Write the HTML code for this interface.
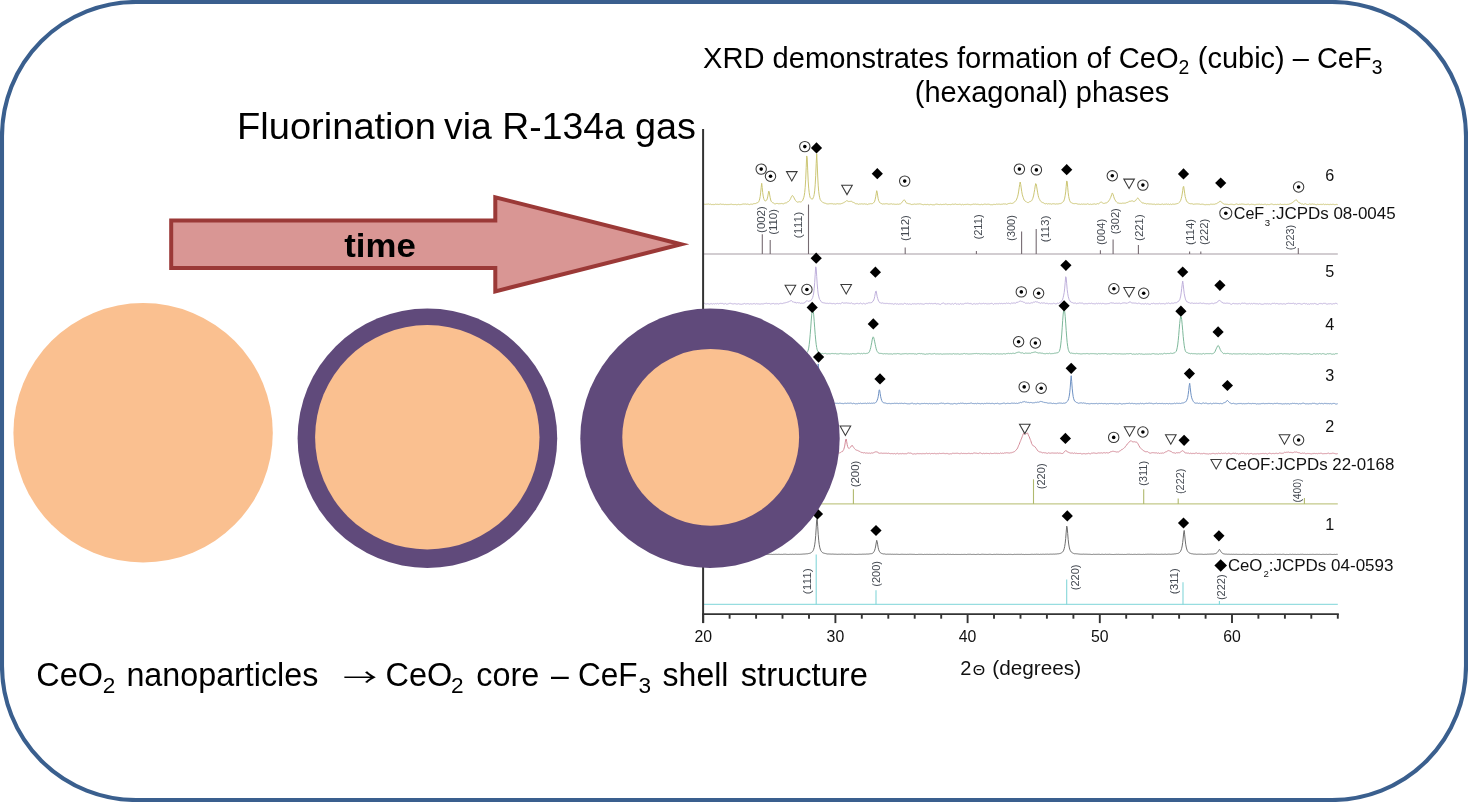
<!DOCTYPE html>
<html lang="en"><head><meta charset="utf-8"><title>CeO2 core – CeF3 shell graphical abstract</title>
<style>
html,body{margin:0;padding:0;background:#fff;}
body{width:1468px;height:802px;overflow:hidden;}
svg{display:block;}
text{font-family:"Liberation Sans",Arial,sans-serif;fill:#000;}
.big{font-size:37.33px;}
.bot{font-size:34px;}
.ttl{font-size:29.3px;}
.ax{font-size:16.2px;fill:#111;}
.lg{font-size:15.8px;fill:#111;}
.hk{font-size:11.5px;fill:#454a52;}
.num{font-size:16.2px;fill:#111;}
</style></head><body>
<svg width="1468" height="802" viewBox="0 0 1468 802">
<rect x="0" y="0" width="1468" height="802" fill="#fff"/>

<g id="chart">
<line x1="703.2" y1="254.0" x2="1337.8" y2="254.0" stroke="#a59ca3" stroke-width="1.2"/>
<line x1="703.2" y1="503.9" x2="1337.8" y2="503.9" stroke="#c3c98a" stroke-width="1.2"/>
<line x1="703.2" y1="604.4" x2="1337.8" y2="604.4" stroke="#97dde0" stroke-width="1.2"/>
<line x1="762.3" y1="234.2" x2="762.3" y2="254.0" stroke="#766b72" stroke-width="1.1"/>
<line x1="770.2" y1="240" x2="770.2" y2="254.0" stroke="#766b72" stroke-width="1.1"/>
<line x1="808.5" y1="204.5" x2="808.5" y2="254.0" stroke="#766b72" stroke-width="1.1"/>
<line x1="905.2" y1="247.5" x2="905.2" y2="254.0" stroke="#766b72" stroke-width="1.1"/>
<line x1="976.4" y1="251" x2="976.4" y2="254.0" stroke="#766b72" stroke-width="1.1"/>
<line x1="1021.6" y1="231.6" x2="1021.6" y2="254.0" stroke="#766b72" stroke-width="1.1"/>
<line x1="1036.2" y1="228.9" x2="1036.2" y2="254.0" stroke="#766b72" stroke-width="1.1"/>
<line x1="1100.4" y1="250.2" x2="1100.4" y2="254.0" stroke="#766b72" stroke-width="1.1"/>
<line x1="1113.1" y1="239.6" x2="1113.1" y2="254.0" stroke="#766b72" stroke-width="1.1"/>
<line x1="1138.4" y1="244.9" x2="1138.4" y2="254.0" stroke="#766b72" stroke-width="1.1"/>
<line x1="1189.6" y1="251.5" x2="1189.6" y2="254.0" stroke="#766b72" stroke-width="1.1"/>
<line x1="1200.8" y1="251.5" x2="1200.8" y2="254.0" stroke="#766b72" stroke-width="1.1"/>
<line x1="1298.3" y1="248" x2="1298.3" y2="254.0" stroke="#766b72" stroke-width="1.1"/>
<line x1="853.4" y1="489.2" x2="853.4" y2="503.9" stroke="#b0b96e" stroke-width="1.1"/>
<line x1="1033.5" y1="479.3" x2="1033.5" y2="503.9" stroke="#b0b96e" stroke-width="1.1"/>
<line x1="1143.7" y1="489.2" x2="1143.7" y2="503.9" stroke="#b0b96e" stroke-width="1.1"/>
<line x1="1178.2" y1="498.6" x2="1178.2" y2="503.9" stroke="#b0b96e" stroke-width="1.1"/>
<line x1="1304.4" y1="498" x2="1304.4" y2="503.9" stroke="#b0b96e" stroke-width="1.1"/>
<line x1="816.2" y1="554.4" x2="816.2" y2="604.4" stroke="#84d6d9" stroke-width="1.1"/>
<line x1="876" y1="590.3" x2="876" y2="604.4" stroke="#84d6d9" stroke-width="1.1"/>
<line x1="1066.7" y1="579.6" x2="1066.7" y2="604.4" stroke="#84d6d9" stroke-width="1.1"/>
<line x1="1183" y1="582.3" x2="1183" y2="604.4" stroke="#84d6d9" stroke-width="1.1"/>
<line x1="1219.4" y1="600.9" x2="1219.4" y2="604.4" stroke="#84d6d9" stroke-width="1.1"/>
<path d="M703.2,204.37 L703.7,204.21 L704.2,204.40 L704.7,204.18 L705.2,204.32 L705.7,204.30 L706.2,204.12 L706.7,204.26 L707.2,204.08 L707.7,204.20 L708.2,204.06 L708.7,203.99 L709.2,204.14 L709.7,204.45 L710.2,204.24 L710.7,204.17 L711.2,204.36 L711.7,204.65 L712.2,204.62 L712.7,204.49 L713.2,204.75 L713.7,204.38 L714.2,204.61 L714.7,204.43 L715.2,204.24 L715.7,204.11 L716.2,204.14 L716.7,204.44 L717.2,204.27 L717.7,204.39 L718.2,204.49 L718.7,204.40 L719.2,204.45 L719.7,204.20 L720.2,204.05 L720.7,204.05 L721.2,204.31 L721.7,204.32 L722.2,204.27 L722.7,204.38 L723.2,204.38 L723.7,204.29 L724.2,204.52 L724.7,204.60 L725.2,204.39 L725.7,204.45 L726.2,204.46 L726.7,204.66 L727.2,204.70 L727.7,204.47 L728.2,204.72 L728.7,204.39 L729.2,204.36 L729.7,204.53 L730.2,204.29 L730.7,204.34 L731.2,204.11 L731.7,204.33 L732.2,204.51 L732.7,204.51 L733.2,204.68 L733.7,204.47 L734.2,204.55 L734.7,204.55 L735.2,204.53 L735.7,204.45 L736.2,204.62 L736.7,204.78 L737.2,204.61 L737.7,204.61 L738.2,204.27 L738.7,204.43 L739.2,204.49 L739.7,204.72 L740.2,204.76 L740.7,204.48 L741.2,204.37 L741.7,204.46 L742.2,204.15 L742.7,204.20 L743.2,204.07 L743.7,203.96 L744.2,203.86 L744.7,204.19 L745.2,204.03 L745.7,204.00 L746.2,204.05 L746.7,204.35 L747.2,204.08 L747.7,204.12 L748.2,204.20 L748.7,204.42 L749.2,204.51 L749.7,204.59 L750.2,204.29 L750.7,204.18 L751.2,204.07 L751.7,204.29 L752.2,204.45 L752.7,204.07 L753.2,203.84 L753.7,203.70 L754.2,203.60 L754.7,203.63 L755.2,203.67 L755.7,203.45 L756.2,203.09 L756.7,203.01 L757.2,202.79 L757.7,202.58 L758.2,202.38 L758.7,201.70 L759.2,200.56 L759.7,198.93 L760.2,196.40 L760.7,192.17 L761.2,187.37 L761.7,183.32 L762.2,187.49 L762.7,192.50 L763.2,196.08 L763.7,198.40 L764.2,199.64 L764.7,200.66 L765.2,200.86 L765.7,200.83 L766.2,200.61 L766.7,199.99 L767.2,198.93 L767.7,196.90 L768.2,194.00 L768.7,191.11 L769.2,191.68 L769.7,194.98 L770.2,197.66 L770.7,199.98 L771.2,201.31 L771.7,201.90 L772.2,202.35 L772.7,202.72 L773.2,202.99 L773.7,203.04 L774.2,203.50 L774.7,203.87 L775.2,203.82 L775.7,203.80 L776.2,203.58 L776.7,203.46 L777.2,203.52 L777.7,203.51 L778.2,203.82 L778.7,203.63 L779.2,203.43 L779.7,203.83 L780.2,203.81 L780.7,203.58 L781.2,203.64 L781.7,203.38 L782.2,203.47 L782.7,203.75 L783.2,203.83 L783.7,203.74 L784.2,203.40 L784.7,203.20 L785.2,202.90 L785.7,202.98 L786.2,202.81 L786.7,202.73 L787.2,202.29 L787.7,201.80 L788.2,201.64 L788.7,201.39 L789.2,200.87 L789.7,200.19 L790.2,199.39 L790.7,198.46 L791.2,197.22 L791.7,196.36 L792.2,195.59 L792.7,195.68 L793.2,196.27 L793.7,197.19 L794.2,198.08 L794.7,199.13 L795.2,200.13 L795.7,200.60 L796.2,201.27 L796.7,201.79 L797.2,202.15 L797.7,202.07 L798.2,201.96 L798.7,201.90 L799.2,201.82 L799.7,201.74 L800.2,201.86 L800.7,201.99 L801.2,201.89 L801.7,201.43 L802.2,200.98 L802.7,200.39 L803.2,199.07 L803.7,197.76 L804.2,195.82 L804.7,192.58 L805.2,187.44 L805.7,179.25 L806.2,167.57 L806.7,155.95 L807.2,157.81 L807.7,170.14 L808.2,181.07 L808.7,188.14 L809.2,192.61 L809.7,195.72 L810.2,197.53 L810.7,198.33 L811.2,198.75 L811.7,198.89 L812.2,199.17 L812.7,198.92 L813.2,197.81 L813.7,196.61 L814.2,194.54 L814.7,190.82 L815.2,184.75 L815.7,175.70 L816.2,163.67 L816.7,153.84 L817.2,164.00 L817.7,176.00 L818.2,185.16 L818.7,191.40 L819.2,195.10 L819.7,197.75 L820.2,199.49 L820.7,200.33 L821.2,200.98 L821.7,201.50 L822.2,201.87 L822.7,202.36 L823.2,202.53 L823.7,202.77 L824.2,202.80 L824.7,203.29 L825.2,203.30 L825.7,203.39 L826.2,203.54 L826.7,203.84 L827.2,203.76 L827.7,204.00 L828.2,203.93 L828.7,203.92 L829.2,203.92 L829.7,203.64 L830.2,203.72 L830.7,203.63 L831.2,203.48 L831.7,203.84 L832.2,203.71 L832.7,203.80 L833.2,204.00 L833.7,204.03 L834.2,203.91 L834.7,203.95 L835.2,203.99 L835.7,204.13 L836.2,203.84 L836.7,203.91 L837.2,203.76 L837.7,203.68 L838.2,203.89 L838.7,203.85 L839.2,203.84 L839.7,203.91 L840.2,204.01 L840.7,203.76 L841.2,203.66 L841.7,203.48 L842.2,203.30 L842.7,203.20 L843.2,202.90 L843.7,202.63 L844.2,202.28 L844.7,202.16 L845.2,201.77 L845.7,201.47 L846.2,201.19 L846.7,200.57 L847.2,200.72 L847.7,201.17 L848.2,201.50 L848.7,201.39 L849.2,201.35 L849.7,201.51 L850.2,201.38 L850.7,201.36 L851.2,201.22 L851.7,201.46 L852.2,201.78 L852.7,202.23 L853.2,202.22 L853.7,202.63 L854.2,202.94 L854.7,202.91 L855.2,203.37 L855.7,203.74 L856.2,203.57 L856.7,203.92 L857.2,203.84 L857.7,203.87 L858.2,204.18 L858.7,204.30 L859.2,204.00 L859.7,203.99 L860.2,204.04 L860.7,203.97 L861.2,203.86 L861.7,203.87 L862.2,204.11 L862.7,203.86 L863.2,204.01 L863.7,204.04 L864.2,203.82 L864.7,203.86 L865.2,204.05 L865.7,204.10 L866.2,203.88 L866.7,204.25 L867.2,204.36 L867.7,204.52 L868.2,204.12 L868.7,203.96 L869.2,203.72 L869.7,203.97 L870.2,203.81 L870.7,203.60 L871.2,203.60 L871.7,203.81 L872.2,203.80 L872.7,203.36 L873.2,202.87 L873.7,202.76 L874.2,202.11 L874.7,201.19 L875.2,199.35 L875.7,196.76 L876.2,193.73 L876.7,190.69 L877.2,192.17 L877.7,195.92 L878.2,198.75 L878.7,200.73 L879.2,201.58 L879.7,202.58 L880.2,202.78 L880.7,203.39 L881.2,203.56 L881.7,203.62 L882.2,203.81 L882.7,204.15 L883.2,204.00 L883.7,203.84 L884.2,203.98 L884.7,203.92 L885.2,203.81 L885.7,203.79 L886.2,203.71 L886.7,203.76 L887.2,203.85 L887.7,203.91 L888.2,204.20 L888.7,204.11 L889.2,204.18 L889.7,204.04 L890.2,204.05 L890.7,203.88 L891.2,203.90 L891.7,203.78 L892.2,204.11 L892.7,204.20 L893.2,204.06 L893.7,204.12 L894.2,204.41 L894.7,204.12 L895.2,204.34 L895.7,204.24 L896.2,204.21 L896.7,204.36 L897.2,204.19 L897.7,204.13 L898.2,204.17 L898.7,204.32 L899.2,204.01 L899.7,204.03 L900.2,203.89 L900.7,203.66 L901.2,203.24 L901.7,202.76 L902.2,202.05 L902.7,201.34 L903.2,200.54 L903.7,200.18 L904.2,199.79 L904.7,200.26 L905.2,200.87 L905.7,201.91 L906.2,202.70 L906.7,203.16 L907.2,203.28 L907.7,203.38 L908.2,203.50 L908.7,203.70 L909.2,203.67 L909.7,203.83 L910.2,203.84 L910.7,204.25 L911.2,204.52 L911.7,204.44 L912.2,204.24 L912.7,204.53 L913.2,204.34 L913.7,204.25 L914.2,204.01 L914.7,204.08 L915.2,204.18 L915.7,204.26 L916.2,204.14 L916.7,204.24 L917.2,204.02 L917.7,204.03 L918.2,203.95 L918.7,204.07 L919.2,203.95 L919.7,203.86 L920.2,203.97 L920.7,204.00 L921.2,204.21 L921.7,204.31 L922.2,204.49 L922.7,204.55 L923.2,204.62 L923.7,204.75 L924.2,204.56 L924.7,204.41 L925.2,204.69 L925.7,204.39 L926.2,204.53 L926.7,204.57 L927.2,204.26 L927.7,204.52 L928.2,204.70 L928.7,204.67 L929.2,204.71 L929.7,204.77 L930.2,204.44 L930.7,204.45 L931.2,204.45 L931.7,204.63 L932.2,204.73 L932.7,204.79 L933.2,204.70 L933.7,204.82 L934.2,204.77 L934.7,204.75 L935.2,204.47 L935.7,204.20 L936.2,204.09 L936.7,204.15 L937.2,204.05 L937.7,204.40 L938.2,204.45 L938.7,204.52 L939.2,204.56 L939.7,204.62 L940.2,204.54 L940.7,204.23 L941.2,204.48 L941.7,204.61 L942.2,204.54 L942.7,204.52 L943.2,204.58 L943.7,204.29 L944.2,204.48 L944.7,204.33 L945.2,204.14 L945.7,204.13 L946.2,204.39 L946.7,204.24 L947.2,204.46 L947.7,204.72 L948.2,204.61 L948.7,204.48 L949.2,204.45 L949.7,204.55 L950.2,204.66 L950.7,204.64 L951.2,204.64 L951.7,204.33 L952.2,204.18 L952.7,204.15 L953.2,204.40 L953.7,204.31 L954.2,204.40 L954.7,204.15 L955.2,204.02 L955.7,204.06 L956.2,204.31 L956.7,204.47 L957.2,204.56 L957.7,204.40 L958.2,204.42 L958.7,204.41 L959.2,204.41 L959.7,204.21 L960.2,204.52 L960.7,204.32 L961.2,204.64 L961.7,204.80 L962.2,204.39 L962.7,204.39 L963.2,204.59 L963.7,204.79 L964.2,204.62 L964.7,204.42 L965.2,204.26 L965.7,204.58 L966.2,204.36 L966.7,204.44 L967.2,204.24 L967.7,204.33 L968.2,204.62 L968.7,204.34 L969.2,204.56 L969.7,204.51 L970.2,204.70 L970.7,204.70 L971.2,204.44 L971.7,204.66 L972.2,204.56 L972.7,204.24 L973.2,204.04 L973.7,204.19 L974.2,204.25 L974.7,204.21 L975.2,204.09 L975.7,204.14 L976.2,204.15 L976.7,204.45 L977.2,204.16 L977.7,204.40 L978.2,204.60 L978.7,204.31 L979.2,204.59 L979.7,204.64 L980.2,204.77 L980.7,204.51 L981.2,204.39 L981.7,204.34 L982.2,204.64 L982.7,204.60 L983.2,204.44 L983.7,204.38 L984.2,204.26 L984.7,204.06 L985.2,203.97 L985.7,204.32 L986.2,204.23 L986.7,204.53 L987.2,204.33 L987.7,204.22 L988.2,204.29 L988.7,204.15 L989.2,204.16 L989.7,204.50 L990.2,204.66 L990.7,204.71 L991.2,204.64 L991.7,204.76 L992.2,204.84 L992.7,204.67 L993.2,204.66 L993.7,204.27 L994.2,204.43 L994.7,204.36 L995.2,204.48 L995.7,204.49 L996.2,204.30 L996.7,204.04 L997.2,204.38 L997.7,204.13 L998.2,204.17 L998.7,204.12 L999.2,204.06 L999.7,204.27 L1000.2,204.52 L1000.7,204.27 L1001.2,204.33 L1001.7,204.16 L1002.2,204.20 L1002.7,204.13 L1003.2,203.95 L1003.7,203.83 L1004.2,203.78 L1004.7,204.13 L1005.2,204.10 L1005.7,203.92 L1006.2,204.18 L1006.7,204.37 L1007.2,204.17 L1007.7,203.86 L1008.2,203.68 L1008.7,203.49 L1009.2,203.50 L1009.7,203.33 L1010.2,203.28 L1010.7,203.23 L1011.2,203.32 L1011.7,203.50 L1012.2,203.47 L1012.7,203.18 L1013.2,202.91 L1013.7,202.69 L1014.2,202.33 L1014.7,201.90 L1015.2,201.25 L1015.7,200.67 L1016.2,200.30 L1016.7,199.08 L1017.2,197.84 L1017.7,196.23 L1018.2,194.17 L1018.7,191.08 L1019.2,187.67 L1019.7,184.35 L1020.2,182.00 L1020.7,184.40 L1021.2,187.91 L1021.7,191.30 L1022.2,194.20 L1022.7,195.99 L1023.2,197.43 L1023.7,198.92 L1024.2,200.10 L1024.7,200.71 L1025.2,201.24 L1025.7,201.31 L1026.2,201.62 L1026.7,202.13 L1027.2,202.39 L1027.7,202.56 L1028.2,202.70 L1028.7,202.32 L1029.2,201.95 L1029.7,201.64 L1030.2,201.52 L1030.7,201.35 L1031.2,201.14 L1031.7,200.55 L1032.2,199.71 L1032.7,198.66 L1033.2,197.06 L1033.7,195.08 L1034.2,192.26 L1034.7,189.44 L1035.2,186.03 L1035.7,183.60 L1036.2,184.10 L1036.7,186.84 L1037.2,189.92 L1037.7,192.85 L1038.2,195.47 L1038.7,197.49 L1039.2,198.67 L1039.7,199.58 L1040.2,200.55 L1040.7,201.31 L1041.2,201.76 L1041.7,202.03 L1042.2,202.48 L1042.7,202.48 L1043.2,202.70 L1043.7,202.96 L1044.2,203.43 L1044.7,203.57 L1045.2,203.82 L1045.7,203.76 L1046.2,203.61 L1046.7,203.54 L1047.2,203.92 L1047.7,204.01 L1048.2,203.86 L1048.7,203.61 L1049.2,203.74 L1049.7,203.93 L1050.2,203.90 L1050.7,203.80 L1051.2,203.97 L1051.7,204.22 L1052.2,203.98 L1052.7,203.73 L1053.2,203.74 L1053.7,203.80 L1054.2,203.98 L1054.7,203.81 L1055.2,204.04 L1055.7,204.14 L1056.2,204.05 L1056.7,203.83 L1057.2,204.10 L1057.7,203.89 L1058.2,204.02 L1058.7,203.74 L1059.2,203.54 L1059.7,203.68 L1060.2,203.45 L1060.7,203.61 L1061.2,203.37 L1061.7,202.94 L1062.2,202.54 L1062.7,202.19 L1063.2,201.81 L1063.7,201.29 L1064.2,199.85 L1064.7,198.11 L1065.2,195.38 L1065.7,191.84 L1066.2,186.33 L1066.7,180.95 L1067.2,181.73 L1067.7,187.26 L1068.2,192.64 L1068.7,196.45 L1069.2,198.89 L1069.7,200.64 L1070.2,201.76 L1070.7,202.19 L1071.2,202.44 L1071.7,203.08 L1072.2,203.40 L1072.7,203.24 L1073.2,203.53 L1073.7,203.58 L1074.2,203.63 L1074.7,203.65 L1075.2,203.59 L1075.7,203.48 L1076.2,203.58 L1076.7,203.69 L1077.2,204.11 L1077.7,203.90 L1078.2,204.25 L1078.7,204.05 L1079.2,204.01 L1079.7,204.26 L1080.2,204.41 L1080.7,204.29 L1081.2,204.00 L1081.7,204.07 L1082.2,204.06 L1082.7,204.36 L1083.2,204.14 L1083.7,204.10 L1084.2,204.38 L1084.7,204.06 L1085.2,204.08 L1085.7,204.32 L1086.2,204.44 L1086.7,204.10 L1087.2,203.90 L1087.7,203.79 L1088.2,204.20 L1088.7,204.08 L1089.2,204.27 L1089.7,204.48 L1090.2,204.28 L1090.7,204.12 L1091.2,204.41 L1091.7,204.38 L1092.2,204.17 L1092.7,204.28 L1093.2,204.12 L1093.7,203.99 L1094.2,203.76 L1094.7,204.02 L1095.2,204.25 L1095.7,204.22 L1096.2,204.34 L1096.7,203.87 L1097.2,203.67 L1097.7,203.63 L1098.2,203.80 L1098.7,203.82 L1099.2,203.39 L1099.7,202.91 L1100.2,202.55 L1100.7,202.24 L1101.2,202.24 L1101.7,202.17 L1102.2,202.63 L1102.7,202.97 L1103.2,203.26 L1103.7,203.43 L1104.2,203.43 L1104.7,203.24 L1105.2,203.09 L1105.7,202.97 L1106.2,203.05 L1106.7,202.61 L1107.2,202.29 L1107.7,202.23 L1108.2,201.70 L1108.7,201.00 L1109.2,200.20 L1109.7,199.53 L1110.2,198.41 L1110.7,197.40 L1111.2,195.99 L1111.7,194.59 L1112.2,193.07 L1112.7,193.45 L1113.2,194.73 L1113.7,196.45 L1114.2,198.12 L1114.7,199.31 L1115.2,200.14 L1115.7,200.91 L1116.2,201.62 L1116.7,202.17 L1117.2,202.61 L1117.7,203.00 L1118.2,203.17 L1118.7,203.00 L1119.2,203.33 L1119.7,203.24 L1120.2,203.35 L1120.7,203.32 L1121.2,203.50 L1121.7,203.30 L1122.2,203.20 L1122.7,203.12 L1123.2,203.00 L1123.7,203.30 L1124.2,203.28 L1124.7,203.08 L1125.2,202.94 L1125.7,203.13 L1126.2,202.89 L1126.7,202.51 L1127.2,202.51 L1127.7,202.31 L1128.2,202.27 L1128.7,201.63 L1129.2,201.35 L1129.7,201.29 L1130.2,201.20 L1130.7,201.28 L1131.2,200.97 L1131.7,200.98 L1132.2,200.94 L1132.7,200.97 L1133.2,201.43 L1133.7,201.43 L1134.2,201.54 L1134.7,201.15 L1135.2,200.99 L1135.7,200.40 L1136.2,199.63 L1136.7,199.14 L1137.2,198.69 L1137.7,197.85 L1138.2,198.29 L1138.7,199.09 L1139.2,199.71 L1139.7,200.45 L1140.2,200.98 L1140.7,201.48 L1141.2,201.92 L1141.7,202.47 L1142.2,202.89 L1142.7,202.95 L1143.2,202.93 L1143.7,203.13 L1144.2,203.48 L1144.7,203.45 L1145.2,203.52 L1145.7,203.52 L1146.2,203.87 L1146.7,203.96 L1147.2,203.75 L1147.7,203.66 L1148.2,203.78 L1148.7,203.95 L1149.2,204.11 L1149.7,203.90 L1150.2,203.83 L1150.7,204.09 L1151.2,204.09 L1151.7,204.02 L1152.2,204.00 L1152.7,204.35 L1153.2,204.21 L1153.7,204.26 L1154.2,204.19 L1154.7,204.17 L1155.2,204.42 L1155.7,204.64 L1156.2,204.42 L1156.7,204.20 L1157.2,204.37 L1157.7,204.17 L1158.2,203.95 L1158.7,204.31 L1159.2,204.27 L1159.7,204.46 L1160.2,204.35 L1160.7,204.55 L1161.2,204.43 L1161.7,204.19 L1162.2,203.97 L1162.7,204.13 L1163.2,204.28 L1163.7,204.52 L1164.2,204.20 L1164.7,204.31 L1165.2,204.23 L1165.7,204.26 L1166.2,204.07 L1166.7,204.03 L1167.2,204.14 L1167.7,204.43 L1168.2,204.14 L1168.7,204.18 L1169.2,204.37 L1169.7,204.57 L1170.2,204.26 L1170.7,204.02 L1171.2,204.33 L1171.7,204.52 L1172.2,204.35 L1172.7,204.00 L1173.2,204.26 L1173.7,204.10 L1174.2,204.28 L1174.7,204.20 L1175.2,204.24 L1175.7,203.86 L1176.2,203.94 L1176.7,203.62 L1177.2,203.47 L1177.7,203.54 L1178.2,203.46 L1178.7,202.91 L1179.2,202.39 L1179.7,201.91 L1180.2,201.30 L1180.7,200.30 L1181.2,198.74 L1181.7,196.70 L1182.2,194.12 L1182.7,190.75 L1183.2,186.83 L1183.7,186.34 L1184.2,189.92 L1184.7,193.32 L1185.2,196.59 L1185.7,198.51 L1186.2,200.13 L1186.7,201.22 L1187.2,202.03 L1187.7,202.42 L1188.2,202.78 L1188.7,203.15 L1189.2,203.33 L1189.7,203.60 L1190.2,203.68 L1190.7,203.75 L1191.2,203.58 L1191.7,203.83 L1192.2,203.93 L1192.7,203.85 L1193.2,204.12 L1193.7,204.30 L1194.2,204.23 L1194.7,204.04 L1195.2,204.10 L1195.7,203.94 L1196.2,203.86 L1196.7,203.99 L1197.2,203.88 L1197.7,204.01 L1198.2,204.13 L1198.7,203.95 L1199.2,204.17 L1199.7,204.00 L1200.2,204.26 L1200.7,204.45 L1201.2,204.41 L1201.7,204.13 L1202.2,204.22 L1202.7,204.20 L1203.2,204.51 L1203.7,204.25 L1204.2,204.49 L1204.7,204.71 L1205.2,204.70 L1205.7,204.74 L1206.2,204.41 L1206.7,204.66 L1207.2,204.53 L1207.7,204.71 L1208.2,204.80 L1208.7,204.43 L1209.2,204.55 L1209.7,204.70 L1210.2,204.30 L1210.7,204.22 L1211.2,204.39 L1211.7,204.15 L1212.2,204.41 L1212.7,204.21 L1213.2,204.38 L1213.7,204.09 L1214.2,204.09 L1214.7,204.30 L1215.2,204.00 L1215.7,203.80 L1216.2,203.75 L1216.7,203.54 L1217.2,203.15 L1217.7,202.85 L1218.2,202.46 L1218.7,202.42 L1219.2,201.99 L1219.7,201.63 L1220.2,200.93 L1220.7,201.50 L1221.2,201.77 L1221.7,202.38 L1222.2,202.94 L1222.7,203.19 L1223.2,203.69 L1223.7,203.85 L1224.2,203.99 L1224.7,204.26 L1225.2,204.01 L1225.7,204.37 L1226.2,204.40 L1226.7,204.29 L1227.2,204.46 L1227.7,204.27 L1228.2,204.57 L1228.7,204.53 L1229.2,204.38 L1229.7,204.53 L1230.2,204.43 L1230.7,204.23 L1231.2,204.43 L1231.7,204.17 L1232.2,204.44 L1232.7,204.29 L1233.2,204.42 L1233.7,204.69 L1234.2,204.63 L1234.7,204.64 L1235.2,204.45 L1235.7,204.16 L1236.2,204.01 L1236.7,203.98 L1237.2,204.23 L1237.7,204.27 L1238.2,204.35 L1238.7,204.60 L1239.2,204.33 L1239.7,204.22 L1240.2,204.40 L1240.7,204.15 L1241.2,203.99 L1241.7,204.09 L1242.2,204.01 L1242.7,204.11 L1243.2,204.09 L1243.7,204.28 L1244.2,204.40 L1244.7,204.25 L1245.2,204.40 L1245.7,204.41 L1246.2,204.22 L1246.7,204.56 L1247.2,204.37 L1247.7,204.21 L1248.2,204.08 L1248.7,204.31 L1249.2,204.57 L1249.7,204.68 L1250.2,204.54 L1250.7,204.37 L1251.2,204.13 L1251.7,204.34 L1252.2,204.42 L1252.7,204.35 L1253.2,204.48 L1253.7,204.44 L1254.2,204.69 L1254.7,204.73 L1255.2,204.48 L1255.7,204.69 L1256.2,204.34 L1256.7,204.41 L1257.2,204.37 L1257.7,204.26 L1258.2,204.09 L1258.7,204.39 L1259.2,204.14 L1259.7,204.30 L1260.2,204.61 L1260.7,204.34 L1261.2,204.22 L1261.7,204.37 L1262.2,204.41 L1262.7,204.50 L1263.2,204.66 L1263.7,204.39 L1264.2,204.31 L1264.7,204.25 L1265.2,204.08 L1265.7,204.44 L1266.2,204.60 L1266.7,204.66 L1267.2,204.30 L1267.7,204.55 L1268.2,204.64 L1268.7,204.54 L1269.2,204.64 L1269.7,204.53 L1270.2,204.34 L1270.7,204.16 L1271.2,204.12 L1271.7,203.98 L1272.2,204.07 L1272.7,204.35 L1273.2,204.49 L1273.7,204.66 L1274.2,204.68 L1274.7,204.44 L1275.2,204.46 L1275.7,204.40 L1276.2,204.57 L1276.7,204.51 L1277.2,204.33 L1277.7,204.44 L1278.2,204.68 L1278.7,204.40 L1279.2,204.60 L1279.7,204.24 L1280.2,204.15 L1280.7,204.08 L1281.2,204.32 L1281.7,204.57 L1282.2,204.61 L1282.7,204.39 L1283.2,204.56 L1283.7,204.35 L1284.2,204.16 L1284.7,204.41 L1285.2,204.40 L1285.7,204.42 L1286.2,204.39 L1286.7,204.54 L1287.2,204.32 L1287.7,204.38 L1288.2,204.30 L1288.7,204.32 L1289.2,204.05 L1289.7,204.01 L1290.2,203.84 L1290.7,203.52 L1291.2,203.19 L1291.7,203.13 L1292.2,202.66 L1292.7,202.70 L1293.2,202.11 L1293.7,201.50 L1294.2,200.96 L1294.7,200.89 L1295.2,200.36 L1295.7,199.84 L1296.2,199.74 L1296.7,200.04 L1297.2,200.81 L1297.7,201.45 L1298.2,202.03 L1298.7,202.53 L1299.2,202.55 L1299.7,202.94 L1300.2,203.10 L1300.7,203.51 L1301.2,203.80 L1301.7,204.05 L1302.2,203.77 L1302.7,204.07 L1303.2,204.30 L1303.7,204.47 L1304.2,204.12 L1304.7,203.98 L1305.2,203.86 L1305.7,203.75 L1306.2,204.15 L1306.7,204.37 L1307.2,204.42 L1307.7,204.56 L1308.2,204.54 L1308.7,204.34 L1309.2,204.12 L1309.7,203.99 L1310.2,204.28 L1310.7,204.15 L1311.2,204.14 L1311.7,204.20 L1312.2,204.01 L1312.7,204.03 L1313.2,204.06 L1313.7,204.32 L1314.2,204.28 L1314.7,204.23 L1315.2,204.57 L1315.7,204.51 L1316.2,204.67 L1316.7,204.64 L1317.2,204.30 L1317.7,204.30 L1318.2,204.32 L1318.7,204.52 L1319.2,204.40 L1319.7,204.53 L1320.2,204.52 L1320.7,204.33 L1321.2,204.58 L1321.7,204.30 L1322.2,204.54 L1322.7,204.32 L1323.2,204.10 L1323.7,204.07 L1324.2,204.37 L1324.7,204.67 L1325.2,204.31 L1325.7,204.37 L1326.2,204.40 L1326.7,204.59 L1327.2,204.36 L1327.7,204.40 L1328.2,204.34 L1328.7,204.58 L1329.2,204.40 L1329.7,204.67 L1330.2,204.47 L1330.7,204.31 L1331.2,204.49 L1331.7,204.48 L1332.2,204.26 L1332.7,204.42 L1333.2,204.21 L1333.7,204.47 L1334.2,204.58 L1334.7,204.70 L1335.2,204.68 L1335.7,204.52 L1336.2,204.45 L1336.7,204.40 L1337.2,204.65 L1337.7,204.35" fill="none" stroke="#ccc674" stroke-width="1.0" stroke-linejoin="round"/>
<path d="M703.2,304.10 L703.7,303.60 L704.2,303.44 L704.7,303.39 L705.2,303.87 L705.7,303.84 L706.2,303.72 L706.7,304.06 L707.2,303.74 L707.7,303.73 L708.2,303.78 L708.7,303.98 L709.2,304.11 L709.7,304.10 L710.2,303.85 L710.7,303.69 L711.2,303.45 L711.7,303.86 L712.2,303.96 L712.7,304.08 L713.2,303.70 L713.7,303.69 L714.2,303.95 L714.7,303.95 L715.2,303.58 L715.7,303.63 L716.2,304.00 L716.7,303.71 L717.2,303.49 L717.7,303.45 L718.2,303.75 L718.7,304.04 L719.2,303.66 L719.7,303.43 L720.2,303.37 L720.7,303.40 L721.2,303.57 L721.7,303.39 L722.2,303.41 L722.7,303.31 L723.2,303.88 L723.7,304.02 L724.2,303.61 L724.7,304.05 L725.2,303.62 L725.7,303.59 L726.2,304.06 L726.7,304.18 L727.2,304.21 L727.7,303.99 L728.2,303.66 L728.7,303.82 L729.2,303.49 L729.7,303.37 L730.2,303.45 L730.7,303.21 L731.2,303.36 L731.7,303.76 L732.2,303.92 L732.7,303.87 L733.2,303.94 L733.7,303.84 L734.2,303.53 L734.7,303.71 L735.2,303.66 L735.7,303.90 L736.2,304.18 L736.7,303.96 L737.2,303.95 L737.7,304.08 L738.2,303.89 L738.7,303.63 L739.2,303.87 L739.7,304.13 L740.2,304.21 L740.7,304.20 L741.2,304.31 L741.7,304.24 L742.2,304.17 L742.7,303.97 L743.2,303.74 L743.7,303.86 L744.2,303.50 L744.7,303.55 L745.2,303.86 L745.7,304.00 L746.2,304.01 L746.7,303.71 L747.2,303.67 L747.7,303.68 L748.2,303.81 L748.7,303.72 L749.2,303.88 L749.7,304.18 L750.2,303.76 L750.7,303.89 L751.2,304.06 L751.7,303.85 L752.2,303.81 L752.7,304.17 L753.2,303.64 L753.7,303.72 L754.2,303.47 L754.7,303.81 L755.2,304.14 L755.7,304.00 L756.2,303.59 L756.7,303.71 L757.2,303.76 L757.7,303.93 L758.2,303.87 L758.7,303.93 L759.2,304.12 L759.7,303.99 L760.2,303.82 L760.7,304.15 L761.2,303.76 L761.7,303.90 L762.2,303.75 L762.7,303.96 L763.2,303.57 L763.7,304.02 L764.2,303.79 L764.7,303.41 L765.2,303.36 L765.7,303.43 L766.2,303.16 L766.7,303.32 L767.2,303.42 L767.7,303.70 L768.2,303.59 L768.7,303.45 L769.2,303.34 L769.7,303.68 L770.2,304.04 L770.7,303.93 L771.2,303.61 L771.7,303.89 L772.2,303.72 L772.7,303.48 L773.2,303.26 L773.7,303.65 L774.2,303.90 L774.7,303.91 L775.2,303.79 L775.7,303.78 L776.2,303.50 L776.7,303.93 L777.2,303.69 L777.7,303.77 L778.2,303.95 L778.7,304.06 L779.2,303.83 L779.7,303.55 L780.2,303.58 L780.7,303.25 L781.2,303.61 L781.7,303.42 L782.2,303.70 L782.7,303.38 L783.2,303.25 L783.7,303.05 L784.2,303.05 L784.7,302.81 L785.2,302.49 L785.7,302.82 L786.2,302.61 L786.7,302.38 L787.2,302.19 L787.7,302.12 L788.2,301.91 L788.7,301.80 L789.2,301.60 L789.7,301.09 L790.2,301.10 L790.7,300.97 L791.2,300.37 L791.7,300.92 L792.2,301.48 L792.7,301.87 L793.2,301.71 L793.7,302.27 L794.2,302.51 L794.7,302.22 L795.2,302.09 L795.7,302.80 L796.2,303.01 L796.7,302.83 L797.2,302.62 L797.7,302.54 L798.2,302.57 L798.7,303.02 L799.2,302.95 L799.7,302.75 L800.2,303.22 L800.7,303.39 L801.2,302.98 L801.7,303.29 L802.2,303.21 L802.7,303.26 L803.2,303.13 L803.7,303.16 L804.2,302.98 L804.7,302.78 L805.2,301.96 L805.7,301.65 L806.2,301.13 L806.7,300.85 L807.2,300.66 L807.7,301.18 L808.2,301.35 L808.7,301.26 L809.2,301.15 L809.7,300.93 L810.2,300.95 L810.7,300.43 L811.2,300.17 L811.7,299.38 L812.2,298.64 L812.7,297.43 L813.2,295.58 L813.7,293.02 L814.2,288.24 L814.7,282.42 L815.2,274.37 L815.7,266.83 L816.2,268.24 L816.7,276.41 L817.2,283.89 L817.7,289.58 L818.2,293.93 L818.7,296.14 L819.2,298.14 L819.7,299.52 L820.2,300.01 L820.7,300.89 L821.2,301.57 L821.7,302.25 L822.2,302.25 L822.7,302.82 L823.2,302.83 L823.7,302.86 L824.2,303.24 L824.7,302.80 L825.2,303.11 L825.7,303.24 L826.2,303.11 L826.7,303.47 L827.2,303.30 L827.7,303.30 L828.2,303.35 L828.7,303.58 L829.2,303.29 L829.7,303.30 L830.2,303.30 L830.7,303.41 L831.2,303.70 L831.7,303.45 L832.2,303.74 L832.7,303.57 L833.2,303.55 L833.7,303.36 L834.2,303.43 L834.7,303.85 L835.2,303.85 L835.7,303.96 L836.2,303.65 L836.7,303.46 L837.2,303.32 L837.7,303.47 L838.2,303.59 L838.7,303.77 L839.2,303.28 L839.7,303.52 L840.2,303.78 L840.7,303.65 L841.2,303.16 L841.7,303.04 L842.2,302.70 L842.7,302.61 L843.2,303.09 L843.7,303.08 L844.2,303.06 L844.7,303.09 L845.2,303.17 L845.7,302.94 L846.2,302.86 L846.7,302.92 L847.2,303.08 L847.7,303.15 L848.2,303.31 L848.7,303.06 L849.2,303.31 L849.7,303.31 L850.2,303.57 L850.7,303.22 L851.2,303.08 L851.7,302.89 L852.2,303.37 L852.7,303.78 L853.2,303.83 L853.7,303.63 L854.2,303.88 L854.7,304.00 L855.2,303.90 L855.7,303.60 L856.2,303.45 L856.7,303.46 L857.2,303.38 L857.7,303.43 L858.2,303.63 L858.7,303.98 L859.2,303.48 L859.7,303.60 L860.2,303.24 L860.7,303.09 L861.2,303.55 L861.7,303.64 L862.2,303.96 L862.7,303.77 L863.2,303.31 L863.7,303.33 L864.2,303.50 L864.7,303.87 L865.2,304.12 L865.7,303.86 L866.2,303.64 L866.7,303.25 L867.2,303.44 L867.7,303.19 L868.2,302.97 L868.7,302.70 L869.2,302.50 L869.7,302.89 L870.2,302.61 L870.7,303.06 L871.2,302.53 L871.7,302.70 L872.2,302.04 L872.7,301.30 L873.2,301.05 L873.7,299.96 L874.2,298.89 L874.7,296.62 L875.2,293.69 L875.7,291.36 L876.2,291.11 L876.7,293.97 L877.2,296.78 L877.7,298.44 L878.2,300.07 L878.7,301.23 L879.2,301.80 L879.7,302.59 L880.2,302.58 L880.7,303.18 L881.2,303.37 L881.7,302.96 L882.2,302.73 L882.7,303.12 L883.2,303.51 L883.7,303.17 L884.2,303.16 L884.7,303.49 L885.2,303.25 L885.7,303.68 L886.2,303.63 L886.7,303.27 L887.2,303.31 L887.7,303.50 L888.2,303.51 L888.7,303.71 L889.2,303.41 L889.7,303.75 L890.2,303.62 L890.7,303.76 L891.2,303.84 L891.7,303.72 L892.2,303.62 L892.7,303.88 L893.2,304.17 L893.7,304.22 L894.2,304.07 L894.7,303.76 L895.2,303.40 L895.7,303.91 L896.2,304.00 L896.7,304.15 L897.2,303.85 L897.7,303.89 L898.2,304.21 L898.7,304.29 L899.2,304.15 L899.7,303.83 L900.2,303.74 L900.7,304.05 L901.2,303.83 L901.7,303.95 L902.2,303.95 L902.7,304.19 L903.2,304.26 L903.7,303.88 L904.2,303.43 L904.7,303.37 L905.2,303.46 L905.7,303.65 L906.2,303.95 L906.7,304.18 L907.2,303.65 L907.7,303.96 L908.2,304.13 L908.7,304.28 L909.2,304.13 L909.7,303.80 L910.2,304.07 L910.7,304.19 L911.2,304.17 L911.7,304.34 L912.2,303.99 L912.7,303.57 L913.2,303.69 L913.7,303.96 L914.2,303.64 L914.7,303.89 L915.2,304.19 L915.7,303.81 L916.2,303.88 L916.7,303.98 L917.2,303.87 L917.7,303.59 L918.2,303.47 L918.7,303.79 L919.2,304.02 L919.7,303.89 L920.2,303.51 L920.7,303.86 L921.2,304.04 L921.7,303.72 L922.2,303.81 L922.7,304.11 L923.2,304.28 L923.7,304.10 L924.2,303.95 L924.7,303.95 L925.2,303.63 L925.7,303.44 L926.2,303.32 L926.7,303.66 L927.2,303.60 L927.7,303.72 L928.2,303.66 L928.7,303.72 L929.2,303.46 L929.7,303.22 L930.2,303.84 L930.7,303.71 L931.2,303.42 L931.7,303.67 L932.2,303.94 L932.7,303.60 L933.2,303.75 L933.7,303.64 L934.2,303.71 L934.7,303.35 L935.2,303.15 L935.7,303.79 L936.2,304.08 L936.7,303.95 L937.2,303.93 L937.7,303.68 L938.2,303.94 L938.7,303.82 L939.2,304.16 L939.7,304.22 L940.2,304.30 L940.7,304.46 L941.2,303.99 L941.7,303.54 L942.2,303.39 L942.7,303.29 L943.2,303.15 L943.7,303.04 L944.2,303.38 L944.7,303.84 L945.2,303.78 L945.7,304.14 L946.2,304.32 L946.7,303.75 L947.2,303.84 L947.7,303.73 L948.2,303.45 L948.7,303.95 L949.2,303.68 L949.7,303.77 L950.2,303.89 L950.7,304.21 L951.2,304.17 L951.7,303.93 L952.2,303.83 L952.7,303.53 L953.2,304.00 L953.7,304.31 L954.2,303.87 L954.7,303.46 L955.2,303.39 L955.7,303.43 L956.2,303.89 L956.7,304.17 L957.2,304.28 L957.7,303.72 L958.2,303.97 L958.7,304.06 L959.2,304.06 L959.7,304.34 L960.2,303.76 L960.7,303.48 L961.2,303.80 L961.7,304.14 L962.2,304.14 L962.7,303.83 L963.2,303.88 L963.7,304.04 L964.2,303.62 L964.7,303.54 L965.2,303.44 L965.7,303.27 L966.2,303.46 L966.7,303.32 L967.2,303.29 L967.7,303.20 L968.2,303.57 L968.7,303.26 L969.2,303.64 L969.7,303.45 L970.2,303.20 L970.7,303.77 L971.2,303.55 L971.7,303.98 L972.2,304.19 L972.7,304.33 L973.2,303.82 L973.7,303.76 L974.2,303.44 L974.7,303.91 L975.2,304.13 L975.7,304.09 L976.2,303.92 L976.7,303.73 L977.2,304.00 L977.7,303.89 L978.2,303.94 L978.7,303.58 L979.2,303.43 L979.7,303.21 L980.2,303.60 L980.7,303.71 L981.2,303.44 L981.7,303.87 L982.2,303.64 L982.7,303.61 L983.2,303.40 L983.7,303.36 L984.2,303.79 L984.7,303.64 L985.2,303.42 L985.7,303.55 L986.2,303.48 L986.7,303.91 L987.2,303.54 L987.7,304.01 L988.2,303.55 L988.7,303.94 L989.2,304.00 L989.7,303.67 L990.2,303.68 L990.7,303.53 L991.2,303.42 L991.7,303.31 L992.2,303.37 L992.7,303.91 L993.2,304.24 L993.7,304.37 L994.2,303.79 L994.7,303.60 L995.2,303.97 L995.7,303.51 L996.2,303.78 L996.7,303.59 L997.2,304.02 L997.7,303.51 L998.2,303.83 L998.7,303.65 L999.2,303.38 L999.7,303.11 L1000.2,303.61 L1000.7,303.66 L1001.2,303.42 L1001.7,303.47 L1002.2,303.88 L1002.7,303.57 L1003.2,303.66 L1003.7,303.37 L1004.2,303.22 L1004.7,303.60 L1005.2,303.78 L1005.7,303.47 L1006.2,303.18 L1006.7,303.01 L1007.2,303.32 L1007.7,303.41 L1008.2,303.28 L1008.7,303.13 L1009.2,303.37 L1009.7,303.57 L1010.2,303.76 L1010.7,303.68 L1011.2,303.31 L1011.7,302.96 L1012.2,303.26 L1012.7,303.16 L1013.2,303.32 L1013.7,302.86 L1014.2,303.14 L1014.7,302.89 L1015.2,303.09 L1015.7,303.18 L1016.2,302.87 L1016.7,302.22 L1017.2,302.47 L1017.7,302.19 L1018.2,302.24 L1018.7,301.71 L1019.2,301.26 L1019.7,301.45 L1020.2,301.17 L1020.7,301.03 L1021.2,301.20 L1021.7,301.57 L1022.2,301.40 L1022.7,301.79 L1023.2,302.03 L1023.7,302.28 L1024.2,302.16 L1024.7,302.60 L1025.2,302.98 L1025.7,303.27 L1026.2,303.03 L1026.7,303.21 L1027.2,303.06 L1027.7,303.28 L1028.2,302.85 L1028.7,303.25 L1029.2,303.54 L1029.7,303.34 L1030.2,303.22 L1030.7,303.14 L1031.2,303.08 L1031.7,302.60 L1032.2,303.03 L1032.7,302.65 L1033.2,302.35 L1033.7,302.05 L1034.2,301.95 L1034.7,302.29 L1035.2,301.84 L1035.7,301.59 L1036.2,301.97 L1036.7,301.89 L1037.2,301.75 L1037.7,302.19 L1038.2,302.49 L1038.7,302.67 L1039.2,302.96 L1039.7,302.69 L1040.2,303.17 L1040.7,303.36 L1041.2,302.95 L1041.7,302.79 L1042.2,303.00 L1042.7,303.15 L1043.2,303.07 L1043.7,302.91 L1044.2,303.04 L1044.7,302.91 L1045.2,303.21 L1045.7,303.60 L1046.2,303.27 L1046.7,303.42 L1047.2,303.64 L1047.7,303.31 L1048.2,303.65 L1048.7,303.93 L1049.2,303.67 L1049.7,303.53 L1050.2,303.78 L1050.7,303.67 L1051.2,303.50 L1051.7,303.83 L1052.2,303.89 L1052.7,303.57 L1053.2,303.29 L1053.7,303.19 L1054.2,303.20 L1054.7,303.62 L1055.2,303.72 L1055.7,303.85 L1056.2,303.83 L1056.7,303.82 L1057.2,303.14 L1057.7,303.07 L1058.2,303.33 L1058.7,303.42 L1059.2,302.84 L1059.7,302.55 L1060.2,302.42 L1060.7,301.97 L1061.2,301.62 L1061.7,300.75 L1062.2,300.11 L1062.7,299.19 L1063.2,297.39 L1063.7,295.13 L1064.2,292.53 L1064.7,288.12 L1065.2,282.44 L1065.7,276.71 L1066.2,277.76 L1066.7,283.79 L1067.2,289.60 L1067.7,293.28 L1068.2,296.34 L1068.7,298.11 L1069.2,299.66 L1069.7,300.41 L1070.2,301.17 L1070.7,302.03 L1071.2,302.37 L1071.7,302.34 L1072.2,302.58 L1072.7,302.70 L1073.2,303.21 L1073.7,303.02 L1074.2,302.94 L1074.7,303.19 L1075.2,302.94 L1075.7,303.18 L1076.2,303.63 L1076.7,303.56 L1077.2,303.33 L1077.7,303.36 L1078.2,303.44 L1078.7,303.18 L1079.2,303.02 L1079.7,302.93 L1080.2,303.01 L1080.7,303.16 L1081.2,303.16 L1081.7,303.12 L1082.2,302.98 L1082.7,303.27 L1083.2,303.68 L1083.7,303.74 L1084.2,303.75 L1084.7,303.82 L1085.2,303.51 L1085.7,303.73 L1086.2,303.66 L1086.7,303.69 L1087.2,303.77 L1087.7,303.70 L1088.2,303.53 L1088.7,303.37 L1089.2,303.27 L1089.7,303.43 L1090.2,303.43 L1090.7,303.59 L1091.2,303.23 L1091.7,303.29 L1092.2,303.73 L1092.7,303.50 L1093.2,303.61 L1093.7,303.63 L1094.2,303.47 L1094.7,303.94 L1095.2,303.67 L1095.7,303.88 L1096.2,303.52 L1096.7,303.23 L1097.2,303.70 L1097.7,303.63 L1098.2,303.29 L1098.7,303.34 L1099.2,303.41 L1099.7,303.69 L1100.2,303.35 L1100.7,303.23 L1101.2,303.75 L1101.7,303.88 L1102.2,303.48 L1102.7,303.38 L1103.2,303.33 L1103.7,303.55 L1104.2,303.63 L1104.7,303.85 L1105.2,303.95 L1105.7,303.75 L1106.2,303.79 L1106.7,303.80 L1107.2,303.80 L1107.7,303.55 L1108.2,303.61 L1108.7,303.56 L1109.2,303.66 L1109.7,303.06 L1110.2,303.25 L1110.7,302.65 L1111.2,302.86 L1111.7,302.83 L1112.2,302.77 L1112.7,303.16 L1113.2,303.12 L1113.7,303.00 L1114.2,303.26 L1114.7,303.51 L1115.2,303.47 L1115.7,303.28 L1116.2,303.25 L1116.7,303.24 L1117.2,303.46 L1117.7,303.25 L1118.2,303.21 L1118.7,303.31 L1119.2,303.24 L1119.7,303.15 L1120.2,303.46 L1120.7,303.69 L1121.2,303.54 L1121.7,303.40 L1122.2,303.10 L1122.7,303.00 L1123.2,302.80 L1123.7,303.00 L1124.2,303.11 L1124.7,302.75 L1125.2,303.18 L1125.7,302.92 L1126.2,303.15 L1126.7,303.25 L1127.2,303.37 L1127.7,302.79 L1128.2,302.59 L1128.7,302.82 L1129.2,302.20 L1129.7,301.84 L1130.2,302.02 L1130.7,302.12 L1131.2,302.59 L1131.7,302.79 L1132.2,302.76 L1132.7,303.16 L1133.2,303.05 L1133.7,303.02 L1134.2,303.17 L1134.7,303.05 L1135.2,302.98 L1135.7,303.15 L1136.2,303.08 L1136.7,303.53 L1137.2,303.60 L1137.7,303.54 L1138.2,303.17 L1138.7,303.18 L1139.2,303.22 L1139.7,303.38 L1140.2,303.50 L1140.7,303.82 L1141.2,304.08 L1141.7,303.87 L1142.2,303.70 L1142.7,303.76 L1143.2,304.09 L1143.7,303.78 L1144.2,303.74 L1144.7,303.95 L1145.2,303.56 L1145.7,303.45 L1146.2,303.91 L1146.7,304.07 L1147.2,303.91 L1147.7,303.50 L1148.2,303.88 L1148.7,303.95 L1149.2,304.09 L1149.7,304.32 L1150.2,304.37 L1150.7,304.03 L1151.2,303.61 L1151.7,303.47 L1152.2,303.56 L1152.7,303.62 L1153.2,303.39 L1153.7,303.25 L1154.2,303.53 L1154.7,303.67 L1155.2,303.56 L1155.7,304.00 L1156.2,303.98 L1156.7,303.50 L1157.2,303.50 L1157.7,303.80 L1158.2,303.60 L1158.7,303.78 L1159.2,303.34 L1159.7,303.31 L1160.2,303.73 L1160.7,303.77 L1161.2,303.86 L1161.7,303.54 L1162.2,303.58 L1162.7,303.65 L1163.2,303.46 L1163.7,303.65 L1164.2,303.67 L1164.7,304.05 L1165.2,303.93 L1165.7,303.73 L1166.2,303.37 L1166.7,303.18 L1167.2,303.55 L1167.7,303.24 L1168.2,303.04 L1168.7,302.97 L1169.2,303.21 L1169.7,303.58 L1170.2,303.63 L1170.7,303.80 L1171.2,303.30 L1171.7,302.94 L1172.2,303.32 L1172.7,303.17 L1173.2,303.37 L1173.7,303.17 L1174.2,302.88 L1174.7,302.74 L1175.2,302.48 L1175.7,302.91 L1176.2,302.84 L1176.7,302.52 L1177.2,302.28 L1177.7,301.93 L1178.2,301.24 L1178.7,301.21 L1179.2,300.53 L1179.7,299.84 L1180.2,298.17 L1180.7,296.08 L1181.2,292.78 L1181.7,288.40 L1182.2,284.35 L1182.7,281.12 L1183.2,284.31 L1183.7,289.16 L1184.2,293.32 L1184.7,295.98 L1185.2,298.11 L1185.7,299.88 L1186.2,300.71 L1186.7,301.68 L1187.2,301.80 L1187.7,302.06 L1188.2,302.53 L1188.7,302.47 L1189.2,302.55 L1189.7,303.08 L1190.2,303.11 L1190.7,303.40 L1191.2,303.16 L1191.7,302.97 L1192.2,303.03 L1192.7,302.93 L1193.2,303.52 L1193.7,303.33 L1194.2,303.45 L1194.7,303.17 L1195.2,303.34 L1195.7,303.33 L1196.2,303.35 L1196.7,303.09 L1197.2,302.99 L1197.7,303.49 L1198.2,303.42 L1198.7,303.29 L1199.2,303.18 L1199.7,303.18 L1200.2,303.15 L1200.7,302.97 L1201.2,303.37 L1201.7,303.35 L1202.2,303.20 L1202.7,303.54 L1203.2,303.26 L1203.7,303.23 L1204.2,303.67 L1204.7,303.37 L1205.2,303.44 L1205.7,303.79 L1206.2,303.98 L1206.7,303.57 L1207.2,303.49 L1207.7,303.73 L1208.2,303.59 L1208.7,303.97 L1209.2,303.60 L1209.7,303.96 L1210.2,303.82 L1210.7,303.50 L1211.2,303.49 L1211.7,303.21 L1212.2,303.49 L1212.7,303.29 L1213.2,303.66 L1213.7,303.60 L1214.2,303.36 L1214.7,303.08 L1215.2,303.14 L1215.7,302.79 L1216.2,303.00 L1216.7,302.39 L1217.2,302.15 L1217.7,301.80 L1218.2,301.09 L1218.7,300.80 L1219.2,300.17 L1219.7,300.39 L1220.2,300.94 L1220.7,301.33 L1221.2,301.80 L1221.7,301.94 L1222.2,302.16 L1222.7,302.88 L1223.2,302.92 L1223.7,303.25 L1224.2,303.02 L1224.7,303.27 L1225.2,303.27 L1225.7,303.39 L1226.2,303.31 L1226.7,303.09 L1227.2,303.16 L1227.7,303.13 L1228.2,303.05 L1228.7,303.47 L1229.2,303.38 L1229.7,303.43 L1230.2,303.86 L1230.7,304.02 L1231.2,304.20 L1231.7,304.30 L1232.2,303.77 L1232.7,303.57 L1233.2,303.26 L1233.7,303.59 L1234.2,303.78 L1234.7,303.64 L1235.2,303.61 L1235.7,303.79 L1236.2,303.93 L1236.7,303.66 L1237.2,303.97 L1237.7,303.77 L1238.2,303.86 L1238.7,303.57 L1239.2,303.33 L1239.7,303.83 L1240.2,303.99 L1240.7,304.07 L1241.2,303.58 L1241.7,303.28 L1242.2,303.21 L1242.7,303.19 L1243.2,303.26 L1243.7,303.37 L1244.2,303.16 L1244.7,303.25 L1245.2,303.57 L1245.7,303.39 L1246.2,303.82 L1246.7,303.85 L1247.2,303.99 L1247.7,303.71 L1248.2,303.68 L1248.7,303.87 L1249.2,303.71 L1249.7,303.34 L1250.2,303.78 L1250.7,304.00 L1251.2,303.74 L1251.7,303.39 L1252.2,303.83 L1252.7,303.89 L1253.2,303.48 L1253.7,303.40 L1254.2,303.24 L1254.7,303.69 L1255.2,303.49 L1255.7,303.94 L1256.2,304.07 L1256.7,303.63 L1257.2,303.84 L1257.7,303.73 L1258.2,303.95 L1258.7,304.15 L1259.2,303.83 L1259.7,303.48 L1260.2,303.96 L1260.7,303.83 L1261.2,304.15 L1261.7,304.16 L1262.2,304.20 L1262.7,304.30 L1263.2,304.19 L1263.7,303.99 L1264.2,303.55 L1264.7,303.80 L1265.2,303.74 L1265.7,303.77 L1266.2,304.12 L1266.7,303.69 L1267.2,303.94 L1267.7,303.51 L1268.2,303.78 L1268.7,304.03 L1269.2,303.74 L1269.7,303.80 L1270.2,304.17 L1270.7,304.13 L1271.2,304.02 L1271.7,303.73 L1272.2,303.40 L1272.7,303.44 L1273.2,303.51 L1273.7,303.38 L1274.2,303.39 L1274.7,303.26 L1275.2,303.64 L1275.7,303.83 L1276.2,303.61 L1276.7,303.47 L1277.2,303.61 L1277.7,303.64 L1278.2,304.05 L1278.7,303.82 L1279.2,303.65 L1279.7,304.01 L1280.2,303.64 L1280.7,303.75 L1281.2,303.63 L1281.7,303.95 L1282.2,303.92 L1282.7,304.08 L1283.2,303.70 L1283.7,303.87 L1284.2,303.92 L1284.7,303.83 L1285.2,304.03 L1285.7,304.20 L1286.2,303.73 L1286.7,303.58 L1287.2,303.55 L1287.7,303.41 L1288.2,303.21 L1288.7,303.27 L1289.2,303.24 L1289.7,303.62 L1290.2,303.65 L1290.7,303.39 L1291.2,303.41 L1291.7,303.54 L1292.2,303.53 L1292.7,303.37 L1293.2,303.20 L1293.7,303.04 L1294.2,303.74 L1294.7,303.96 L1295.2,303.56 L1295.7,303.83 L1296.2,304.20 L1296.7,304.09 L1297.2,303.65 L1297.7,303.70 L1298.2,303.68 L1298.7,303.48 L1299.2,303.64 L1299.7,303.31 L1300.2,303.84 L1300.7,303.93 L1301.2,303.98 L1301.7,304.25 L1302.2,304.19 L1302.7,303.83 L1303.2,303.61 L1303.7,303.40 L1304.2,303.18 L1304.7,303.64 L1305.2,303.97 L1305.7,303.74 L1306.2,303.51 L1306.7,303.73 L1307.2,304.03 L1307.7,304.28 L1308.2,303.82 L1308.7,304.04 L1309.2,304.20 L1309.7,304.23 L1310.2,303.92 L1310.7,303.62 L1311.2,303.95 L1311.7,303.74 L1312.2,303.66 L1312.7,303.75 L1313.2,303.66 L1313.7,303.98 L1314.2,303.70 L1314.7,303.37 L1315.2,303.59 L1315.7,303.78 L1316.2,304.04 L1316.7,304.11 L1317.2,304.30 L1317.7,304.46 L1318.2,304.19 L1318.7,304.03 L1319.2,303.66 L1319.7,303.55 L1320.2,303.71 L1320.7,303.41 L1321.2,303.71 L1321.7,303.48 L1322.2,303.56 L1322.7,304.03 L1323.2,303.61 L1323.7,303.31 L1324.2,303.46 L1324.7,303.34 L1325.2,303.70 L1325.7,303.34 L1326.2,303.80 L1326.7,304.08 L1327.2,304.19 L1327.7,303.98 L1328.2,303.73 L1328.7,303.88 L1329.2,303.86 L1329.7,303.77 L1330.2,303.65 L1330.7,303.66 L1331.2,303.85 L1331.7,304.09 L1332.2,304.29 L1332.7,303.83 L1333.2,303.65 L1333.7,303.66 L1334.2,303.77 L1334.7,303.66 L1335.2,303.47 L1335.7,303.27 L1336.2,303.34 L1336.7,303.49 L1337.2,303.99 L1337.7,304.24" fill="none" stroke="#bfb0dc" stroke-width="1.0" stroke-linejoin="round"/>
<path d="M703.2,354.10 L703.7,354.28 L704.2,354.39 L704.7,354.26 L705.2,354.29 L705.7,353.88 L706.2,353.99 L706.7,354.01 L707.2,353.85 L707.7,353.91 L708.2,354.16 L708.7,354.04 L709.2,354.06 L709.7,353.88 L710.2,353.80 L710.7,354.05 L711.2,353.72 L711.7,353.62 L712.2,353.83 L712.7,353.82 L713.2,353.62 L713.7,353.82 L714.2,353.78 L714.7,353.87 L715.2,353.83 L715.7,353.87 L716.2,353.92 L716.7,353.85 L717.2,353.65 L717.7,353.57 L718.2,353.92 L718.7,353.93 L719.2,353.70 L719.7,353.98 L720.2,353.81 L720.7,353.61 L721.2,353.74 L721.7,353.66 L722.2,353.75 L722.7,353.84 L723.2,353.71 L723.7,353.82 L724.2,353.63 L724.7,353.74 L725.2,353.85 L725.7,353.63 L726.2,353.69 L726.7,353.53 L727.2,353.64 L727.7,353.94 L728.2,353.95 L728.7,354.05 L729.2,354.13 L729.7,353.82 L730.2,354.12 L730.7,354.15 L731.2,353.83 L731.7,354.04 L732.2,353.92 L732.7,353.72 L733.2,354.05 L733.7,354.02 L734.2,354.12 L734.7,353.83 L735.2,354.01 L735.7,353.71 L736.2,353.64 L736.7,353.67 L737.2,353.48 L737.7,353.70 L738.2,353.61 L738.7,353.61 L739.2,353.84 L739.7,353.82 L740.2,354.06 L740.7,354.06 L741.2,354.20 L741.7,354.11 L742.2,354.26 L742.7,354.32 L743.2,353.96 L743.7,354.07 L744.2,353.91 L744.7,354.05 L745.2,354.08 L745.7,354.19 L746.2,353.86 L746.7,353.80 L747.2,353.97 L747.7,354.18 L748.2,354.19 L748.7,353.81 L749.2,353.90 L749.7,353.67 L750.2,353.78 L750.7,353.99 L751.2,353.73 L751.7,354.03 L752.2,354.07 L752.7,353.86 L753.2,353.70 L753.7,353.74 L754.2,353.99 L754.7,353.99 L755.2,353.73 L755.7,353.52 L756.2,353.45 L756.7,353.79 L757.2,353.65 L757.7,353.77 L758.2,353.70 L758.7,353.88 L759.2,353.81 L759.7,353.64 L760.2,353.95 L760.7,353.94 L761.2,354.02 L761.7,354.14 L762.2,354.29 L762.7,353.85 L763.2,353.77 L763.7,353.62 L764.2,353.72 L764.7,353.99 L765.2,354.11 L765.7,353.76 L766.2,353.63 L766.7,353.90 L767.2,353.99 L767.7,353.89 L768.2,353.87 L768.7,353.68 L769.2,353.95 L769.7,353.86 L770.2,354.07 L770.7,354.05 L771.2,353.74 L771.7,353.70 L772.2,353.61 L772.7,353.93 L773.2,353.96 L773.7,353.66 L774.2,353.56 L774.7,353.60 L775.2,353.69 L775.7,353.80 L776.2,353.76 L776.7,353.72 L777.2,353.50 L777.7,353.69 L778.2,353.66 L778.7,353.47 L779.2,353.60 L779.7,353.97 L780.2,353.67 L780.7,353.54 L781.2,353.76 L781.7,353.67 L782.2,353.61 L782.7,353.71 L783.2,353.63 L783.7,353.75 L784.2,353.80 L784.7,354.07 L785.2,354.25 L785.7,353.82 L786.2,353.86 L786.7,354.00 L787.2,354.14 L787.7,354.16 L788.2,354.10 L788.7,354.06 L789.2,353.88 L789.7,353.73 L790.2,353.93 L790.7,354.08 L791.2,354.21 L791.7,354.15 L792.2,353.89 L792.7,353.99 L793.2,354.04 L793.7,353.93 L794.2,353.94 L794.7,353.78 L795.2,353.79 L795.7,353.71 L796.2,353.47 L796.7,353.47 L797.2,353.46 L797.7,353.82 L798.2,353.75 L798.7,353.63 L799.2,353.49 L799.7,353.39 L800.2,353.38 L800.7,353.24 L801.2,353.08 L801.7,353.45 L802.2,353.42 L802.7,353.38 L803.2,353.40 L803.7,353.24 L804.2,353.04 L804.7,352.82 L805.2,352.78 L805.7,352.69 L806.2,352.77 L806.7,352.56 L807.2,352.35 L807.7,351.39 L808.2,350.30 L808.7,348.13 L809.2,344.63 L809.7,340.04 L810.2,334.46 L810.7,328.12 L811.2,321.07 L811.7,315.09 L812.2,310.66 L812.7,309.14 L813.2,310.49 L813.7,314.84 L814.2,321.21 L814.7,327.90 L815.2,334.42 L815.7,339.93 L816.2,344.34 L816.7,347.55 L817.2,349.92 L817.7,351.11 L818.2,351.92 L818.7,352.28 L819.2,352.72 L819.7,353.14 L820.2,353.29 L820.7,353.14 L821.2,353.38 L821.7,353.66 L822.2,353.65 L822.7,353.36 L823.2,353.61 L823.7,353.81 L824.2,353.63 L824.7,353.43 L825.2,353.34 L825.7,353.49 L826.2,353.77 L826.7,353.82 L827.2,354.01 L827.7,353.73 L828.2,353.63 L828.7,353.81 L829.2,353.86 L829.7,353.76 L830.2,353.86 L830.7,353.73 L831.2,353.50 L831.7,353.56 L832.2,353.39 L832.7,353.62 L833.2,353.59 L833.7,353.67 L834.2,353.77 L834.7,353.65 L835.2,353.69 L835.7,353.46 L836.2,353.84 L836.7,353.86 L837.2,354.11 L837.7,353.74 L838.2,353.83 L838.7,353.95 L839.2,353.80 L839.7,353.58 L840.2,353.48 L840.7,353.42 L841.2,353.73 L841.7,353.54 L842.2,353.83 L842.7,353.78 L843.2,353.82 L843.7,353.87 L844.2,353.88 L844.7,353.95 L845.2,353.95 L845.7,353.81 L846.2,353.95 L846.7,353.76 L847.2,353.90 L847.7,354.02 L848.2,354.09 L848.7,353.88 L849.2,354.01 L849.7,354.20 L850.2,354.02 L850.7,353.81 L851.2,353.83 L851.7,354.07 L852.2,353.76 L852.7,353.50 L853.2,353.61 L853.7,353.77 L854.2,353.93 L854.7,353.80 L855.2,354.07 L855.7,353.80 L856.2,353.94 L856.7,353.64 L857.2,353.43 L857.7,353.35 L858.2,353.27 L858.7,353.46 L859.2,353.60 L859.7,353.47 L860.2,353.81 L860.7,353.69 L861.2,353.49 L861.7,353.38 L862.2,353.61 L862.7,353.85 L863.2,353.56 L863.7,353.29 L864.2,353.54 L864.7,353.37 L865.2,353.66 L865.7,353.54 L866.2,353.52 L866.7,353.31 L867.2,353.39 L867.7,353.17 L868.2,352.84 L868.7,352.75 L869.2,351.90 L869.7,351.17 L870.2,349.53 L870.7,347.77 L871.2,345.29 L871.7,342.78 L872.2,339.84 L872.7,337.89 L873.2,336.85 L873.7,337.59 L874.2,339.43 L874.7,341.82 L875.2,344.31 L875.7,346.76 L876.2,348.82 L876.7,350.46 L877.2,351.45 L877.7,352.06 L878.2,352.74 L878.7,353.08 L879.2,353.10 L879.7,353.51 L880.2,353.34 L880.7,353.45 L881.2,353.30 L881.7,353.62 L882.2,353.82 L882.7,353.62 L883.2,353.78 L883.7,353.92 L884.2,353.71 L884.7,353.62 L885.2,353.65 L885.7,353.91 L886.2,353.65 L886.7,353.80 L887.2,353.84 L887.7,353.79 L888.2,353.83 L888.7,354.03 L889.2,353.77 L889.7,354.00 L890.2,353.84 L890.7,353.99 L891.2,354.12 L891.7,353.82 L892.2,354.03 L892.7,354.22 L893.2,353.95 L893.7,353.64 L894.2,353.50 L894.7,353.90 L895.2,353.60 L895.7,353.93 L896.2,353.70 L896.7,353.89 L897.2,353.65 L897.7,353.54 L898.2,353.77 L898.7,353.57 L899.2,353.59 L899.7,353.93 L900.2,354.02 L900.7,354.17 L901.2,354.31 L901.7,353.87 L902.2,353.72 L902.7,353.94 L903.2,354.01 L903.7,353.69 L904.2,353.77 L904.7,353.65 L905.2,353.70 L905.7,353.55 L906.2,353.40 L906.7,353.86 L907.2,353.76 L907.7,354.02 L908.2,353.75 L908.7,353.79 L909.2,353.62 L909.7,353.68 L910.2,353.58 L910.7,353.80 L911.2,353.63 L911.7,353.86 L912.2,353.87 L912.7,353.65 L913.2,353.66 L913.7,353.74 L914.2,354.03 L914.7,353.88 L915.2,353.72 L915.7,354.04 L916.2,354.19 L916.7,354.20 L917.2,353.94 L917.7,353.73 L918.2,353.66 L918.7,353.51 L919.2,353.40 L919.7,353.60 L920.2,353.66 L920.7,353.78 L921.2,353.74 L921.7,353.52 L922.2,353.77 L922.7,353.90 L923.2,353.92 L923.7,353.93 L924.2,354.02 L924.7,354.23 L925.2,354.30 L925.7,354.25 L926.2,354.05 L926.7,353.88 L927.2,353.83 L927.7,354.12 L928.2,353.96 L928.7,353.86 L929.2,353.82 L929.7,353.64 L930.2,354.02 L930.7,353.69 L931.2,353.83 L931.7,354.09 L932.2,353.87 L932.7,353.94 L933.2,353.84 L933.7,353.71 L934.2,353.61 L934.7,353.51 L935.2,353.85 L935.7,354.02 L936.2,354.19 L936.7,353.82 L937.2,353.95 L937.7,353.83 L938.2,353.93 L938.7,353.94 L939.2,353.81 L939.7,354.10 L940.2,353.74 L940.7,353.93 L941.2,354.11 L941.7,354.03 L942.2,354.02 L942.7,354.24 L943.2,353.95 L943.7,354.00 L944.2,354.09 L944.7,353.94 L945.2,354.03 L945.7,353.91 L946.2,353.92 L946.7,353.97 L947.2,354.03 L947.7,353.87 L948.2,353.95 L948.7,353.95 L949.2,353.77 L949.7,353.88 L950.2,353.75 L950.7,354.03 L951.2,353.96 L951.7,354.05 L952.2,354.00 L952.7,353.94 L953.2,353.76 L953.7,353.61 L954.2,353.96 L954.7,353.94 L955.2,353.93 L955.7,353.93 L956.2,354.08 L956.7,353.86 L957.2,353.68 L957.7,353.94 L958.2,353.90 L958.7,353.97 L959.2,354.12 L959.7,354.24 L960.2,354.30 L960.7,353.88 L961.2,353.81 L961.7,354.03 L962.2,354.15 L962.7,353.83 L963.2,353.65 L963.7,353.61 L964.2,353.49 L964.7,353.57 L965.2,353.86 L965.7,353.88 L966.2,353.85 L966.7,353.63 L967.2,353.67 L967.7,354.03 L968.2,354.08 L968.7,353.97 L969.2,353.92 L969.7,354.07 L970.2,354.14 L970.7,353.84 L971.2,353.95 L971.7,353.85 L972.2,353.87 L972.7,353.73 L973.2,353.71 L973.7,353.69 L974.2,353.70 L974.7,353.50 L975.2,353.48 L975.7,353.68 L976.2,353.51 L976.7,353.47 L977.2,353.76 L977.7,353.68 L978.2,353.66 L978.7,353.60 L979.2,353.89 L979.7,353.66 L980.2,353.82 L980.7,354.04 L981.2,353.80 L981.7,353.79 L982.2,353.98 L982.7,354.00 L983.2,353.88 L983.7,353.62 L984.2,353.68 L984.7,353.68 L985.2,353.87 L985.7,353.75 L986.2,353.75 L986.7,353.87 L987.2,354.04 L987.7,353.89 L988.2,353.81 L988.7,353.87 L989.2,354.10 L989.7,353.83 L990.2,354.10 L990.7,354.12 L991.2,353.94 L991.7,354.00 L992.2,353.84 L992.7,353.60 L993.2,353.84 L993.7,353.78 L994.2,353.82 L994.7,353.83 L995.2,354.06 L995.7,354.11 L996.2,353.74 L996.7,353.83 L997.2,353.81 L997.7,353.79 L998.2,354.00 L998.7,353.88 L999.2,353.84 L999.7,354.05 L1000.2,353.92 L1000.7,353.87 L1001.2,353.85 L1001.7,354.01 L1002.2,354.02 L1002.7,354.06 L1003.2,353.89 L1003.7,353.59 L1004.2,353.76 L1004.7,353.79 L1005.2,353.92 L1005.7,354.00 L1006.2,353.68 L1006.7,353.54 L1007.2,353.37 L1007.7,353.67 L1008.2,353.45 L1008.7,353.30 L1009.2,353.57 L1009.7,353.62 L1010.2,353.35 L1010.7,353.52 L1011.2,353.63 L1011.7,353.54 L1012.2,353.23 L1012.7,353.38 L1013.2,353.28 L1013.7,353.29 L1014.2,353.48 L1014.7,353.46 L1015.2,353.42 L1015.7,352.95 L1016.2,352.71 L1016.7,352.62 L1017.2,352.24 L1017.7,352.52 L1018.2,352.26 L1018.7,352.17 L1019.2,352.22 L1019.7,352.27 L1020.2,352.68 L1020.7,352.81 L1021.2,352.90 L1021.7,352.94 L1022.2,352.78 L1022.7,352.86 L1023.2,353.23 L1023.7,353.44 L1024.2,353.60 L1024.7,353.37 L1025.2,353.20 L1025.7,353.02 L1026.2,353.18 L1026.7,353.18 L1027.2,353.23 L1027.7,353.26 L1028.2,353.32 L1028.7,353.21 L1029.2,353.37 L1029.7,353.11 L1030.2,353.32 L1030.7,353.21 L1031.2,352.82 L1031.7,352.69 L1032.2,352.67 L1032.7,352.54 L1033.2,352.48 L1033.7,352.26 L1034.2,352.04 L1034.7,352.16 L1035.2,351.93 L1035.7,352.10 L1036.2,352.35 L1036.7,352.45 L1037.2,352.49 L1037.7,352.85 L1038.2,352.84 L1038.7,353.13 L1039.2,352.87 L1039.7,352.97 L1040.2,353.16 L1040.7,352.97 L1041.2,353.34 L1041.7,353.13 L1042.2,353.31 L1042.7,353.20 L1043.2,353.55 L1043.7,353.57 L1044.2,353.73 L1044.7,353.66 L1045.2,353.72 L1045.7,353.76 L1046.2,353.57 L1046.7,353.41 L1047.2,353.67 L1047.7,353.44 L1048.2,353.73 L1048.7,353.50 L1049.2,353.30 L1049.7,353.18 L1050.2,353.48 L1050.7,353.75 L1051.2,353.61 L1051.7,353.65 L1052.2,353.44 L1052.7,353.67 L1053.2,353.67 L1053.7,353.35 L1054.2,353.09 L1054.7,353.27 L1055.2,352.99 L1055.7,353.23 L1056.2,353.04 L1056.7,352.85 L1057.2,352.86 L1057.7,352.64 L1058.2,352.49 L1058.7,351.92 L1059.2,351.54 L1059.7,350.19 L1060.2,348.38 L1060.7,344.96 L1061.2,340.64 L1061.7,334.95 L1062.2,327.80 L1062.7,320.31 L1063.2,314.06 L1063.7,310.05 L1064.2,308.80 L1064.7,311.35 L1065.2,316.28 L1065.7,323.14 L1066.2,330.55 L1066.7,337.12 L1067.2,342.61 L1067.7,346.32 L1068.2,349.24 L1068.7,350.66 L1069.2,351.94 L1069.7,352.72 L1070.2,353.15 L1070.7,353.18 L1071.2,353.09 L1071.7,353.08 L1072.2,353.33 L1072.7,353.35 L1073.2,353.63 L1073.7,353.34 L1074.2,353.40 L1074.7,353.66 L1075.2,353.68 L1075.7,353.67 L1076.2,353.42 L1076.7,353.30 L1077.2,353.31 L1077.7,353.68 L1078.2,353.87 L1078.7,353.65 L1079.2,353.91 L1079.7,353.57 L1080.2,353.69 L1080.7,353.97 L1081.2,353.79 L1081.7,354.03 L1082.2,354.01 L1082.7,353.66 L1083.2,353.61 L1083.7,353.65 L1084.2,353.56 L1084.7,353.79 L1085.2,353.61 L1085.7,353.84 L1086.2,353.71 L1086.7,353.51 L1087.2,353.66 L1087.7,353.49 L1088.2,353.65 L1088.7,353.88 L1089.2,353.91 L1089.7,353.85 L1090.2,353.58 L1090.7,353.68 L1091.2,353.52 L1091.7,353.72 L1092.2,353.56 L1092.7,353.71 L1093.2,353.68 L1093.7,353.67 L1094.2,353.83 L1094.7,353.64 L1095.2,353.54 L1095.7,353.91 L1096.2,353.79 L1096.7,354.00 L1097.2,354.15 L1097.7,354.02 L1098.2,353.75 L1098.7,353.56 L1099.2,353.89 L1099.7,353.66 L1100.2,353.73 L1100.7,353.80 L1101.2,353.61 L1101.7,353.69 L1102.2,353.57 L1102.7,353.70 L1103.2,353.77 L1103.7,353.73 L1104.2,353.61 L1104.7,353.66 L1105.2,353.57 L1105.7,353.48 L1106.2,353.48 L1106.7,353.84 L1107.2,353.85 L1107.7,354.07 L1108.2,353.72 L1108.7,354.02 L1109.2,353.95 L1109.7,354.08 L1110.2,354.03 L1110.7,354.07 L1111.2,353.84 L1111.7,353.99 L1112.2,353.74 L1112.7,353.66 L1113.2,353.48 L1113.7,353.57 L1114.2,353.70 L1114.7,353.65 L1115.2,353.96 L1115.7,353.69 L1116.2,353.80 L1116.7,353.68 L1117.2,353.81 L1117.7,353.99 L1118.2,354.06 L1118.7,353.74 L1119.2,353.65 L1119.7,353.79 L1120.2,354.09 L1120.7,353.74 L1121.2,353.86 L1121.7,353.97 L1122.2,354.11 L1122.7,353.92 L1123.2,354.07 L1123.7,353.97 L1124.2,354.16 L1124.7,353.77 L1125.2,354.06 L1125.7,353.93 L1126.2,353.85 L1126.7,353.63 L1127.2,353.58 L1127.7,353.83 L1128.2,353.94 L1128.7,353.72 L1129.2,353.69 L1129.7,353.56 L1130.2,353.51 L1130.7,353.50 L1131.2,353.55 L1131.7,353.94 L1132.2,354.19 L1132.7,354.22 L1133.2,354.07 L1133.7,353.99 L1134.2,354.09 L1134.7,354.23 L1135.2,354.22 L1135.7,354.16 L1136.2,353.87 L1136.7,353.94 L1137.2,354.10 L1137.7,354.17 L1138.2,353.82 L1138.7,353.96 L1139.2,353.83 L1139.7,353.65 L1140.2,354.00 L1140.7,354.04 L1141.2,354.10 L1141.7,353.80 L1142.2,354.01 L1142.7,354.19 L1143.2,354.28 L1143.7,354.25 L1144.2,354.28 L1144.7,354.28 L1145.2,354.16 L1145.7,354.00 L1146.2,354.12 L1146.7,354.17 L1147.2,354.25 L1147.7,353.98 L1148.2,354.18 L1148.7,354.06 L1149.2,354.22 L1149.7,353.86 L1150.2,354.11 L1150.7,354.16 L1151.2,353.89 L1151.7,354.06 L1152.2,353.82 L1152.7,353.65 L1153.2,353.70 L1153.7,353.60 L1154.2,353.69 L1154.7,353.97 L1155.2,354.01 L1155.7,354.05 L1156.2,353.90 L1156.7,354.02 L1157.2,354.10 L1157.7,354.08 L1158.2,354.22 L1158.7,354.23 L1159.2,354.00 L1159.7,353.68 L1160.2,353.81 L1160.7,353.98 L1161.2,353.81 L1161.7,353.84 L1162.2,353.99 L1162.7,354.06 L1163.2,353.65 L1163.7,353.68 L1164.2,353.42 L1164.7,353.32 L1165.2,353.64 L1165.7,353.61 L1166.2,353.69 L1166.7,353.65 L1167.2,353.55 L1167.7,353.41 L1168.2,353.40 L1168.7,353.65 L1169.2,353.67 L1169.7,353.48 L1170.2,353.24 L1170.7,353.18 L1171.2,353.36 L1171.7,353.30 L1172.2,353.36 L1172.7,353.45 L1173.2,353.07 L1173.7,353.11 L1174.2,352.71 L1174.7,352.81 L1175.2,352.35 L1175.7,351.84 L1176.2,351.42 L1176.7,350.01 L1177.2,347.79 L1177.7,344.98 L1178.2,340.71 L1178.7,335.52 L1179.2,329.36 L1179.7,323.49 L1180.2,319.06 L1180.7,316.38 L1181.2,316.89 L1181.7,319.61 L1182.2,324.74 L1182.7,330.39 L1183.2,336.34 L1183.7,341.23 L1184.2,345.20 L1184.7,348.47 L1185.2,350.31 L1185.7,351.64 L1186.2,352.12 L1186.7,352.45 L1187.2,352.51 L1187.7,352.82 L1188.2,353.20 L1188.7,353.25 L1189.2,353.23 L1189.7,353.54 L1190.2,353.73 L1190.7,353.72 L1191.2,353.41 L1191.7,353.53 L1192.2,353.52 L1192.7,353.81 L1193.2,353.65 L1193.7,353.73 L1194.2,353.77 L1194.7,353.66 L1195.2,353.68 L1195.7,353.78 L1196.2,353.97 L1196.7,353.86 L1197.2,353.73 L1197.7,353.99 L1198.2,353.63 L1198.7,353.86 L1199.2,353.91 L1199.7,353.87 L1200.2,353.79 L1200.7,353.91 L1201.2,354.06 L1201.7,354.06 L1202.2,354.07 L1202.7,353.68 L1203.2,353.60 L1203.7,353.45 L1204.2,353.82 L1204.7,354.00 L1205.2,353.69 L1205.7,353.75 L1206.2,353.78 L1206.7,353.49 L1207.2,353.51 L1207.7,353.71 L1208.2,353.77 L1208.7,353.59 L1209.2,353.75 L1209.7,353.57 L1210.2,353.59 L1210.7,353.52 L1211.2,353.77 L1211.7,353.71 L1212.2,353.73 L1212.7,353.61 L1213.2,353.28 L1213.7,353.25 L1214.2,352.86 L1214.7,352.27 L1215.2,351.22 L1215.7,349.97 L1216.2,348.86 L1216.7,347.81 L1217.2,346.81 L1217.7,345.87 L1218.2,345.43 L1218.7,345.97 L1219.2,347.13 L1219.7,348.06 L1220.2,349.50 L1220.7,350.44 L1221.2,351.34 L1221.7,351.88 L1222.2,352.41 L1222.7,352.79 L1223.2,353.36 L1223.7,353.71 L1224.2,353.49 L1224.7,353.43 L1225.2,353.76 L1225.7,353.55 L1226.2,353.51 L1226.7,353.55 L1227.2,353.40 L1227.7,353.40 L1228.2,353.48 L1228.7,353.53 L1229.2,353.88 L1229.7,353.71 L1230.2,353.57 L1230.7,353.89 L1231.2,353.83 L1231.7,354.01 L1232.2,354.01 L1232.7,354.09 L1233.2,353.88 L1233.7,353.66 L1234.2,353.87 L1234.7,353.84 L1235.2,353.87 L1235.7,353.95 L1236.2,354.05 L1236.7,353.84 L1237.2,353.77 L1237.7,354.03 L1238.2,353.97 L1238.7,353.81 L1239.2,353.90 L1239.7,353.75 L1240.2,353.94 L1240.7,353.65 L1241.2,353.92 L1241.7,353.93 L1242.2,353.82 L1242.7,354.08 L1243.2,353.86 L1243.7,353.72 L1244.2,353.54 L1244.7,353.70 L1245.2,353.91 L1245.7,353.99 L1246.2,353.89 L1246.7,354.06 L1247.2,353.76 L1247.7,353.70 L1248.2,353.85 L1248.7,354.12 L1249.2,354.10 L1249.7,354.11 L1250.2,354.17 L1250.7,353.99 L1251.2,354.19 L1251.7,354.20 L1252.2,353.98 L1252.7,353.88 L1253.2,354.05 L1253.7,353.90 L1254.2,353.71 L1254.7,353.99 L1255.2,353.96 L1255.7,353.94 L1256.2,354.01 L1256.7,354.18 L1257.2,353.86 L1257.7,353.78 L1258.2,353.58 L1258.7,353.65 L1259.2,353.74 L1259.7,354.00 L1260.2,354.04 L1260.7,354.02 L1261.2,353.91 L1261.7,353.94 L1262.2,353.79 L1262.7,354.02 L1263.2,354.13 L1263.7,354.22 L1264.2,353.89 L1264.7,353.98 L1265.2,354.09 L1265.7,354.01 L1266.2,354.18 L1266.7,354.29 L1267.2,354.26 L1267.7,354.29 L1268.2,354.21 L1268.7,354.29 L1269.2,353.92 L1269.7,354.02 L1270.2,354.08 L1270.7,354.07 L1271.2,353.87 L1271.7,353.63 L1272.2,353.79 L1272.7,354.01 L1273.2,353.84 L1273.7,353.70 L1274.2,353.62 L1274.7,353.50 L1275.2,353.75 L1275.7,354.07 L1276.2,354.17 L1276.7,353.98 L1277.2,354.05 L1277.7,353.75 L1278.2,353.99 L1278.7,353.85 L1279.2,353.59 L1279.7,353.78 L1280.2,353.62 L1280.7,353.60 L1281.2,353.47 L1281.7,353.61 L1282.2,353.75 L1282.7,353.98 L1283.2,353.69 L1283.7,353.95 L1284.2,353.71 L1284.7,353.63 L1285.2,353.81 L1285.7,353.75 L1286.2,353.71 L1286.7,353.82 L1287.2,353.69 L1287.7,353.94 L1288.2,353.75 L1288.7,354.00 L1289.2,354.13 L1289.7,354.05 L1290.2,353.73 L1290.7,353.95 L1291.2,353.66 L1291.7,353.76 L1292.2,353.77 L1292.7,353.57 L1293.2,353.77 L1293.7,353.95 L1294.2,353.97 L1294.7,353.88 L1295.2,353.89 L1295.7,353.94 L1296.2,353.77 L1296.7,354.02 L1297.2,354.25 L1297.7,354.28 L1298.2,354.38 L1298.7,354.09 L1299.2,354.28 L1299.7,353.89 L1300.2,353.88 L1300.7,353.68 L1301.2,353.74 L1301.7,353.90 L1302.2,354.02 L1302.7,353.94 L1303.2,353.83 L1303.7,353.68 L1304.2,353.71 L1304.7,353.66 L1305.2,353.58 L1305.7,353.84 L1306.2,353.87 L1306.7,353.85 L1307.2,353.70 L1307.7,353.89 L1308.2,353.72 L1308.7,353.66 L1309.2,353.79 L1309.7,353.94 L1310.2,354.19 L1310.7,354.21 L1311.2,354.33 L1311.7,354.39 L1312.2,354.32 L1312.7,354.27 L1313.2,353.88 L1313.7,353.72 L1314.2,353.52 L1314.7,353.87 L1315.2,354.00 L1315.7,354.03 L1316.2,353.85 L1316.7,353.78 L1317.2,353.64 L1317.7,353.82 L1318.2,354.12 L1318.7,353.92 L1319.2,353.66 L1319.7,353.57 L1320.2,353.62 L1320.7,353.95 L1321.2,354.10 L1321.7,353.99 L1322.2,353.73 L1322.7,353.58 L1323.2,353.51 L1323.7,353.82 L1324.2,353.83 L1324.7,354.13 L1325.2,354.27 L1325.7,354.28 L1326.2,354.12 L1326.7,354.21 L1327.2,353.87 L1327.7,353.66 L1328.2,353.79 L1328.7,353.84 L1329.2,353.70 L1329.7,353.64 L1330.2,353.47 L1330.7,353.87 L1331.2,354.00 L1331.7,354.21 L1332.2,354.35 L1332.7,354.13 L1333.2,354.17 L1333.7,353.99 L1334.2,354.13 L1334.7,354.23 L1335.2,353.89 L1335.7,353.62 L1336.2,353.57 L1336.7,353.75 L1337.2,353.74 L1337.7,353.53" fill="none" stroke="#7db89a" stroke-width="1.0" stroke-linejoin="round"/>
<path d="M703.2,403.78 L703.7,403.87 L704.2,403.74 L704.7,403.42 L705.2,403.71 L705.7,403.68 L706.2,403.41 L706.7,403.38 L707.2,403.54 L707.7,403.78 L708.2,403.69 L708.7,403.73 L709.2,403.51 L709.7,403.40 L710.2,403.71 L710.7,403.60 L711.2,403.37 L711.7,403.51 L712.2,403.34 L712.7,403.27 L713.2,403.38 L713.7,403.51 L714.2,403.62 L714.7,403.73 L715.2,403.64 L715.7,403.38 L716.2,403.59 L716.7,403.34 L717.2,403.43 L717.7,403.44 L718.2,403.60 L718.7,403.71 L719.2,403.52 L719.7,403.63 L720.2,403.72 L720.7,403.66 L721.2,403.43 L721.7,403.72 L722.2,403.73 L722.7,403.43 L723.2,403.35 L723.7,403.72 L724.2,403.52 L724.7,403.49 L725.2,403.69 L725.7,403.83 L726.2,403.81 L726.7,403.86 L727.2,403.49 L727.7,403.31 L728.2,403.69 L728.7,403.82 L729.2,403.47 L729.7,403.27 L730.2,403.25 L730.7,403.63 L731.2,403.46 L731.7,403.61 L732.2,403.84 L732.7,403.82 L733.2,403.96 L733.7,403.68 L734.2,403.45 L734.7,403.24 L735.2,403.52 L735.7,403.33 L736.2,403.70 L736.7,403.77 L737.2,403.52 L737.7,403.72 L738.2,403.48 L738.7,403.53 L739.2,403.33 L739.7,403.60 L740.2,403.81 L740.7,403.96 L741.2,403.53 L741.7,403.75 L742.2,403.72 L742.7,403.85 L743.2,403.74 L743.7,403.75 L744.2,403.74 L744.7,403.85 L745.2,403.51 L745.7,403.29 L746.2,403.43 L746.7,403.38 L747.2,403.40 L747.7,403.20 L748.2,403.49 L748.7,403.26 L749.2,403.58 L749.7,403.76 L750.2,403.66 L750.7,403.42 L751.2,403.57 L751.7,403.41 L752.2,403.44 L752.7,403.28 L753.2,403.67 L753.7,403.66 L754.2,403.55 L754.7,403.34 L755.2,403.56 L755.7,403.77 L756.2,403.89 L756.7,403.54 L757.2,403.49 L757.7,403.41 L758.2,403.63 L758.7,403.41 L759.2,403.54 L759.7,403.83 L760.2,403.88 L760.7,403.48 L761.2,403.29 L761.7,403.19 L762.2,403.45 L762.7,403.56 L763.2,403.58 L763.7,403.55 L764.2,403.51 L764.7,403.60 L765.2,403.68 L765.7,403.87 L766.2,403.88 L766.7,403.93 L767.2,404.02 L767.7,404.03 L768.2,403.97 L768.7,403.55 L769.2,403.66 L769.7,403.82 L770.2,403.69 L770.7,403.85 L771.2,403.56 L771.7,403.81 L772.2,403.69 L772.7,403.76 L773.2,403.54 L773.7,403.44 L774.2,403.41 L774.7,403.38 L775.2,403.23 L775.7,403.33 L776.2,403.70 L776.7,403.73 L777.2,403.91 L777.7,403.92 L778.2,403.96 L778.7,404.08 L779.2,404.02 L779.7,403.71 L780.2,403.51 L780.7,403.48 L781.2,403.24 L781.7,403.22 L782.2,403.57 L782.7,403.80 L783.2,403.61 L783.7,403.74 L784.2,403.82 L784.7,403.93 L785.2,403.94 L785.7,403.80 L786.2,403.48 L786.7,403.69 L787.2,403.52 L787.7,403.60 L788.2,403.50 L788.7,403.54 L789.2,403.80 L789.7,403.50 L790.2,403.53 L790.7,403.61 L791.2,403.60 L791.7,403.81 L792.2,403.64 L792.7,403.82 L793.2,403.81 L793.7,403.95 L794.2,403.54 L794.7,403.36 L795.2,403.30 L795.7,403.60 L796.2,403.28 L796.7,403.23 L797.2,403.45 L797.7,403.73 L798.2,403.44 L798.7,403.41 L799.2,403.53 L799.7,403.60 L800.2,403.67 L800.7,403.71 L801.2,403.45 L801.7,403.30 L802.2,403.07 L802.7,403.30 L803.2,403.16 L803.7,403.10 L804.2,403.45 L804.7,403.47 L805.2,403.44 L805.7,403.45 L806.2,403.41 L806.7,403.43 L807.2,403.21 L807.7,402.92 L808.2,402.73 L808.7,402.56 L809.2,402.62 L809.7,402.50 L810.2,402.37 L810.7,402.46 L811.2,402.71 L811.7,402.62 L812.2,402.24 L812.7,402.15 L813.2,401.58 L813.7,400.96 L814.2,400.35 L814.7,399.54 L815.2,398.48 L815.7,396.58 L816.2,393.84 L816.7,389.04 L817.2,382.34 L817.7,372.63 L818.2,363.96 L818.7,368.52 L819.2,378.70 L819.7,386.64 L820.2,392.31 L820.7,395.88 L821.2,398.09 L821.7,399.34 L822.2,400.06 L822.7,400.69 L823.2,401.55 L823.7,401.72 L824.2,402.16 L824.7,402.43 L825.2,402.67 L825.7,402.58 L826.2,402.54 L826.7,402.51 L827.2,403.01 L827.7,402.99 L828.2,403.15 L828.7,403.21 L829.2,403.07 L829.7,402.90 L830.2,402.78 L830.7,403.19 L831.2,403.04 L831.7,403.42 L832.2,403.32 L832.7,403.47 L833.2,403.23 L833.7,403.46 L834.2,403.30 L834.7,403.28 L835.2,403.35 L835.7,403.17 L836.2,403.14 L836.7,403.43 L837.2,403.32 L837.7,403.31 L838.2,403.52 L838.7,403.35 L839.2,403.23 L839.7,403.18 L840.2,403.24 L840.7,403.26 L841.2,403.44 L841.7,403.45 L842.2,403.68 L842.7,403.36 L843.2,403.51 L843.7,403.70 L844.2,403.48 L844.7,403.23 L845.2,403.31 L845.7,403.18 L846.2,403.29 L846.7,403.50 L847.2,403.28 L847.7,403.17 L848.2,403.30 L848.7,403.21 L849.2,403.18 L849.7,403.29 L850.2,403.17 L850.7,403.07 L851.2,403.18 L851.7,403.30 L852.2,403.64 L852.7,403.63 L853.2,403.35 L853.7,403.27 L854.2,403.51 L854.7,403.55 L855.2,403.75 L855.7,403.92 L856.2,403.97 L856.7,403.57 L857.2,403.80 L857.7,403.71 L858.2,403.49 L858.7,403.32 L859.2,403.60 L859.7,403.41 L860.2,403.22 L860.7,403.21 L861.2,403.57 L861.7,403.52 L862.2,403.65 L862.7,403.35 L863.2,403.38 L863.7,403.33 L864.2,403.23 L864.7,403.42 L865.2,403.37 L865.7,403.20 L866.2,403.58 L866.7,403.52 L867.2,403.31 L867.7,403.09 L868.2,403.31 L868.7,403.35 L869.2,403.10 L869.7,403.19 L870.2,403.39 L870.7,403.38 L871.2,403.19 L871.7,403.21 L872.2,403.26 L872.7,403.28 L873.2,402.98 L873.7,403.13 L874.2,403.23 L874.7,403.10 L875.2,402.97 L875.7,402.46 L876.2,402.21 L876.7,401.29 L877.2,400.19 L877.7,398.84 L878.2,396.80 L878.7,393.24 L879.2,389.78 L879.7,390.19 L880.2,393.79 L880.7,396.77 L881.2,398.83 L881.7,400.47 L882.2,401.41 L882.7,402.22 L883.2,402.45 L883.7,402.79 L884.2,402.64 L884.7,403.10 L885.2,403.00 L885.7,403.10 L886.2,403.19 L886.7,403.50 L887.2,403.44 L887.7,403.69 L888.2,403.64 L888.7,403.40 L889.2,403.60 L889.7,403.37 L890.2,403.69 L890.7,403.58 L891.2,403.38 L891.7,403.68 L892.2,403.51 L892.7,403.45 L893.2,403.39 L893.7,403.53 L894.2,403.26 L894.7,403.29 L895.2,403.20 L895.7,403.51 L896.2,403.24 L896.7,403.42 L897.2,403.33 L897.7,403.39 L898.2,403.48 L898.7,403.63 L899.2,403.39 L899.7,403.31 L900.2,403.19 L900.7,403.59 L901.2,403.38 L901.7,403.25 L902.2,403.38 L902.7,403.50 L903.2,403.74 L903.7,403.42 L904.2,403.33 L904.7,403.24 L905.2,403.42 L905.7,403.45 L906.2,403.44 L906.7,403.71 L907.2,403.74 L907.7,403.88 L908.2,404.01 L908.7,403.70 L909.2,403.90 L909.7,403.72 L910.2,403.41 L910.7,403.71 L911.2,403.43 L911.7,403.22 L912.2,403.24 L912.7,403.26 L913.2,403.65 L913.7,403.82 L914.2,403.68 L914.7,403.66 L915.2,403.82 L915.7,403.89 L916.2,403.85 L916.7,403.75 L917.2,403.47 L917.7,403.37 L918.2,403.54 L918.7,403.60 L919.2,403.76 L919.7,403.91 L920.2,404.04 L920.7,403.68 L921.2,403.40 L921.7,403.70 L922.2,403.69 L922.7,403.47 L923.2,403.62 L923.7,403.47 L924.2,403.37 L924.7,403.38 L925.2,403.47 L925.7,403.62 L926.2,403.36 L926.7,403.59 L927.2,403.65 L927.7,403.61 L928.2,403.69 L928.7,403.82 L929.2,403.45 L929.7,403.49 L930.2,403.63 L930.7,403.73 L931.2,403.75 L931.7,403.50 L932.2,403.79 L932.7,403.87 L933.2,403.61 L933.7,403.56 L934.2,403.82 L934.7,403.56 L935.2,403.52 L935.7,403.80 L936.2,403.94 L936.7,403.65 L937.2,403.75 L937.7,403.61 L938.2,403.69 L938.7,403.80 L939.2,403.50 L939.7,403.38 L940.2,403.30 L940.7,403.28 L941.2,403.14 L941.7,403.12 L942.2,403.25 L942.7,403.34 L943.2,403.20 L943.7,403.40 L944.2,403.72 L944.7,403.71 L945.2,403.58 L945.7,403.70 L946.2,403.62 L946.7,403.42 L947.2,403.48 L947.7,403.25 L948.2,403.48 L948.7,403.33 L949.2,403.36 L949.7,403.71 L950.2,403.81 L950.7,403.91 L951.2,403.86 L951.7,403.82 L952.2,403.84 L952.7,404.00 L953.2,403.66 L953.7,403.78 L954.2,403.59 L954.7,403.45 L955.2,403.68 L955.7,403.70 L956.2,403.85 L956.7,403.95 L957.2,403.85 L957.7,403.58 L958.2,403.31 L958.7,403.44 L959.2,403.62 L959.7,403.48 L960.2,403.28 L960.7,403.12 L961.2,403.12 L961.7,403.42 L962.2,403.20 L962.7,403.20 L963.2,403.22 L963.7,403.49 L964.2,403.80 L964.7,403.44 L965.2,403.28 L965.7,403.64 L966.2,403.88 L966.7,403.56 L967.2,403.48 L967.7,403.53 L968.2,403.45 L968.7,403.46 L969.2,403.49 L969.7,403.39 L970.2,403.22 L970.7,403.13 L971.2,403.12 L971.7,403.07 L972.2,403.35 L972.7,403.55 L973.2,403.43 L973.7,403.65 L974.2,403.75 L974.7,403.59 L975.2,403.58 L975.7,403.40 L976.2,403.71 L976.7,403.69 L977.2,403.39 L977.7,403.27 L978.2,403.50 L978.7,403.47 L979.2,403.63 L979.7,403.46 L980.2,403.67 L980.7,403.80 L981.2,403.48 L981.7,403.57 L982.2,403.40 L982.7,403.58 L983.2,403.75 L983.7,403.84 L984.2,403.58 L984.7,403.35 L985.2,403.53 L985.7,403.58 L986.2,403.37 L986.7,403.28 L987.2,403.44 L987.7,403.27 L988.2,403.46 L988.7,403.36 L989.2,403.31 L989.7,403.37 L990.2,403.46 L990.7,403.63 L991.2,403.34 L991.7,403.55 L992.2,403.40 L992.7,403.35 L993.2,403.51 L993.7,403.63 L994.2,403.67 L994.7,403.85 L995.2,403.56 L995.7,403.45 L996.2,403.58 L996.7,403.43 L997.2,403.29 L997.7,403.24 L998.2,403.51 L998.7,403.71 L999.2,403.76 L999.7,403.93 L1000.2,403.94 L1000.7,403.67 L1001.2,403.51 L1001.7,403.64 L1002.2,403.35 L1002.7,403.48 L1003.2,403.27 L1003.7,403.11 L1004.2,403.28 L1004.7,403.18 L1005.2,403.55 L1005.7,403.74 L1006.2,403.62 L1006.7,403.40 L1007.2,403.22 L1007.7,403.33 L1008.2,403.40 L1008.7,403.35 L1009.2,403.52 L1009.7,403.51 L1010.2,403.64 L1010.7,403.33 L1011.2,403.13 L1011.7,403.18 L1012.2,403.25 L1012.7,403.17 L1013.2,403.34 L1013.7,403.18 L1014.2,403.13 L1014.7,403.18 L1015.2,403.33 L1015.7,403.44 L1016.2,403.27 L1016.7,403.19 L1017.2,403.39 L1017.7,403.49 L1018.2,403.35 L1018.7,402.94 L1019.2,402.86 L1019.7,402.87 L1020.2,402.63 L1020.7,402.29 L1021.2,402.56 L1021.7,402.62 L1022.2,402.15 L1022.7,402.00 L1023.2,401.95 L1023.7,401.70 L1024.2,401.39 L1024.7,401.74 L1025.2,402.01 L1025.7,402.05 L1026.2,401.94 L1026.7,402.10 L1027.2,402.07 L1027.7,402.57 L1028.2,402.40 L1028.7,402.45 L1029.2,402.77 L1029.7,402.62 L1030.2,402.52 L1030.7,402.45 L1031.2,402.46 L1031.7,402.67 L1032.2,402.97 L1032.7,402.76 L1033.2,402.63 L1033.7,402.86 L1034.2,402.79 L1034.7,402.67 L1035.2,402.45 L1035.7,402.34 L1036.2,402.64 L1036.7,402.29 L1037.2,402.09 L1037.7,402.18 L1038.2,402.24 L1038.7,402.21 L1039.2,401.89 L1039.7,401.90 L1040.2,401.67 L1040.7,401.34 L1041.2,401.41 L1041.7,401.67 L1042.2,401.92 L1042.7,401.81 L1043.2,401.84 L1043.7,402.36 L1044.2,402.24 L1044.7,402.61 L1045.2,402.60 L1045.7,402.58 L1046.2,402.60 L1046.7,402.75 L1047.2,403.15 L1047.7,402.94 L1048.2,403.23 L1048.7,403.11 L1049.2,402.97 L1049.7,403.21 L1050.2,403.14 L1050.7,403.02 L1051.2,403.08 L1051.7,403.35 L1052.2,403.53 L1052.7,403.49 L1053.2,403.15 L1053.7,403.36 L1054.2,403.41 L1054.7,403.60 L1055.2,403.74 L1055.7,403.48 L1056.2,403.61 L1056.7,403.67 L1057.2,403.39 L1057.7,403.28 L1058.2,403.21 L1058.7,403.15 L1059.2,403.12 L1059.7,402.95 L1060.2,402.90 L1060.7,403.24 L1061.2,403.15 L1061.7,403.21 L1062.2,403.36 L1062.7,403.36 L1063.2,403.04 L1063.7,403.19 L1064.2,403.18 L1064.7,403.21 L1065.2,403.02 L1065.7,402.82 L1066.2,402.60 L1066.7,401.97 L1067.2,401.57 L1067.7,400.81 L1068.2,400.07 L1068.7,398.39 L1069.2,396.28 L1069.7,392.82 L1070.2,387.87 L1070.7,381.02 L1071.2,375.74 L1071.7,381.34 L1072.2,388.15 L1072.7,392.97 L1073.2,396.59 L1073.7,398.78 L1074.2,400.15 L1074.7,401.06 L1075.2,401.34 L1075.7,402.03 L1076.2,402.33 L1076.7,402.50 L1077.2,402.57 L1077.7,402.90 L1078.2,403.12 L1078.7,403.32 L1079.2,403.10 L1079.7,403.05 L1080.2,402.98 L1080.7,402.87 L1081.2,402.94 L1081.7,402.83 L1082.2,403.20 L1082.7,403.11 L1083.2,402.97 L1083.7,402.90 L1084.2,403.23 L1084.7,403.14 L1085.2,403.23 L1085.7,403.26 L1086.2,403.50 L1086.7,403.74 L1087.2,403.52 L1087.7,403.57 L1088.2,403.75 L1088.7,403.63 L1089.2,403.79 L1089.7,403.80 L1090.2,403.57 L1090.7,403.75 L1091.2,403.69 L1091.7,403.40 L1092.2,403.49 L1092.7,403.69 L1093.2,403.63 L1093.7,403.58 L1094.2,403.51 L1094.7,403.73 L1095.2,403.74 L1095.7,403.49 L1096.2,403.43 L1096.7,403.40 L1097.2,403.71 L1097.7,403.75 L1098.2,403.46 L1098.7,403.72 L1099.2,403.39 L1099.7,403.50 L1100.2,403.48 L1100.7,403.63 L1101.2,403.56 L1101.7,403.33 L1102.2,403.43 L1102.7,403.66 L1103.2,403.78 L1103.7,403.61 L1104.2,403.43 L1104.7,403.62 L1105.2,403.76 L1105.7,403.52 L1106.2,403.75 L1106.7,403.95 L1107.2,403.76 L1107.7,403.61 L1108.2,403.71 L1108.7,403.89 L1109.2,403.59 L1109.7,403.47 L1110.2,403.41 L1110.7,403.60 L1111.2,403.41 L1111.7,403.50 L1112.2,403.53 L1112.7,403.64 L1113.2,403.41 L1113.7,403.73 L1114.2,403.94 L1114.7,403.83 L1115.2,403.89 L1115.7,403.58 L1116.2,403.81 L1116.7,403.74 L1117.2,403.82 L1117.7,403.93 L1118.2,403.71 L1118.7,403.89 L1119.2,403.60 L1119.7,403.32 L1120.2,403.42 L1120.7,403.71 L1121.2,403.88 L1121.7,404.01 L1122.2,403.84 L1122.7,403.98 L1123.2,403.85 L1123.7,403.54 L1124.2,403.63 L1124.7,403.78 L1125.2,403.65 L1125.7,403.68 L1126.2,403.50 L1126.7,403.41 L1127.2,403.43 L1127.7,403.49 L1128.2,403.51 L1128.7,403.31 L1129.2,403.14 L1129.7,403.22 L1130.2,403.49 L1130.7,403.66 L1131.2,403.48 L1131.7,403.38 L1132.2,403.47 L1132.7,403.33 L1133.2,403.49 L1133.7,403.75 L1134.2,403.51 L1134.7,403.59 L1135.2,403.71 L1135.7,403.79 L1136.2,403.82 L1136.7,403.84 L1137.2,403.61 L1137.7,403.78 L1138.2,403.94 L1138.7,403.54 L1139.2,403.80 L1139.7,403.68 L1140.2,403.41 L1140.7,403.23 L1141.2,403.54 L1141.7,403.65 L1142.2,403.42 L1142.7,403.46 L1143.2,403.58 L1143.7,403.86 L1144.2,403.65 L1144.7,403.77 L1145.2,403.55 L1145.7,403.39 L1146.2,403.27 L1146.7,403.34 L1147.2,403.50 L1147.7,403.42 L1148.2,403.29 L1148.7,403.25 L1149.2,403.14 L1149.7,403.14 L1150.2,403.21 L1150.7,403.36 L1151.2,403.26 L1151.7,403.37 L1152.2,403.42 L1152.7,403.74 L1153.2,403.66 L1153.7,403.87 L1154.2,403.74 L1154.7,403.50 L1155.2,403.58 L1155.7,403.37 L1156.2,403.26 L1156.7,403.14 L1157.2,403.42 L1157.7,403.74 L1158.2,403.61 L1158.7,403.51 L1159.2,403.49 L1159.7,403.43 L1160.2,403.59 L1160.7,403.51 L1161.2,403.34 L1161.7,403.63 L1162.2,403.64 L1162.7,403.32 L1163.2,403.61 L1163.7,403.71 L1164.2,403.56 L1164.7,403.63 L1165.2,403.83 L1165.7,403.66 L1166.2,403.57 L1166.7,403.44 L1167.2,403.51 L1167.7,403.61 L1168.2,403.71 L1168.7,403.88 L1169.2,403.54 L1169.7,403.45 L1170.2,403.67 L1170.7,403.77 L1171.2,403.71 L1171.7,403.72 L1172.2,403.54 L1172.7,403.77 L1173.2,403.68 L1173.7,403.54 L1174.2,403.33 L1174.7,403.16 L1175.2,403.50 L1175.7,403.64 L1176.2,403.28 L1176.7,403.23 L1177.2,403.28 L1177.7,403.31 L1178.2,403.25 L1178.7,403.50 L1179.2,403.33 L1179.7,403.32 L1180.2,403.52 L1180.7,403.46 L1181.2,403.31 L1181.7,403.12 L1182.2,403.00 L1182.7,403.01 L1183.2,403.06 L1183.7,402.73 L1184.2,402.51 L1184.7,402.27 L1185.2,401.95 L1185.7,401.84 L1186.2,401.24 L1186.7,400.25 L1187.2,398.97 L1187.7,397.36 L1188.2,394.34 L1188.7,390.50 L1189.2,385.61 L1189.7,383.31 L1190.2,387.23 L1190.7,392.12 L1191.2,395.46 L1191.7,397.78 L1192.2,399.21 L1192.7,400.29 L1193.2,401.28 L1193.7,401.93 L1194.2,402.49 L1194.7,402.89 L1195.2,402.95 L1195.7,403.22 L1196.2,402.94 L1196.7,403.27 L1197.2,403.20 L1197.7,403.05 L1198.2,403.28 L1198.7,403.49 L1199.2,403.36 L1199.7,403.13 L1200.2,403.43 L1200.7,403.56 L1201.2,403.55 L1201.7,403.76 L1202.2,403.37 L1202.7,403.15 L1203.2,403.06 L1203.7,402.95 L1204.2,403.27 L1204.7,403.42 L1205.2,403.23 L1205.7,403.14 L1206.2,403.10 L1206.7,403.32 L1207.2,403.48 L1207.7,403.75 L1208.2,403.57 L1208.7,403.81 L1209.2,403.65 L1209.7,403.53 L1210.2,403.38 L1210.7,403.28 L1211.2,403.64 L1211.7,403.86 L1212.2,403.84 L1212.7,403.52 L1213.2,403.34 L1213.7,403.21 L1214.2,403.25 L1214.7,403.48 L1215.2,403.24 L1215.7,403.36 L1216.2,403.51 L1216.7,403.24 L1217.2,403.30 L1217.7,403.53 L1218.2,403.55 L1218.7,403.48 L1219.2,403.68 L1219.7,403.63 L1220.2,403.45 L1220.7,403.36 L1221.2,403.60 L1221.7,403.67 L1222.2,403.73 L1222.7,403.53 L1223.2,403.13 L1223.7,402.86 L1224.2,402.73 L1224.7,402.71 L1225.2,402.16 L1225.7,402.07 L1226.2,401.74 L1226.7,401.12 L1227.2,400.30 L1227.7,400.64 L1228.2,401.10 L1228.7,401.76 L1229.2,402.24 L1229.7,402.69 L1230.2,402.82 L1230.7,403.24 L1231.2,403.52 L1231.7,403.68 L1232.2,403.62 L1232.7,403.43 L1233.2,403.36 L1233.7,403.27 L1234.2,403.57 L1234.7,403.70 L1235.2,403.77 L1235.7,403.84 L1236.2,403.98 L1236.7,403.90 L1237.2,403.65 L1237.7,403.74 L1238.2,403.53 L1238.7,403.59 L1239.2,403.38 L1239.7,403.65 L1240.2,403.60 L1240.7,403.45 L1241.2,403.73 L1241.7,403.43 L1242.2,403.72 L1242.7,403.80 L1243.2,403.51 L1243.7,403.68 L1244.2,403.67 L1244.7,403.86 L1245.2,403.79 L1245.7,403.66 L1246.2,403.87 L1246.7,403.52 L1247.2,403.69 L1247.7,403.42 L1248.2,403.36 L1248.7,403.23 L1249.2,403.57 L1249.7,403.54 L1250.2,403.68 L1250.7,403.50 L1251.2,403.66 L1251.7,403.71 L1252.2,403.43 L1252.7,403.49 L1253.2,403.65 L1253.7,403.46 L1254.2,403.60 L1254.7,403.47 L1255.2,403.44 L1255.7,403.73 L1256.2,403.92 L1256.7,404.06 L1257.2,403.83 L1257.7,403.77 L1258.2,403.87 L1258.7,403.90 L1259.2,403.75 L1259.7,403.89 L1260.2,403.71 L1260.7,403.91 L1261.2,403.77 L1261.7,403.48 L1262.2,403.66 L1262.7,403.43 L1263.2,403.60 L1263.7,403.34 L1264.2,403.71 L1264.7,403.69 L1265.2,403.78 L1265.7,403.50 L1266.2,403.61 L1266.7,403.53 L1267.2,403.41 L1267.7,403.66 L1268.2,403.37 L1268.7,403.45 L1269.2,403.27 L1269.7,403.60 L1270.2,403.81 L1270.7,403.46 L1271.2,403.49 L1271.7,403.52 L1272.2,403.67 L1272.7,403.77 L1273.2,403.61 L1273.7,403.84 L1274.2,403.57 L1274.7,403.37 L1275.2,403.64 L1275.7,403.41 L1276.2,403.30 L1276.7,403.42 L1277.2,403.40 L1277.7,403.29 L1278.2,403.65 L1278.7,403.61 L1279.2,403.76 L1279.7,403.56 L1280.2,403.80 L1280.7,403.56 L1281.2,403.80 L1281.7,403.78 L1282.2,403.97 L1282.7,403.97 L1283.2,403.89 L1283.7,403.79 L1284.2,403.91 L1284.7,403.75 L1285.2,403.46 L1285.7,403.75 L1286.2,403.86 L1286.7,403.85 L1287.2,403.89 L1287.7,403.62 L1288.2,403.59 L1288.7,403.77 L1289.2,403.96 L1289.7,404.05 L1290.2,403.68 L1290.7,403.75 L1291.2,403.72 L1291.7,403.61 L1292.2,403.42 L1292.7,403.29 L1293.2,403.39 L1293.7,403.47 L1294.2,403.39 L1294.7,403.40 L1295.2,403.51 L1295.7,403.69 L1296.2,403.70 L1296.7,403.47 L1297.2,403.74 L1297.7,403.60 L1298.2,403.86 L1298.7,404.02 L1299.2,403.65 L1299.7,403.67 L1300.2,403.90 L1300.7,403.72 L1301.2,403.69 L1301.7,403.55 L1302.2,403.30 L1302.7,403.25 L1303.2,403.18 L1303.7,403.23 L1304.2,403.45 L1304.7,403.54 L1305.2,403.81 L1305.7,403.83 L1306.2,403.66 L1306.7,403.89 L1307.2,403.84 L1307.7,403.77 L1308.2,403.90 L1308.7,403.87 L1309.2,403.68 L1309.7,403.71 L1310.2,403.55 L1310.7,403.83 L1311.2,403.59 L1311.7,403.86 L1312.2,403.51 L1312.7,403.27 L1313.2,403.43 L1313.7,403.33 L1314.2,403.44 L1314.7,403.29 L1315.2,403.60 L1315.7,403.69 L1316.2,403.76 L1316.7,403.93 L1317.2,404.07 L1317.7,403.98 L1318.2,403.95 L1318.7,403.53 L1319.2,403.30 L1319.7,403.38 L1320.2,403.73 L1320.7,403.57 L1321.2,403.62 L1321.7,403.33 L1322.2,403.39 L1322.7,403.70 L1323.2,403.71 L1323.7,403.85 L1324.2,403.47 L1324.7,403.36 L1325.2,403.27 L1325.7,403.59 L1326.2,403.37 L1326.7,403.70 L1327.2,403.53 L1327.7,403.77 L1328.2,403.71 L1328.7,403.57 L1329.2,403.84 L1329.7,403.69 L1330.2,403.76 L1330.7,403.45 L1331.2,403.70 L1331.7,403.93 L1332.2,403.58 L1332.7,403.72 L1333.2,403.54 L1333.7,403.37 L1334.2,403.38 L1334.7,403.56 L1335.2,403.83 L1335.7,404.01 L1336.2,404.12 L1336.7,403.98 L1337.2,403.91 L1337.7,403.60" fill="none" stroke="#6f92c4" stroke-width="1.0" stroke-linejoin="round"/>
<path d="M703.2,453.76 L703.7,453.73 L704.2,453.57 L704.7,453.87 L705.2,453.58 L705.7,453.33 L706.2,453.19 L706.7,453.10 L707.2,453.36 L707.7,453.67 L708.2,453.39 L708.7,453.48 L709.2,453.58 L709.7,453.63 L710.2,453.55 L710.7,453.60 L711.2,453.25 L711.7,453.07 L712.2,453.22 L712.7,453.18 L713.2,453.53 L713.7,453.37 L714.2,453.69 L714.7,453.47 L715.2,453.22 L715.7,453.35 L716.2,453.37 L716.7,453.34 L717.2,453.63 L717.7,453.42 L718.2,453.61 L718.7,453.84 L719.2,453.71 L719.7,453.66 L720.2,453.94 L720.7,453.88 L721.2,453.53 L721.7,453.25 L722.2,453.08 L722.7,453.17 L723.2,453.04 L723.7,453.37 L724.2,453.40 L724.7,453.34 L725.2,453.45 L725.7,453.82 L726.2,453.54 L726.7,453.31 L727.2,453.28 L727.7,453.28 L728.2,453.70 L728.7,453.80 L729.2,453.67 L729.7,453.40 L730.2,453.15 L730.7,453.05 L731.2,453.52 L731.7,453.65 L732.2,453.38 L732.7,453.55 L733.2,453.25 L733.7,453.39 L734.2,453.35 L734.7,453.16 L735.2,453.51 L735.7,453.70 L736.2,453.66 L736.7,453.39 L737.2,453.59 L737.7,453.54 L738.2,453.68 L738.7,453.35 L739.2,453.73 L739.7,453.32 L740.2,453.23 L740.7,453.30 L741.2,453.20 L741.7,453.06 L742.2,453.41 L742.7,453.83 L743.2,453.62 L743.7,453.44 L744.2,453.62 L744.7,453.41 L745.2,453.41 L745.7,453.62 L746.2,453.56 L746.7,453.32 L747.2,453.12 L747.7,453.34 L748.2,453.79 L748.7,454.01 L749.2,453.55 L749.7,453.57 L750.2,453.57 L750.7,453.36 L751.2,453.57 L751.7,453.57 L752.2,453.80 L752.7,453.57 L753.2,453.89 L753.7,453.99 L754.2,453.81 L754.7,453.46 L755.2,453.50 L755.7,453.27 L756.2,453.53 L756.7,453.69 L757.2,453.71 L757.7,454.00 L758.2,453.51 L758.7,453.69 L759.2,453.87 L759.7,453.48 L760.2,453.39 L760.7,453.15 L761.2,453.38 L761.7,453.62 L762.2,453.50 L762.7,453.67 L763.2,453.54 L763.7,453.71 L764.2,453.50 L764.7,453.88 L765.2,453.72 L765.7,453.31 L766.2,453.12 L766.7,453.47 L767.2,453.78 L767.7,453.80 L768.2,453.46 L768.7,453.78 L769.2,453.86 L769.7,453.47 L770.2,453.43 L770.7,453.61 L771.2,453.24 L771.7,453.05 L772.2,453.16 L772.7,453.60 L773.2,453.95 L773.7,453.67 L774.2,453.93 L774.7,454.00 L775.2,454.09 L775.7,453.95 L776.2,454.14 L776.7,454.02 L777.2,454.17 L777.7,453.98 L778.2,453.60 L778.7,453.61 L779.2,453.58 L779.7,453.46 L780.2,453.42 L780.7,453.49 L781.2,453.59 L781.7,453.39 L782.2,453.30 L782.7,453.41 L783.2,453.48 L783.7,453.46 L784.2,453.63 L784.7,453.38 L785.2,453.48 L785.7,453.36 L786.2,453.64 L786.7,453.76 L787.2,453.89 L787.7,453.78 L788.2,453.51 L788.7,453.84 L789.2,453.74 L789.7,453.59 L790.2,453.43 L790.7,453.42 L791.2,453.63 L791.7,453.84 L792.2,453.72 L792.7,453.83 L793.2,453.52 L793.7,453.50 L794.2,453.43 L794.7,453.35 L795.2,453.33 L795.7,453.61 L796.2,453.76 L796.7,453.47 L797.2,453.32 L797.7,453.62 L798.2,453.71 L798.7,453.78 L799.2,453.79 L799.7,453.84 L800.2,453.57 L800.7,453.25 L801.2,453.27 L801.7,453.05 L802.2,453.59 L802.7,453.60 L803.2,453.70 L803.7,453.98 L804.2,454.03 L804.7,453.65 L805.2,453.49 L805.7,453.24 L806.2,453.58 L806.7,453.74 L807.2,453.66 L807.7,453.52 L808.2,453.37 L808.7,453.43 L809.2,453.63 L809.7,453.88 L810.2,454.00 L810.7,454.08 L811.2,453.82 L811.7,453.65 L812.2,453.48 L812.7,453.84 L813.2,453.49 L813.7,453.26 L814.2,453.22 L814.7,453.65 L815.2,453.85 L815.7,453.60 L816.2,453.83 L816.7,453.99 L817.2,453.75 L817.7,453.44 L818.2,453.67 L818.7,453.52 L819.2,453.24 L819.7,453.64 L820.2,453.54 L820.7,453.46 L821.2,453.54 L821.7,453.35 L822.2,453.06 L822.7,453.16 L823.2,453.20 L823.7,452.96 L824.2,453.08 L824.7,453.43 L825.2,453.32 L825.7,453.51 L826.2,453.58 L826.7,453.31 L827.2,453.02 L827.7,453.31 L828.2,453.44 L828.7,453.29 L829.2,453.12 L829.7,453.49 L830.2,453.75 L830.7,453.41 L831.2,453.46 L831.7,453.47 L832.2,453.29 L832.7,452.98 L833.2,452.98 L833.7,453.21 L834.2,453.31 L834.7,453.29 L835.2,452.99 L835.7,452.86 L836.2,452.84 L836.7,452.89 L837.2,452.85 L837.7,453.20 L838.2,452.81 L838.7,453.18 L839.2,452.81 L839.7,452.99 L840.2,452.59 L840.7,452.51 L841.2,452.20 L841.7,451.62 L842.2,451.62 L842.7,451.35 L843.2,450.38 L843.7,449.57 L844.2,447.98 L844.7,446.13 L845.2,442.78 L845.7,439.74 L846.2,438.99 L846.7,441.73 L847.2,444.60 L847.7,446.73 L848.2,447.83 L848.7,448.25 L849.2,448.59 L849.7,448.00 L850.2,447.39 L850.7,446.96 L851.2,446.11 L851.7,445.77 L852.2,445.27 L852.7,446.07 L853.2,446.83 L853.7,447.49 L854.2,448.19 L854.7,448.75 L855.2,449.37 L855.7,449.81 L856.2,450.13 L856.7,450.15 L857.2,450.43 L857.7,450.48 L858.2,450.95 L858.7,450.86 L859.2,451.19 L859.7,451.49 L860.2,451.68 L860.7,452.23 L861.2,452.15 L861.7,452.63 L862.2,452.59 L862.7,452.58 L863.2,452.80 L863.7,452.92 L864.2,452.81 L864.7,452.62 L865.2,453.15 L865.7,453.05 L866.2,452.82 L866.7,453.08 L867.2,453.15 L867.7,453.05 L868.2,452.99 L868.7,453.33 L869.2,453.16 L869.7,453.12 L870.2,453.47 L870.7,453.24 L871.2,453.11 L871.7,452.84 L872.2,453.00 L872.7,453.05 L873.2,452.85 L873.7,452.61 L874.2,452.23 L874.7,452.25 L875.2,451.88 L875.7,451.83 L876.2,451.60 L876.7,452.02 L877.2,451.92 L877.7,452.11 L878.2,452.81 L878.7,453.08 L879.2,453.26 L879.7,453.26 L880.2,453.26 L880.7,453.07 L881.2,452.95 L881.7,453.23 L882.2,453.44 L882.7,453.26 L883.2,453.43 L883.7,453.17 L884.2,453.37 L884.7,453.17 L885.2,453.30 L885.7,453.23 L886.2,453.37 L886.7,453.15 L887.2,453.28 L887.7,453.45 L888.2,453.21 L888.7,453.19 L889.2,453.44 L889.7,453.50 L890.2,453.59 L890.7,453.76 L891.2,453.72 L891.7,453.44 L892.2,453.43 L892.7,453.71 L893.2,453.68 L893.7,453.80 L894.2,453.60 L894.7,453.53 L895.2,453.87 L895.7,453.97 L896.2,453.90 L896.7,453.47 L897.2,453.58 L897.7,453.23 L898.2,453.66 L898.7,453.95 L899.2,453.95 L899.7,453.62 L900.2,453.84 L900.7,453.49 L901.2,453.75 L901.7,453.68 L902.2,453.28 L902.7,453.67 L903.2,453.58 L903.7,453.80 L904.2,453.84 L904.7,453.74 L905.2,453.93 L905.7,453.56 L906.2,453.84 L906.7,453.61 L907.2,453.25 L907.7,453.25 L908.2,453.06 L908.7,452.95 L909.2,453.28 L909.7,453.12 L910.2,453.05 L910.7,453.10 L911.2,453.12 L911.7,453.60 L912.2,453.87 L912.7,454.01 L913.2,454.18 L913.7,453.89 L914.2,453.97 L914.7,453.64 L915.2,453.92 L915.7,454.00 L916.2,453.99 L916.7,453.62 L917.2,453.30 L917.7,453.71 L918.2,453.68 L918.7,453.71 L919.2,453.91 L919.7,453.51 L920.2,453.67 L920.7,453.60 L921.2,453.79 L921.7,453.66 L922.2,453.40 L922.7,453.79 L923.2,453.54 L923.7,453.72 L924.2,453.90 L924.7,453.58 L925.2,453.71 L925.7,453.57 L926.2,453.37 L926.7,453.24 L927.2,453.69 L927.7,453.54 L928.2,453.56 L928.7,453.56 L929.2,453.22 L929.7,453.53 L930.2,453.72 L930.7,453.92 L931.2,453.67 L931.7,453.42 L932.2,453.36 L932.7,453.61 L933.2,453.70 L933.7,453.57 L934.2,453.58 L934.7,453.32 L935.2,453.72 L935.7,453.63 L936.2,453.61 L936.7,453.79 L937.2,453.48 L937.7,453.67 L938.2,453.52 L938.7,453.76 L939.2,453.38 L939.7,453.29 L940.2,453.49 L940.7,453.50 L941.2,453.43 L941.7,453.54 L942.2,453.34 L942.7,453.38 L943.2,453.09 L943.7,453.49 L944.2,453.34 L944.7,453.66 L945.2,453.65 L945.7,453.68 L946.2,453.72 L946.7,453.38 L947.2,453.65 L947.7,453.46 L948.2,453.75 L948.7,453.88 L949.2,453.87 L949.7,453.97 L950.2,453.75 L950.7,453.79 L951.2,454.02 L951.7,453.61 L952.2,453.29 L952.7,453.33 L953.2,453.42 L953.7,453.22 L954.2,453.14 L954.7,453.57 L955.2,453.47 L955.7,453.25 L956.2,453.14 L956.7,453.35 L957.2,453.20 L957.7,453.32 L958.2,453.43 L958.7,453.43 L959.2,453.47 L959.7,453.74 L960.2,453.31 L960.7,453.71 L961.2,453.42 L961.7,453.13 L962.2,453.48 L962.7,453.55 L963.2,453.57 L963.7,453.35 L964.2,453.62 L964.7,453.44 L965.2,453.64 L965.7,453.40 L966.2,453.50 L966.7,453.61 L967.2,453.48 L967.7,453.48 L968.2,453.18 L968.7,453.42 L969.2,453.59 L969.7,453.31 L970.2,453.43 L970.7,453.63 L971.2,453.29 L971.7,453.62 L972.2,453.84 L972.7,453.38 L973.2,453.25 L973.7,453.05 L974.2,453.05 L974.7,452.93 L975.2,453.15 L975.7,453.11 L976.2,453.12 L976.7,453.24 L977.2,453.25 L977.7,453.55 L978.2,453.68 L978.7,453.32 L979.2,453.19 L979.7,452.95 L980.2,453.04 L980.7,452.93 L981.2,453.29 L981.7,453.56 L982.2,453.88 L982.7,453.50 L983.2,453.15 L983.7,453.46 L984.2,453.39 L984.7,453.72 L985.2,453.53 L985.7,453.36 L986.2,453.08 L986.7,453.55 L987.2,453.51 L987.7,453.43 L988.2,453.38 L988.7,453.59 L989.2,453.76 L989.7,453.60 L990.2,453.29 L990.7,453.26 L991.2,453.60 L991.7,453.45 L992.2,453.53 L992.7,453.51 L993.2,453.43 L993.7,453.45 L994.2,453.23 L994.7,453.32 L995.2,453.59 L995.7,453.18 L996.2,453.14 L996.7,453.48 L997.2,453.76 L997.7,453.22 L998.2,453.34 L998.7,453.41 L999.2,453.60 L999.7,453.44 L1000.2,453.09 L1000.7,453.00 L1001.2,453.24 L1001.7,453.39 L1002.2,453.09 L1002.7,453.22 L1003.2,453.31 L1003.7,453.35 L1004.2,452.91 L1004.7,452.94 L1005.2,452.87 L1005.7,453.01 L1006.2,452.90 L1006.7,452.68 L1007.2,452.92 L1007.7,452.78 L1008.2,453.05 L1008.7,452.85 L1009.2,452.88 L1009.7,453.08 L1010.2,452.68 L1010.7,452.86 L1011.2,452.46 L1011.7,452.81 L1012.2,452.32 L1012.7,452.48 L1013.2,452.24 L1013.7,451.86 L1014.2,451.67 L1014.7,451.47 L1015.2,451.09 L1015.7,450.41 L1016.2,450.00 L1016.7,449.24 L1017.2,448.86 L1017.7,447.76 L1018.2,446.63 L1018.7,445.27 L1019.2,444.44 L1019.7,442.91 L1020.2,441.69 L1020.7,440.59 L1021.2,439.14 L1021.7,438.12 L1022.2,436.76 L1022.7,435.41 L1023.2,434.04 L1023.7,433.14 L1024.2,433.60 L1024.7,433.78 L1025.2,434.02 L1025.7,434.26 L1026.2,433.88 L1026.7,433.35 L1027.2,433.05 L1027.7,433.20 L1028.2,434.56 L1028.7,435.86 L1029.2,436.68 L1029.7,438.01 L1030.2,439.35 L1030.7,440.49 L1031.2,442.01 L1031.7,443.66 L1032.2,444.46 L1032.7,445.27 L1033.2,445.89 L1033.7,445.83 L1034.2,446.51 L1034.7,446.52 L1035.2,446.95 L1035.7,447.88 L1036.2,448.33 L1036.7,449.23 L1037.2,449.89 L1037.7,450.75 L1038.2,451.08 L1038.7,451.46 L1039.2,451.77 L1039.7,451.88 L1040.2,451.96 L1040.7,452.09 L1041.2,452.41 L1041.7,452.34 L1042.2,452.79 L1042.7,452.79 L1043.2,452.67 L1043.7,452.61 L1044.2,453.01 L1044.7,452.69 L1045.2,453.00 L1045.7,452.73 L1046.2,453.19 L1046.7,453.09 L1047.2,453.16 L1047.7,453.41 L1048.2,453.01 L1048.7,452.75 L1049.2,453.06 L1049.7,453.17 L1050.2,453.33 L1050.7,453.12 L1051.2,453.15 L1051.7,452.95 L1052.2,453.01 L1052.7,452.94 L1053.2,453.12 L1053.7,453.02 L1054.2,452.94 L1054.7,453.16 L1055.2,452.90 L1055.7,453.25 L1056.2,453.24 L1056.7,453.04 L1057.2,452.84 L1057.7,453.00 L1058.2,453.09 L1058.7,453.29 L1059.2,453.15 L1059.7,453.08 L1060.2,453.37 L1060.7,453.08 L1061.2,453.39 L1061.7,453.47 L1062.2,453.53 L1062.7,453.46 L1063.2,452.81 L1063.7,452.67 L1064.2,452.22 L1064.7,451.38 L1065.2,451.14 L1065.7,450.56 L1066.2,450.75 L1066.7,451.22 L1067.2,451.40 L1067.7,452.21 L1068.2,452.26 L1068.7,452.39 L1069.2,452.76 L1069.7,452.69 L1070.2,452.86 L1070.7,453.16 L1071.2,452.91 L1071.7,453.17 L1072.2,452.94 L1072.7,453.07 L1073.2,453.28 L1073.7,453.44 L1074.2,453.07 L1074.7,452.96 L1075.2,453.45 L1075.7,453.34 L1076.2,453.30 L1076.7,453.24 L1077.2,453.43 L1077.7,453.59 L1078.2,453.61 L1078.7,453.45 L1079.2,453.48 L1079.7,453.45 L1080.2,453.20 L1080.7,453.60 L1081.2,453.85 L1081.7,453.87 L1082.2,454.03 L1082.7,453.75 L1083.2,453.85 L1083.7,453.48 L1084.2,453.62 L1084.7,453.68 L1085.2,453.88 L1085.7,453.92 L1086.2,453.98 L1086.7,453.57 L1087.2,453.70 L1087.7,453.56 L1088.2,453.35 L1088.7,453.26 L1089.2,453.52 L1089.7,453.71 L1090.2,453.82 L1090.7,453.76 L1091.2,453.36 L1091.7,453.11 L1092.2,453.26 L1092.7,453.08 L1093.2,453.07 L1093.7,452.89 L1094.2,452.82 L1094.7,453.18 L1095.2,453.03 L1095.7,453.40 L1096.2,453.24 L1096.7,453.51 L1097.2,453.28 L1097.7,453.11 L1098.2,453.10 L1098.7,452.81 L1099.2,452.94 L1099.7,452.98 L1100.2,452.73 L1100.7,453.18 L1101.2,453.10 L1101.7,452.77 L1102.2,453.26 L1102.7,453.02 L1103.2,452.88 L1103.7,452.63 L1104.2,452.51 L1104.7,452.87 L1105.2,452.98 L1105.7,452.97 L1106.2,452.76 L1106.7,452.63 L1107.2,453.02 L1107.7,452.78 L1108.2,453.03 L1108.7,453.05 L1109.2,452.44 L1109.7,452.50 L1110.2,451.83 L1110.7,451.80 L1111.2,451.72 L1111.7,451.49 L1112.2,451.18 L1112.7,451.39 L1113.2,451.18 L1113.7,451.42 L1114.2,451.43 L1114.7,451.57 L1115.2,451.51 L1115.7,451.83 L1116.2,451.90 L1116.7,452.06 L1117.2,451.99 L1117.7,451.87 L1118.2,451.96 L1118.7,451.85 L1119.2,451.51 L1119.7,451.02 L1120.2,451.04 L1120.7,450.51 L1121.2,449.86 L1121.7,449.48 L1122.2,449.34 L1122.7,449.24 L1123.2,448.79 L1123.7,448.33 L1124.2,448.04 L1124.7,447.54 L1125.2,446.78 L1125.7,446.11 L1126.2,445.69 L1126.7,444.90 L1127.2,444.03 L1127.7,443.64 L1128.2,443.29 L1128.7,442.43 L1129.2,441.99 L1129.7,441.70 L1130.2,441.00 L1130.7,440.74 L1131.2,440.92 L1131.7,440.96 L1132.2,441.48 L1132.7,441.88 L1133.2,441.75 L1133.7,441.94 L1134.2,441.97 L1134.7,441.68 L1135.2,442.15 L1135.7,441.94 L1136.2,441.90 L1136.7,442.36 L1137.2,442.58 L1137.7,443.36 L1138.2,444.12 L1138.7,445.31 L1139.2,445.96 L1139.7,446.96 L1140.2,447.78 L1140.7,448.36 L1141.2,448.65 L1141.7,449.05 L1142.2,449.56 L1142.7,449.94 L1143.2,450.46 L1143.7,450.77 L1144.2,450.92 L1144.7,451.30 L1145.2,451.89 L1145.7,451.73 L1146.2,451.79 L1146.7,451.65 L1147.2,451.67 L1147.7,451.69 L1148.2,452.00 L1148.7,452.51 L1149.2,452.75 L1149.7,453.10 L1150.2,453.24 L1150.7,453.16 L1151.2,453.12 L1151.7,452.69 L1152.2,452.72 L1152.7,452.65 L1153.2,452.88 L1153.7,452.62 L1154.2,452.82 L1154.7,452.82 L1155.2,452.90 L1155.7,452.89 L1156.2,452.67 L1156.7,452.99 L1157.2,453.23 L1157.7,453.23 L1158.2,452.87 L1158.7,453.01 L1159.2,453.28 L1159.7,453.51 L1160.2,453.48 L1160.7,452.93 L1161.2,453.19 L1161.7,453.17 L1162.2,452.85 L1162.7,453.09 L1163.2,453.14 L1163.7,453.16 L1164.2,452.66 L1164.7,452.52 L1165.2,452.21 L1165.7,451.86 L1166.2,451.86 L1166.7,451.62 L1167.2,451.12 L1167.7,450.82 L1168.2,450.81 L1168.7,450.48 L1169.2,450.73 L1169.7,450.87 L1170.2,451.43 L1170.7,451.22 L1171.2,451.52 L1171.7,451.85 L1172.2,452.25 L1172.7,452.71 L1173.2,452.79 L1173.7,452.76 L1174.2,452.88 L1174.7,452.90 L1175.2,453.05 L1175.7,453.32 L1176.2,452.82 L1176.7,452.73 L1177.2,453.07 L1177.7,452.67 L1178.2,452.92 L1178.7,452.49 L1179.2,452.62 L1179.7,452.72 L1180.2,452.27 L1180.7,451.95 L1181.2,451.46 L1181.7,451.30 L1182.2,450.90 L1182.7,450.66 L1183.2,450.84 L1183.7,451.37 L1184.2,452.13 L1184.7,452.57 L1185.2,453.03 L1185.7,452.84 L1186.2,452.95 L1186.7,452.95 L1187.2,452.94 L1187.7,453.28 L1188.2,453.04 L1188.7,453.19 L1189.2,453.44 L1189.7,453.72 L1190.2,453.23 L1190.7,453.12 L1191.2,453.23 L1191.7,453.61 L1192.2,453.29 L1192.7,453.59 L1193.2,453.45 L1193.7,453.48 L1194.2,453.77 L1194.7,453.33 L1195.2,453.26 L1195.7,453.09 L1196.2,452.98 L1196.7,453.03 L1197.2,453.35 L1197.7,453.46 L1198.2,453.20 L1198.7,453.53 L1199.2,453.52 L1199.7,453.25 L1200.2,453.58 L1200.7,453.78 L1201.2,453.46 L1201.7,453.79 L1202.2,453.90 L1202.7,453.55 L1203.2,453.17 L1203.7,453.57 L1204.2,453.78 L1204.7,453.38 L1205.2,453.63 L1205.7,453.78 L1206.2,453.77 L1206.7,453.91 L1207.2,454.10 L1207.7,453.75 L1208.2,453.90 L1208.7,454.05 L1209.2,453.71 L1209.7,453.77 L1210.2,453.80 L1210.7,453.95 L1211.2,453.83 L1211.7,453.55 L1212.2,453.36 L1212.7,453.46 L1213.2,453.23 L1213.7,453.61 L1214.2,453.86 L1214.7,453.55 L1215.2,453.68 L1215.7,453.75 L1216.2,453.39 L1216.7,453.65 L1217.2,453.80 L1217.7,453.56 L1218.2,453.26 L1218.7,453.22 L1219.2,453.54 L1219.7,453.52 L1220.2,453.76 L1220.7,453.43 L1221.2,453.19 L1221.7,453.22 L1222.2,453.63 L1222.7,453.35 L1223.2,453.12 L1223.7,453.48 L1224.2,453.21 L1224.7,453.47 L1225.2,453.20 L1225.7,453.16 L1226.2,453.43 L1226.7,453.75 L1227.2,453.61 L1227.7,453.55 L1228.2,453.21 L1228.7,453.23 L1229.2,453.18 L1229.7,453.54 L1230.2,453.70 L1230.7,453.84 L1231.2,453.75 L1231.7,453.82 L1232.2,453.44 L1232.7,453.41 L1233.2,453.32 L1233.7,453.26 L1234.2,453.55 L1234.7,453.35 L1235.2,453.30 L1235.7,453.25 L1236.2,453.63 L1236.7,453.70 L1237.2,453.63 L1237.7,453.52 L1238.2,453.84 L1238.7,454.04 L1239.2,453.81 L1239.7,453.76 L1240.2,453.94 L1240.7,453.61 L1241.2,453.42 L1241.7,453.19 L1242.2,453.34 L1242.7,453.62 L1243.2,453.35 L1243.7,453.38 L1244.2,453.81 L1244.7,453.70 L1245.2,453.56 L1245.7,453.80 L1246.2,453.99 L1246.7,453.73 L1247.2,453.39 L1247.7,453.56 L1248.2,453.73 L1248.7,453.97 L1249.2,453.92 L1249.7,453.64 L1250.2,453.62 L1250.7,453.44 L1251.2,453.45 L1251.7,453.47 L1252.2,453.80 L1252.7,454.00 L1253.2,454.13 L1253.7,453.89 L1254.2,454.09 L1254.7,453.62 L1255.2,453.90 L1255.7,453.86 L1256.2,454.01 L1256.7,453.77 L1257.2,454.04 L1257.7,453.50 L1258.2,453.77 L1258.7,453.92 L1259.2,453.68 L1259.7,453.87 L1260.2,453.54 L1260.7,453.73 L1261.2,453.63 L1261.7,453.54 L1262.2,453.33 L1262.7,453.63 L1263.2,453.77 L1263.7,453.38 L1264.2,453.79 L1264.7,453.49 L1265.2,453.43 L1265.7,453.41 L1266.2,453.52 L1266.7,453.81 L1267.2,454.02 L1267.7,453.93 L1268.2,453.67 L1268.7,453.34 L1269.2,453.10 L1269.7,453.29 L1270.2,453.44 L1270.7,453.44 L1271.2,453.82 L1271.7,453.64 L1272.2,453.48 L1272.7,453.44 L1273.2,453.23 L1273.7,453.65 L1274.2,453.66 L1274.7,453.62 L1275.2,453.51 L1275.7,453.32 L1276.2,453.24 L1276.7,453.32 L1277.2,453.33 L1277.7,453.72 L1278.2,453.64 L1278.7,453.33 L1279.2,453.03 L1279.7,452.91 L1280.2,452.96 L1280.7,453.29 L1281.2,453.55 L1281.7,453.21 L1282.2,453.37 L1282.7,453.20 L1283.2,453.12 L1283.7,453.03 L1284.2,452.56 L1284.7,452.23 L1285.2,452.40 L1285.7,452.44 L1286.2,452.17 L1286.7,452.35 L1287.2,452.36 L1287.7,452.15 L1288.2,451.93 L1288.7,452.21 L1289.2,452.51 L1289.7,452.41 L1290.2,452.25 L1290.7,452.48 L1291.2,452.30 L1291.7,452.69 L1292.2,452.82 L1292.7,452.63 L1293.2,452.60 L1293.7,452.38 L1294.2,452.15 L1294.7,451.95 L1295.2,452.22 L1295.7,452.07 L1296.2,452.14 L1296.7,451.97 L1297.2,452.34 L1297.7,452.49 L1298.2,452.70 L1298.7,452.69 L1299.2,452.86 L1299.7,452.73 L1300.2,453.24 L1300.7,453.35 L1301.2,453.34 L1301.7,453.43 L1302.2,453.10 L1302.7,453.09 L1303.2,453.02 L1303.7,453.42 L1304.2,453.07 L1304.7,453.18 L1305.2,453.56 L1305.7,453.72 L1306.2,453.78 L1306.7,453.52 L1307.2,453.32 L1307.7,453.54 L1308.2,453.38 L1308.7,453.59 L1309.2,453.45 L1309.7,453.67 L1310.2,453.66 L1310.7,453.84 L1311.2,454.06 L1311.7,453.77 L1312.2,454.03 L1312.7,453.48 L1313.2,453.78 L1313.7,453.35 L1314.2,453.46 L1314.7,453.41 L1315.2,453.66 L1315.7,453.49 L1316.2,453.30 L1316.7,453.61 L1317.2,453.62 L1317.7,453.78 L1318.2,453.69 L1318.7,453.30 L1319.2,453.60 L1319.7,453.38 L1320.2,453.44 L1320.7,453.13 L1321.2,453.13 L1321.7,453.42 L1322.2,453.67 L1322.7,453.73 L1323.2,453.62 L1323.7,453.77 L1324.2,453.81 L1324.7,453.50 L1325.2,453.56 L1325.7,453.63 L1326.2,453.77 L1326.7,453.48 L1327.2,453.38 L1327.7,453.34 L1328.2,453.15 L1328.7,453.21 L1329.2,453.52 L1329.7,453.60 L1330.2,453.35 L1330.7,453.61 L1331.2,453.32 L1331.7,453.60 L1332.2,453.34 L1332.7,453.14 L1333.2,453.14 L1333.7,453.33 L1334.2,453.26 L1334.7,453.67 L1335.2,453.95 L1335.7,453.64 L1336.2,453.80 L1336.7,453.85 L1337.2,453.79 L1337.7,453.53" fill="none" stroke="#d48a98" stroke-width="1.0" stroke-linejoin="round"/>
<path d="M703.2,554.48 L703.7,554.53 L704.2,554.38 L704.7,554.36 L705.2,554.34 L705.7,554.30 L706.2,554.33 L706.7,554.43 L707.2,554.32 L707.7,554.42 L708.2,554.37 L708.7,554.29 L709.2,554.41 L709.7,554.36 L710.2,554.32 L710.7,554.27 L711.2,554.30 L711.7,554.26 L712.2,554.25 L712.7,554.26 L713.2,554.33 L713.7,554.34 L714.2,554.33 L714.7,554.36 L715.2,554.42 L715.7,554.45 L716.2,554.40 L716.7,554.48 L717.2,554.50 L717.7,554.47 L718.2,554.43 L718.7,554.38 L719.2,554.32 L719.7,554.42 L720.2,554.43 L720.7,554.34 L721.2,554.44 L721.7,554.50 L722.2,554.36 L722.7,554.41 L723.2,554.35 L723.7,554.38 L724.2,554.45 L724.7,554.40 L725.2,554.39 L725.7,554.42 L726.2,554.35 L726.7,554.39 L727.2,554.38 L727.7,554.48 L728.2,554.38 L728.7,554.43 L729.2,554.32 L729.7,554.31 L730.2,554.27 L730.7,554.25 L731.2,554.31 L731.7,554.28 L732.2,554.38 L732.7,554.31 L733.2,554.36 L733.7,554.44 L734.2,554.35 L734.7,554.31 L735.2,554.39 L735.7,554.39 L736.2,554.47 L736.7,554.41 L737.2,554.38 L737.7,554.47 L738.2,554.41 L738.7,554.49 L739.2,554.52 L739.7,554.41 L740.2,554.41 L740.7,554.49 L741.2,554.37 L741.7,554.45 L742.2,554.48 L742.7,554.49 L743.2,554.47 L743.7,554.36 L744.2,554.46 L744.7,554.35 L745.2,554.42 L745.7,554.45 L746.2,554.39 L746.7,554.42 L747.2,554.39 L747.7,554.44 L748.2,554.33 L748.7,554.43 L749.2,554.39 L749.7,554.45 L750.2,554.42 L750.7,554.46 L751.2,554.39 L751.7,554.40 L752.2,554.30 L752.7,554.33 L753.2,554.27 L753.7,554.39 L754.2,554.42 L754.7,554.39 L755.2,554.48 L755.7,554.53 L756.2,554.56 L756.7,554.41 L757.2,554.44 L757.7,554.46 L758.2,554.45 L758.7,554.33 L759.2,554.43 L759.7,554.40 L760.2,554.41 L760.7,554.46 L761.2,554.38 L761.7,554.29 L762.2,554.41 L762.7,554.35 L763.2,554.27 L763.7,554.24 L764.2,554.39 L764.7,554.43 L765.2,554.35 L765.7,554.29 L766.2,554.40 L766.7,554.42 L767.2,554.42 L767.7,554.33 L768.2,554.33 L768.7,554.43 L769.2,554.31 L769.7,554.32 L770.2,554.26 L770.7,554.40 L771.2,554.31 L771.7,554.42 L772.2,554.46 L772.7,554.47 L773.2,554.34 L773.7,554.39 L774.2,554.38 L774.7,554.37 L775.2,554.30 L775.7,554.33 L776.2,554.40 L776.7,554.31 L777.2,554.40 L777.7,554.37 L778.2,554.32 L778.7,554.28 L779.2,554.30 L779.7,554.35 L780.2,554.37 L780.7,554.44 L781.2,554.40 L781.7,554.38 L782.2,554.46 L782.7,554.36 L783.2,554.26 L783.7,554.26 L784.2,554.26 L784.7,554.22 L785.2,554.25 L785.7,554.19 L786.2,554.33 L786.7,554.33 L787.2,554.40 L787.7,554.41 L788.2,554.42 L788.7,554.43 L789.2,554.35 L789.7,554.38 L790.2,554.30 L790.7,554.31 L791.2,554.33 L791.7,554.37 L792.2,554.28 L792.7,554.25 L793.2,554.33 L793.7,554.37 L794.2,554.43 L794.7,554.29 L795.2,554.23 L795.7,554.16 L796.2,554.24 L796.7,554.29 L797.2,554.30 L797.7,554.33 L798.2,554.29 L798.7,554.27 L799.2,554.32 L799.7,554.30 L800.2,554.28 L800.7,554.25 L801.2,554.21 L801.7,554.22 L802.2,554.19 L802.7,554.08 L803.2,554.06 L803.7,554.04 L804.2,554.01 L804.7,554.01 L805.2,553.95 L805.7,553.91 L806.2,553.87 L806.7,553.81 L807.2,553.87 L807.7,553.70 L808.2,553.55 L808.7,553.54 L809.2,553.43 L809.7,553.30 L810.2,553.16 L810.7,552.93 L811.2,552.63 L811.7,552.22 L812.2,551.89 L812.7,551.37 L813.2,550.45 L813.7,549.25 L814.2,547.50 L814.7,544.90 L815.2,541.21 L815.7,535.64 L816.2,527.89 L816.7,519.79 L817.2,518.52 L817.7,526.28 L818.2,534.21 L818.7,540.23 L819.2,544.31 L819.7,547.13 L820.2,549.05 L820.7,550.36 L821.2,551.14 L821.7,551.81 L822.2,552.37 L822.7,552.73 L823.2,552.96 L823.7,553.09 L824.2,553.19 L824.7,553.42 L825.2,553.45 L825.7,553.65 L826.2,553.76 L826.7,553.80 L827.2,553.93 L827.7,554.03 L828.2,554.04 L828.7,553.96 L829.2,554.02 L829.7,554.03 L830.2,554.01 L830.7,554.13 L831.2,554.18 L831.7,554.10 L832.2,554.07 L832.7,554.08 L833.2,554.14 L833.7,554.13 L834.2,554.15 L834.7,554.24 L835.2,554.17 L835.7,554.24 L836.2,554.21 L836.7,554.31 L837.2,554.37 L837.7,554.30 L838.2,554.30 L838.7,554.22 L839.2,554.22 L839.7,554.27 L840.2,554.30 L840.7,554.26 L841.2,554.18 L841.7,554.16 L842.2,554.22 L842.7,554.19 L843.2,554.20 L843.7,554.26 L844.2,554.36 L844.7,554.34 L845.2,554.28 L845.7,554.31 L846.2,554.27 L846.7,554.34 L847.2,554.26 L847.7,554.24 L848.2,554.26 L848.7,554.36 L849.2,554.28 L849.7,554.23 L850.2,554.20 L850.7,554.19 L851.2,554.21 L851.7,554.23 L852.2,554.31 L852.7,554.30 L853.2,554.30 L853.7,554.29 L854.2,554.35 L854.7,554.41 L855.2,554.36 L855.7,554.42 L856.2,554.33 L856.7,554.41 L857.2,554.37 L857.7,554.38 L858.2,554.32 L858.7,554.27 L859.2,554.21 L859.7,554.31 L860.2,554.27 L860.7,554.31 L861.2,554.29 L861.7,554.29 L862.2,554.22 L862.7,554.17 L863.2,554.17 L863.7,554.23 L864.2,554.23 L864.7,554.13 L865.2,554.20 L865.7,554.18 L866.2,554.09 L866.7,554.06 L867.2,554.02 L867.7,554.11 L868.2,554.09 L868.7,554.02 L869.2,553.94 L869.7,553.87 L870.2,553.79 L870.7,553.71 L871.2,553.69 L871.7,553.60 L872.2,553.42 L872.7,553.20 L873.2,552.81 L873.7,552.17 L874.2,551.33 L874.7,550.16 L875.2,548.46 L875.7,546.04 L876.2,543.01 L876.7,540.28 L877.2,541.76 L877.7,544.86 L878.2,547.76 L878.7,549.77 L879.2,551.05 L879.7,551.85 L880.2,552.58 L880.7,552.93 L881.2,553.31 L881.7,553.43 L882.2,553.64 L882.7,553.73 L883.2,553.91 L883.7,553.93 L884.2,553.91 L884.7,553.93 L885.2,554.08 L885.7,554.20 L886.2,554.22 L886.7,554.25 L887.2,554.19 L887.7,554.17 L888.2,554.12 L888.7,554.27 L889.2,554.18 L889.7,554.24 L890.2,554.23 L890.7,554.19 L891.2,554.22 L891.7,554.33 L892.2,554.27 L892.7,554.22 L893.2,554.29 L893.7,554.33 L894.2,554.33 L894.7,554.27 L895.2,554.36 L895.7,554.28 L896.2,554.24 L896.7,554.23 L897.2,554.28 L897.7,554.30 L898.2,554.33 L898.7,554.38 L899.2,554.44 L899.7,554.40 L900.2,554.29 L900.7,554.38 L901.2,554.28 L901.7,554.27 L902.2,554.24 L902.7,554.31 L903.2,554.38 L903.7,554.30 L904.2,554.29 L904.7,554.39 L905.2,554.41 L905.7,554.32 L906.2,554.37 L906.7,554.43 L907.2,554.39 L907.7,554.31 L908.2,554.37 L908.7,554.33 L909.2,554.28 L909.7,554.25 L910.2,554.28 L910.7,554.25 L911.2,554.27 L911.7,554.32 L912.2,554.35 L912.7,554.34 L913.2,554.41 L913.7,554.32 L914.2,554.31 L914.7,554.42 L915.2,554.47 L915.7,554.52 L916.2,554.51 L916.7,554.47 L917.2,554.49 L917.7,554.46 L918.2,554.35 L918.7,554.32 L919.2,554.26 L919.7,554.38 L920.2,554.35 L920.7,554.34 L921.2,554.37 L921.7,554.30 L922.2,554.37 L922.7,554.43 L923.2,554.47 L923.7,554.51 L924.2,554.42 L924.7,554.34 L925.2,554.41 L925.7,554.43 L926.2,554.39 L926.7,554.36 L927.2,554.30 L927.7,554.40 L928.2,554.38 L928.7,554.44 L929.2,554.39 L929.7,554.35 L930.2,554.37 L930.7,554.42 L931.2,554.48 L931.7,554.41 L932.2,554.44 L932.7,554.40 L933.2,554.46 L933.7,554.48 L934.2,554.45 L934.7,554.40 L935.2,554.35 L935.7,554.44 L936.2,554.48 L936.7,554.40 L937.2,554.32 L937.7,554.29 L938.2,554.42 L938.7,554.32 L939.2,554.40 L939.7,554.40 L940.2,554.41 L940.7,554.41 L941.2,554.38 L941.7,554.40 L942.2,554.31 L942.7,554.42 L943.2,554.33 L943.7,554.29 L944.2,554.36 L944.7,554.40 L945.2,554.45 L945.7,554.46 L946.2,554.52 L946.7,554.38 L947.2,554.29 L947.7,554.28 L948.2,554.38 L948.7,554.31 L949.2,554.35 L949.7,554.42 L950.2,554.34 L950.7,554.36 L951.2,554.45 L951.7,554.47 L952.2,554.42 L952.7,554.40 L953.2,554.35 L953.7,554.46 L954.2,554.48 L954.7,554.48 L955.2,554.41 L955.7,554.44 L956.2,554.42 L956.7,554.46 L957.2,554.41 L957.7,554.47 L958.2,554.48 L958.7,554.43 L959.2,554.43 L959.7,554.47 L960.2,554.44 L960.7,554.51 L961.2,554.37 L961.7,554.45 L962.2,554.47 L962.7,554.43 L963.2,554.48 L963.7,554.38 L964.2,554.35 L964.7,554.41 L965.2,554.46 L965.7,554.41 L966.2,554.50 L966.7,554.48 L967.2,554.36 L967.7,554.30 L968.2,554.25 L968.7,554.32 L969.2,554.31 L969.7,554.30 L970.2,554.32 L970.7,554.27 L971.2,554.40 L971.7,554.46 L972.2,554.44 L972.7,554.41 L973.2,554.36 L973.7,554.39 L974.2,554.36 L974.7,554.46 L975.2,554.52 L975.7,554.51 L976.2,554.53 L976.7,554.39 L977.2,554.32 L977.7,554.32 L978.2,554.27 L978.7,554.30 L979.2,554.43 L979.7,554.48 L980.2,554.53 L980.7,554.42 L981.2,554.35 L981.7,554.28 L982.2,554.28 L982.7,554.24 L983.2,554.30 L983.7,554.30 L984.2,554.37 L984.7,554.39 L985.2,554.41 L985.7,554.36 L986.2,554.42 L986.7,554.44 L987.2,554.46 L987.7,554.43 L988.2,554.40 L988.7,554.36 L989.2,554.28 L989.7,554.32 L990.2,554.37 L990.7,554.31 L991.2,554.41 L991.7,554.48 L992.2,554.51 L992.7,554.52 L993.2,554.46 L993.7,554.37 L994.2,554.33 L994.7,554.40 L995.2,554.49 L995.7,554.37 L996.2,554.28 L996.7,554.30 L997.2,554.30 L997.7,554.35 L998.2,554.29 L998.7,554.40 L999.2,554.36 L999.7,554.45 L1000.2,554.39 L1000.7,554.35 L1001.2,554.30 L1001.7,554.42 L1002.2,554.43 L1002.7,554.47 L1003.2,554.35 L1003.7,554.37 L1004.2,554.42 L1004.7,554.50 L1005.2,554.54 L1005.7,554.40 L1006.2,554.37 L1006.7,554.47 L1007.2,554.44 L1007.7,554.51 L1008.2,554.41 L1008.7,554.31 L1009.2,554.42 L1009.7,554.36 L1010.2,554.38 L1010.7,554.35 L1011.2,554.38 L1011.7,554.46 L1012.2,554.52 L1012.7,554.53 L1013.2,554.43 L1013.7,554.47 L1014.2,554.34 L1014.7,554.34 L1015.2,554.44 L1015.7,554.37 L1016.2,554.35 L1016.7,554.37 L1017.2,554.32 L1017.7,554.39 L1018.2,554.41 L1018.7,554.32 L1019.2,554.42 L1019.7,554.32 L1020.2,554.38 L1020.7,554.35 L1021.2,554.29 L1021.7,554.24 L1022.2,554.39 L1022.7,554.44 L1023.2,554.40 L1023.7,554.45 L1024.2,554.51 L1024.7,554.53 L1025.2,554.47 L1025.7,554.39 L1026.2,554.38 L1026.7,554.47 L1027.2,554.47 L1027.7,554.46 L1028.2,554.49 L1028.7,554.42 L1029.2,554.41 L1029.7,554.46 L1030.2,554.36 L1030.7,554.43 L1031.2,554.31 L1031.7,554.34 L1032.2,554.36 L1032.7,554.29 L1033.2,554.40 L1033.7,554.37 L1034.2,554.30 L1034.7,554.30 L1035.2,554.34 L1035.7,554.33 L1036.2,554.24 L1036.7,554.20 L1037.2,554.30 L1037.7,554.25 L1038.2,554.24 L1038.7,554.33 L1039.2,554.40 L1039.7,554.45 L1040.2,554.34 L1040.7,554.24 L1041.2,554.32 L1041.7,554.34 L1042.2,554.30 L1042.7,554.22 L1043.2,554.24 L1043.7,554.22 L1044.2,554.27 L1044.7,554.37 L1045.2,554.28 L1045.7,554.20 L1046.2,554.27 L1046.7,554.20 L1047.2,554.17 L1047.7,554.20 L1048.2,554.32 L1048.7,554.25 L1049.2,554.21 L1049.7,554.22 L1050.2,554.15 L1050.7,554.16 L1051.2,554.21 L1051.7,554.17 L1052.2,554.22 L1052.7,554.13 L1053.2,554.06 L1053.7,554.10 L1054.2,554.09 L1054.7,554.16 L1055.2,554.03 L1055.7,554.06 L1056.2,554.05 L1056.7,553.97 L1057.2,553.85 L1057.7,553.85 L1058.2,553.84 L1058.7,553.75 L1059.2,553.65 L1059.7,553.57 L1060.2,553.44 L1060.7,553.24 L1061.2,552.95 L1061.7,552.68 L1062.2,552.33 L1062.7,551.90 L1063.2,551.25 L1063.7,550.20 L1064.2,548.67 L1064.7,546.43 L1065.2,543.22 L1065.7,538.49 L1066.2,532.13 L1066.7,526.09 L1067.2,527.23 L1067.7,533.53 L1068.2,539.64 L1068.7,544.03 L1069.2,547.04 L1069.7,549.09 L1070.2,550.35 L1070.7,551.25 L1071.2,552.02 L1071.7,552.39 L1072.2,552.72 L1072.7,553.01 L1073.2,553.28 L1073.7,553.46 L1074.2,553.66 L1074.7,553.76 L1075.2,553.71 L1075.7,553.71 L1076.2,553.73 L1076.7,553.82 L1077.2,553.82 L1077.7,553.92 L1078.2,554.02 L1078.7,554.00 L1079.2,554.12 L1079.7,554.12 L1080.2,554.23 L1080.7,554.18 L1081.2,554.21 L1081.7,554.22 L1082.2,554.17 L1082.7,554.25 L1083.2,554.15 L1083.7,554.14 L1084.2,554.15 L1084.7,554.27 L1085.2,554.27 L1085.7,554.18 L1086.2,554.18 L1086.7,554.25 L1087.2,554.32 L1087.7,554.24 L1088.2,554.32 L1088.7,554.29 L1089.2,554.30 L1089.7,554.29 L1090.2,554.29 L1090.7,554.40 L1091.2,554.45 L1091.7,554.48 L1092.2,554.46 L1092.7,554.45 L1093.2,554.33 L1093.7,554.24 L1094.2,554.34 L1094.7,554.37 L1095.2,554.39 L1095.7,554.33 L1096.2,554.29 L1096.7,554.39 L1097.2,554.38 L1097.7,554.28 L1098.2,554.27 L1098.7,554.28 L1099.2,554.22 L1099.7,554.37 L1100.2,554.44 L1100.7,554.47 L1101.2,554.33 L1101.7,554.32 L1102.2,554.26 L1102.7,554.34 L1103.2,554.41 L1103.7,554.44 L1104.2,554.47 L1104.7,554.35 L1105.2,554.26 L1105.7,554.22 L1106.2,554.35 L1106.7,554.42 L1107.2,554.40 L1107.7,554.33 L1108.2,554.42 L1108.7,554.32 L1109.2,554.31 L1109.7,554.23 L1110.2,554.38 L1110.7,554.36 L1111.2,554.41 L1111.7,554.45 L1112.2,554.44 L1112.7,554.50 L1113.2,554.50 L1113.7,554.53 L1114.2,554.56 L1114.7,554.40 L1115.2,554.44 L1115.7,554.36 L1116.2,554.33 L1116.7,554.32 L1117.2,554.43 L1117.7,554.32 L1118.2,554.33 L1118.7,554.28 L1119.2,554.41 L1119.7,554.39 L1120.2,554.42 L1120.7,554.41 L1121.2,554.44 L1121.7,554.38 L1122.2,554.36 L1122.7,554.41 L1123.2,554.44 L1123.7,554.49 L1124.2,554.40 L1124.7,554.46 L1125.2,554.47 L1125.7,554.45 L1126.2,554.40 L1126.7,554.40 L1127.2,554.31 L1127.7,554.26 L1128.2,554.27 L1128.7,554.24 L1129.2,554.20 L1129.7,554.31 L1130.2,554.38 L1130.7,554.40 L1131.2,554.33 L1131.7,554.39 L1132.2,554.45 L1132.7,554.44 L1133.2,554.36 L1133.7,554.38 L1134.2,554.35 L1134.7,554.32 L1135.2,554.27 L1135.7,554.38 L1136.2,554.40 L1136.7,554.47 L1137.2,554.37 L1137.7,554.32 L1138.2,554.34 L1138.7,554.27 L1139.2,554.27 L1139.7,554.32 L1140.2,554.33 L1140.7,554.43 L1141.2,554.42 L1141.7,554.42 L1142.2,554.42 L1142.7,554.45 L1143.2,554.39 L1143.7,554.28 L1144.2,554.41 L1144.7,554.45 L1145.2,554.34 L1145.7,554.27 L1146.2,554.26 L1146.7,554.33 L1147.2,554.27 L1147.7,554.21 L1148.2,554.27 L1148.7,554.21 L1149.2,554.22 L1149.7,554.25 L1150.2,554.24 L1150.7,554.19 L1151.2,554.21 L1151.7,554.22 L1152.2,554.24 L1152.7,554.26 L1153.2,554.27 L1153.7,554.27 L1154.2,554.21 L1154.7,554.32 L1155.2,554.38 L1155.7,554.36 L1156.2,554.26 L1156.7,554.24 L1157.2,554.35 L1157.7,554.34 L1158.2,554.28 L1158.7,554.36 L1159.2,554.42 L1159.7,554.31 L1160.2,554.31 L1160.7,554.32 L1161.2,554.25 L1161.7,554.24 L1162.2,554.28 L1162.7,554.32 L1163.2,554.34 L1163.7,554.34 L1164.2,554.29 L1164.7,554.21 L1165.2,554.14 L1165.7,554.25 L1166.2,554.33 L1166.7,554.37 L1167.2,554.24 L1167.7,554.29 L1168.2,554.20 L1168.7,554.17 L1169.2,554.12 L1169.7,554.22 L1170.2,554.26 L1170.7,554.28 L1171.2,554.20 L1171.7,554.24 L1172.2,554.13 L1172.7,554.11 L1173.2,554.11 L1173.7,554.01 L1174.2,553.96 L1174.7,553.85 L1175.2,553.89 L1175.7,553.77 L1176.2,553.66 L1176.7,553.57 L1177.2,553.53 L1177.7,553.43 L1178.2,553.26 L1178.7,553.10 L1179.2,552.83 L1179.7,552.34 L1180.2,551.81 L1180.7,550.99 L1181.2,549.89 L1181.7,548.29 L1182.2,545.94 L1182.7,542.58 L1183.2,538.06 L1183.7,532.96 L1184.2,530.43 L1184.7,534.83 L1185.2,540.01 L1185.7,544.19 L1186.2,547.03 L1186.7,548.97 L1187.2,550.38 L1187.7,551.36 L1188.2,551.94 L1188.7,552.51 L1189.2,552.81 L1189.7,553.11 L1190.2,553.32 L1190.7,553.45 L1191.2,553.67 L1191.7,553.72 L1192.2,553.78 L1192.7,553.86 L1193.2,553.98 L1193.7,554.09 L1194.2,554.13 L1194.7,554.12 L1195.2,554.15 L1195.7,554.17 L1196.2,554.25 L1196.7,554.30 L1197.2,554.30 L1197.7,554.20 L1198.2,554.21 L1198.7,554.20 L1199.2,554.15 L1199.7,554.23 L1200.2,554.18 L1200.7,554.24 L1201.2,554.24 L1201.7,554.22 L1202.2,554.27 L1202.7,554.31 L1203.2,554.38 L1203.7,554.42 L1204.2,554.41 L1204.7,554.30 L1205.2,554.32 L1205.7,554.29 L1206.2,554.36 L1206.7,554.30 L1207.2,554.25 L1207.7,554.15 L1208.2,554.18 L1208.7,554.20 L1209.2,554.17 L1209.7,554.11 L1210.2,554.14 L1210.7,554.07 L1211.2,554.03 L1211.7,554.06 L1212.2,554.04 L1212.7,554.04 L1213.2,554.02 L1213.7,553.96 L1214.2,553.83 L1214.7,553.68 L1215.2,553.63 L1215.7,553.59 L1216.2,553.31 L1216.7,552.98 L1217.2,552.53 L1217.7,552.02 L1218.2,551.24 L1218.7,550.42 L1219.2,549.52 L1219.7,549.61 L1220.2,550.42 L1220.7,551.31 L1221.2,552.07 L1221.7,552.63 L1222.2,553.15 L1222.7,553.40 L1223.2,553.62 L1223.7,553.86 L1224.2,553.96 L1224.7,554.03 L1225.2,554.13 L1225.7,554.11 L1226.2,554.05 L1226.7,554.20 L1227.2,554.22 L1227.7,554.25 L1228.2,554.17 L1228.7,554.26 L1229.2,554.24 L1229.7,554.29 L1230.2,554.25 L1230.7,554.35 L1231.2,554.31 L1231.7,554.27 L1232.2,554.36 L1232.7,554.30 L1233.2,554.26 L1233.7,554.29 L1234.2,554.40 L1234.7,554.30 L1235.2,554.26 L1235.7,554.35 L1236.2,554.27 L1236.7,554.28 L1237.2,554.37 L1237.7,554.40 L1238.2,554.44 L1238.7,554.33 L1239.2,554.42 L1239.7,554.37 L1240.2,554.42 L1240.7,554.39 L1241.2,554.46 L1241.7,554.42 L1242.2,554.35 L1242.7,554.29 L1243.2,554.32 L1243.7,554.25 L1244.2,554.24 L1244.7,554.36 L1245.2,554.38 L1245.7,554.45 L1246.2,554.35 L1246.7,554.36 L1247.2,554.36 L1247.7,554.29 L1248.2,554.28 L1248.7,554.40 L1249.2,554.43 L1249.7,554.41 L1250.2,554.42 L1250.7,554.47 L1251.2,554.52 L1251.7,554.48 L1252.2,554.36 L1252.7,554.44 L1253.2,554.35 L1253.7,554.31 L1254.2,554.27 L1254.7,554.32 L1255.2,554.36 L1255.7,554.36 L1256.2,554.36 L1256.7,554.30 L1257.2,554.38 L1257.7,554.39 L1258.2,554.35 L1258.7,554.43 L1259.2,554.49 L1259.7,554.53 L1260.2,554.57 L1260.7,554.41 L1261.2,554.38 L1261.7,554.37 L1262.2,554.33 L1262.7,554.40 L1263.2,554.47 L1263.7,554.37 L1264.2,554.38 L1264.7,554.47 L1265.2,554.51 L1265.7,554.45 L1266.2,554.35 L1266.7,554.36 L1267.2,554.37 L1267.7,554.43 L1268.2,554.36 L1268.7,554.33 L1269.2,554.44 L1269.7,554.33 L1270.2,554.37 L1270.7,554.30 L1271.2,554.39 L1271.7,554.37 L1272.2,554.46 L1272.7,554.38 L1273.2,554.46 L1273.7,554.38 L1274.2,554.30 L1274.7,554.25 L1275.2,554.23 L1275.7,554.27 L1276.2,554.41 L1276.7,554.37 L1277.2,554.42 L1277.7,554.32 L1278.2,554.35 L1278.7,554.37 L1279.2,554.30 L1279.7,554.35 L1280.2,554.36 L1280.7,554.34 L1281.2,554.42 L1281.7,554.45 L1282.2,554.35 L1282.7,554.29 L1283.2,554.25 L1283.7,554.26 L1284.2,554.34 L1284.7,554.45 L1285.2,554.52 L1285.7,554.54 L1286.2,554.41 L1286.7,554.46 L1287.2,554.48 L1287.7,554.44 L1288.2,554.52 L1288.7,554.49 L1289.2,554.38 L1289.7,554.33 L1290.2,554.28 L1290.7,554.35 L1291.2,554.39 L1291.7,554.46 L1292.2,554.34 L1292.7,554.27 L1293.2,554.41 L1293.7,554.36 L1294.2,554.33 L1294.7,554.42 L1295.2,554.34 L1295.7,554.42 L1296.2,554.48 L1296.7,554.46 L1297.2,554.45 L1297.7,554.34 L1298.2,554.38 L1298.7,554.41 L1299.2,554.45 L1299.7,554.43 L1300.2,554.34 L1300.7,554.31 L1301.2,554.37 L1301.7,554.30 L1302.2,554.26 L1302.7,554.27 L1303.2,554.38 L1303.7,554.39 L1304.2,554.37 L1304.7,554.47 L1305.2,554.45 L1305.7,554.38 L1306.2,554.40 L1306.7,554.47 L1307.2,554.41 L1307.7,554.39 L1308.2,554.41 L1308.7,554.50 L1309.2,554.48 L1309.7,554.39 L1310.2,554.41 L1310.7,554.37 L1311.2,554.37 L1311.7,554.42 L1312.2,554.32 L1312.7,554.35 L1313.2,554.33 L1313.7,554.38 L1314.2,554.45 L1314.7,554.42 L1315.2,554.43 L1315.7,554.38 L1316.2,554.34 L1316.7,554.36 L1317.2,554.38 L1317.7,554.33 L1318.2,554.41 L1318.7,554.40 L1319.2,554.37 L1319.7,554.33 L1320.2,554.42 L1320.7,554.49 L1321.2,554.54 L1321.7,554.43 L1322.2,554.34 L1322.7,554.38 L1323.2,554.30 L1323.7,554.41 L1324.2,554.44 L1324.7,554.39 L1325.2,554.38 L1325.7,554.42 L1326.2,554.35 L1326.7,554.34 L1327.2,554.42 L1327.7,554.44 L1328.2,554.44 L1328.7,554.35 L1329.2,554.31 L1329.7,554.30 L1330.2,554.25 L1330.7,554.33 L1331.2,554.37 L1331.7,554.46 L1332.2,554.45 L1332.7,554.51 L1333.2,554.46 L1333.7,554.44 L1334.2,554.38 L1334.7,554.38 L1335.2,554.47 L1335.7,554.44 L1336.2,554.33 L1336.7,554.33 L1337.2,554.30 L1337.7,554.36" fill="none" stroke="#6e6e6e" stroke-width="1.0" stroke-linejoin="round"/>
<text class="hk" transform="translate(765.1,232.9) rotate(-90)" textLength="26.6" lengthAdjust="spacingAndGlyphs">(002)</text>
<text class="hk" transform="translate(776.6,234.8) rotate(-90)" textLength="25.8" lengthAdjust="spacingAndGlyphs">(110)</text>
<text class="hk" transform="translate(802.3,238.2) rotate(-90)" textLength="26.5" lengthAdjust="spacingAndGlyphs">(111)</text>
<text class="hk" transform="translate(908.6,240.9) rotate(-90)" textLength="25.8" lengthAdjust="spacingAndGlyphs">(112)</text>
<text class="hk" transform="translate(982.2,239.6) rotate(-90)" textLength="25.3" lengthAdjust="spacingAndGlyphs">(211)</text>
<text class="hk" transform="translate(1014.9,240.9) rotate(-90)" textLength="25.8" lengthAdjust="spacingAndGlyphs">(300)</text>
<text class="hk" transform="translate(1049.4,242.2) rotate(-90)" textLength="26.6" lengthAdjust="spacingAndGlyphs">(113)</text>
<text class="hk" transform="translate(1105.4,244.9) rotate(-90)" textLength="26.1" lengthAdjust="spacingAndGlyphs">(004)</text>
<text class="hk" transform="translate(1118.7,234.2) rotate(-90)" textLength="26.0" lengthAdjust="spacingAndGlyphs">(302)</text>
<text class="hk" transform="translate(1143.1,240.9) rotate(-90)" textLength="26.6" lengthAdjust="spacingAndGlyphs">(221)</text>
<text class="hk" transform="translate(1193.6,244.9) rotate(-90)" textLength="26.1" lengthAdjust="spacingAndGlyphs">(114)</text>
<text class="hk" transform="translate(1208.2,244.9) rotate(-90)" textLength="26.1" lengthAdjust="spacingAndGlyphs">(222)</text>
<text class="hk" transform="translate(1294.0,250.2) rotate(-90)" textLength="25.3" lengthAdjust="spacingAndGlyphs">(223)</text>
<text class="hk" transform="translate(858.9,487.3) rotate(-90)" textLength="26.6" lengthAdjust="spacingAndGlyphs">(200)</text>
<text class="hk" transform="translate(1045.4,489.2) rotate(-90)" textLength="25.8" lengthAdjust="spacingAndGlyphs">(220)</text>
<text class="hk" transform="translate(1147.1,486.0) rotate(-90)" textLength="25.3" lengthAdjust="spacingAndGlyphs">(311)</text>
<text class="hk" transform="translate(1183.5,494.0) rotate(-90)" textLength="25.3" lengthAdjust="spacingAndGlyphs">(222)</text>
<text class="hk" transform="translate(1300.6,502.6) rotate(-90)" textLength="24.1" lengthAdjust="spacingAndGlyphs">(400)</text>
<text class="hk" transform="translate(811.1,594.2) rotate(-90)" textLength="26.0" lengthAdjust="spacingAndGlyphs">(111)</text>
<text class="hk" transform="translate(880.2,586.8) rotate(-90)" textLength="25.8" lengthAdjust="spacingAndGlyphs">(200)</text>
<text class="hk" transform="translate(1078.6,590.3) rotate(-90)" textLength="25.8" lengthAdjust="spacingAndGlyphs">(220)</text>
<text class="hk" transform="translate(1178.2,594.2) rotate(-90)" textLength="26.0" lengthAdjust="spacingAndGlyphs">(311)</text>
<text class="hk" transform="translate(1224.7,600.1) rotate(-90)" textLength="25.8" lengthAdjust="spacingAndGlyphs">(222)</text>
<circle cx="761.2" cy="169.1" r="5.2" fill="#fff" stroke="#3a3a3a" stroke-width="1.05"/><circle cx="761.2" cy="169.1" r="1.8" fill="#000"/>
<circle cx="770.5" cy="176.3" r="5.2" fill="#fff" stroke="#3a3a3a" stroke-width="1.05"/><circle cx="770.5" cy="176.3" r="1.8" fill="#000"/>
<circle cx="804.8" cy="146.6" r="5.2" fill="#fff" stroke="#3a3a3a" stroke-width="1.05"/><circle cx="804.8" cy="146.6" r="1.8" fill="#000"/>
<circle cx="904.7" cy="181.1" r="5.2" fill="#fff" stroke="#3a3a3a" stroke-width="1.05"/><circle cx="904.7" cy="181.1" r="1.8" fill="#000"/>
<circle cx="1019.4" cy="169.1" r="5.2" fill="#fff" stroke="#3a3a3a" stroke-width="1.05"/><circle cx="1019.4" cy="169.1" r="1.8" fill="#000"/>
<circle cx="1036.4" cy="169.9" r="5.2" fill="#fff" stroke="#3a3a3a" stroke-width="1.05"/><circle cx="1036.4" cy="169.9" r="1.8" fill="#000"/>
<circle cx="1112.3" cy="175.8" r="5.2" fill="#fff" stroke="#3a3a3a" stroke-width="1.05"/><circle cx="1112.3" cy="175.8" r="1.8" fill="#000"/>
<circle cx="1142.9" cy="185.1" r="5.2" fill="#fff" stroke="#3a3a3a" stroke-width="1.05"/><circle cx="1142.9" cy="185.1" r="1.8" fill="#000"/>
<circle cx="1298.6" cy="187.0" r="5.2" fill="#fff" stroke="#3a3a3a" stroke-width="1.05"/><circle cx="1298.6" cy="187.0" r="1.8" fill="#000"/>
<circle cx="806.9" cy="289.5" r="5.2" fill="#fff" stroke="#3a3a3a" stroke-width="1.05"/><circle cx="806.9" cy="289.5" r="1.8" fill="#000"/>
<circle cx="1021.3" cy="291.9" r="5.2" fill="#fff" stroke="#3a3a3a" stroke-width="1.05"/><circle cx="1021.3" cy="291.9" r="1.8" fill="#000"/>
<circle cx="1038.6" cy="293.2" r="5.2" fill="#fff" stroke="#3a3a3a" stroke-width="1.05"/><circle cx="1038.6" cy="293.2" r="1.8" fill="#000"/>
<circle cx="1113.9" cy="288.7" r="5.2" fill="#fff" stroke="#3a3a3a" stroke-width="1.05"/><circle cx="1113.9" cy="288.7" r="1.8" fill="#000"/>
<circle cx="1143.7" cy="293.2" r="5.2" fill="#fff" stroke="#3a3a3a" stroke-width="1.05"/><circle cx="1143.7" cy="293.2" r="1.8" fill="#000"/>
<circle cx="1018.6" cy="341.7" r="5.2" fill="#fff" stroke="#3a3a3a" stroke-width="1.05"/><circle cx="1018.6" cy="341.7" r="1.8" fill="#000"/>
<circle cx="1035.4" cy="343.0" r="5.2" fill="#fff" stroke="#3a3a3a" stroke-width="1.05"/><circle cx="1035.4" cy="343.0" r="1.8" fill="#000"/>
<circle cx="1024.2" cy="386.9" r="5.2" fill="#fff" stroke="#3a3a3a" stroke-width="1.05"/><circle cx="1024.2" cy="386.9" r="1.8" fill="#000"/>
<circle cx="1041.2" cy="388.2" r="5.2" fill="#fff" stroke="#3a3a3a" stroke-width="1.05"/><circle cx="1041.2" cy="388.2" r="1.8" fill="#000"/>
<circle cx="1113.7" cy="437.4" r="5.2" fill="#fff" stroke="#3a3a3a" stroke-width="1.05"/><circle cx="1113.7" cy="437.4" r="1.8" fill="#000"/>
<circle cx="1142.9" cy="432.0" r="5.2" fill="#fff" stroke="#3a3a3a" stroke-width="1.05"/><circle cx="1142.9" cy="432.0" r="1.8" fill="#000"/>
<circle cx="1298.6" cy="440.0" r="5.2" fill="#fff" stroke="#3a3a3a" stroke-width="1.05"/><circle cx="1298.6" cy="440.0" r="1.8" fill="#000"/>
<circle cx="1225.8" cy="213.2" r="6.0" fill="#fff" stroke="#3a3a3a" stroke-width="1.05"/><circle cx="1225.8" cy="213.2" r="1.8" fill="#000"/>
<path d="M786.5,171.6 L797.1,171.6 L791.8,181.0Z" fill="#fff" stroke="#3a3a3a" stroke-width="1.05" stroke-linejoin="miter"/>
<path d="M841.7,185.2 L852.3,185.2 L847.0,194.6Z" fill="#fff" stroke="#3a3a3a" stroke-width="1.05" stroke-linejoin="miter"/>
<path d="M1123.8,179.1 L1134.4,179.1 L1129.1,188.5Z" fill="#fff" stroke="#3a3a3a" stroke-width="1.05" stroke-linejoin="miter"/>
<path d="M785.1,285.3 L795.7,285.3 L790.4,294.7Z" fill="#fff" stroke="#3a3a3a" stroke-width="1.05" stroke-linejoin="miter"/>
<path d="M840.9,284.5 L851.5,284.5 L846.2,293.9Z" fill="#fff" stroke="#3a3a3a" stroke-width="1.05" stroke-linejoin="miter"/>
<path d="M1123.8,287.5 L1134.4,287.5 L1129.1,296.9Z" fill="#fff" stroke="#3a3a3a" stroke-width="1.05" stroke-linejoin="miter"/>
<path d="M840.1,426.0 L850.7,426.0 L845.4,435.4Z" fill="#fff" stroke="#3a3a3a" stroke-width="1.05" stroke-linejoin="miter"/>
<path d="M1019.5,424.2 L1030.1,424.2 L1024.8,433.6Z" fill="#fff" stroke="#3a3a3a" stroke-width="1.05" stroke-linejoin="miter"/>
<path d="M1124.3,426.8 L1134.9,426.8 L1129.6,436.2Z" fill="#fff" stroke="#3a3a3a" stroke-width="1.05" stroke-linejoin="miter"/>
<path d="M1165.5,434.8 L1176.1,434.8 L1170.8,444.2Z" fill="#fff" stroke="#3a3a3a" stroke-width="1.05" stroke-linejoin="miter"/>
<path d="M1279.2,434.8 L1289.8,434.8 L1284.5,444.2Z" fill="#fff" stroke="#3a3a3a" stroke-width="1.05" stroke-linejoin="miter"/>
<path d="M1210.9,459.5 L1221.5,459.5 L1216.2,468.9Z" fill="#fff" stroke="#3a3a3a" stroke-width="1.05" stroke-linejoin="miter"/>
<path d="M810.9,147.9 L816.5,142.3 L822.1,147.9 L816.5,153.5Z" fill="#000"/>
<path d="M871.7,173.7 L877.3,168.1 L882.9,173.7 L877.3,179.3Z" fill="#000"/>
<path d="M1061.1,169.7 L1066.7,164.1 L1072.3,169.7 L1066.7,175.3Z" fill="#000"/>
<path d="M1177.9,173.9 L1183.5,168.3 L1189.1,173.9 L1183.5,179.5Z" fill="#000"/>
<path d="M1215.1,183.0 L1220.7,177.4 L1226.3,183.0 L1220.7,188.6Z" fill="#000"/>
<path d="M810.6,258.2 L816.2,252.6 L821.8,258.2 L816.2,263.8Z" fill="#000"/>
<path d="M869.8,272.2 L875.4,266.6 L881.0,272.2 L875.4,277.8Z" fill="#000"/>
<path d="M1060.3,265.3 L1065.9,259.7 L1071.5,265.3 L1065.9,270.9Z" fill="#000"/>
<path d="M1177.1,272.0 L1182.7,266.4 L1188.3,272.0 L1182.7,277.6Z" fill="#000"/>
<path d="M1214.3,285.3 L1219.9,279.7 L1225.5,285.3 L1219.9,290.9Z" fill="#000"/>
<path d="M806.6,307.4 L812.2,301.8 L817.8,307.4 L812.2,313.0Z" fill="#000"/>
<path d="M867.7,323.9 L873.3,318.3 L878.9,323.9 L873.3,329.5Z" fill="#000"/>
<path d="M1058.5,305.8 L1064.1,300.2 L1069.7,305.8 L1064.1,311.4Z" fill="#000"/>
<path d="M1175.3,311.2 L1180.9,305.6 L1186.5,311.2 L1180.9,316.8Z" fill="#000"/>
<path d="M1212.5,331.9 L1218.1,326.3 L1223.7,331.9 L1218.1,337.5Z" fill="#000"/>
<path d="M813.0,357.1 L818.6,351.5 L824.2,357.1 L818.6,362.7Z" fill="#000"/>
<path d="M874.4,378.9 L880.0,373.3 L885.6,378.9 L880.0,384.5Z" fill="#000"/>
<path d="M1065.6,368.3 L1071.2,362.7 L1076.8,368.3 L1071.2,373.9Z" fill="#000"/>
<path d="M1183.8,373.6 L1189.4,368.0 L1195.0,373.6 L1189.4,379.2Z" fill="#000"/>
<path d="M1221.8,385.5 L1227.4,379.9 L1233.0,385.5 L1227.4,391.1Z" fill="#000"/>
<path d="M1059.8,438.4 L1065.4,432.8 L1071.0,438.4 L1065.4,444.0Z" fill="#000"/>
<path d="M1178.5,440.3 L1184.1,434.7 L1189.7,440.3 L1184.1,445.9Z" fill="#000"/>
<path d="M811.9,514.0 L817.5,508.4 L823.1,514.0 L817.5,519.6Z" fill="#000"/>
<path d="M870.4,530.5 L876.0,524.9 L881.6,530.5 L876.0,536.1Z" fill="#000"/>
<path d="M1061.7,515.9 L1067.3,510.3 L1072.9,515.9 L1067.3,521.5Z" fill="#000"/>
<path d="M1177.9,523.0 L1183.5,517.4 L1189.1,523.0 L1183.5,528.6Z" fill="#000"/>
<path d="M1213.3,535.8 L1218.9,530.2 L1224.5,535.8 L1218.9,541.4Z" fill="#000"/>
<path d="M1214.4,565.5 L1220.7,559.2 L1227.0,565.5 L1220.7,571.8Z" fill="#000"/>
<text class="num" x="1329.7" y="180.6" text-anchor="middle">6</text>
<text class="num" x="1329.7" y="276.7" text-anchor="middle">5</text>
<text class="num" x="1329.7" y="329.8" text-anchor="middle">4</text>
<text class="num" x="1329.7" y="381" text-anchor="middle">3</text>
<text class="num" x="1329.7" y="431.5" text-anchor="middle">2</text>
<text class="num" x="1329.7" y="530" text-anchor="middle">1</text>
<text class="lg" x="1233.8" y="218.8" textLength="30.4" lengthAdjust="spacingAndGlyphs">CeF</text>
<text x="1264.8" y="226" font-size="9.6" style="fill:#111">3</text>
<text class="lg" x="1271.2" y="218.8" textLength="124.5" lengthAdjust="spacingAndGlyphs">:JCPDs 08-0045</text>
<text class="lg" x="1225.3" y="470" textLength="169" lengthAdjust="spacingAndGlyphs">CeOF:JCPDs 22-0168</text>
<text class="lg" x="1227.9" y="571.1" textLength="34.5" lengthAdjust="spacingAndGlyphs">CeO</text>
<text x="1263.4" y="577.2" font-size="9.6" style="fill:#111">2</text>
<text class="lg" x="1268.7" y="571.1" textLength="124.8" lengthAdjust="spacingAndGlyphs">:JCPDs 04-0593</text>
<line x1="703.1" y1="129" x2="703.1" y2="623.1" stroke="#333" stroke-width="2"/>
<line x1="702.1" y1="614.1" x2="1338.8" y2="614.1" stroke="#333" stroke-width="1.9"/>
<line x1="703.2" y1="614" x2="703.2" y2="623.1" stroke="#333" stroke-width="1.9"/>
<line x1="729.6" y1="614" x2="729.6" y2="618.7" stroke="#333" stroke-width="1.9"/>
<line x1="756.1" y1="614" x2="756.1" y2="618.7" stroke="#333" stroke-width="1.9"/>
<line x1="782.5" y1="614" x2="782.5" y2="618.7" stroke="#333" stroke-width="1.9"/>
<line x1="809.0" y1="614" x2="809.0" y2="618.7" stroke="#333" stroke-width="1.9"/>
<line x1="835.4" y1="614" x2="835.4" y2="623.1" stroke="#333" stroke-width="1.9"/>
<line x1="861.8" y1="614" x2="861.8" y2="618.7" stroke="#333" stroke-width="1.9"/>
<line x1="888.3" y1="614" x2="888.3" y2="618.7" stroke="#333" stroke-width="1.9"/>
<line x1="914.7" y1="614" x2="914.7" y2="618.7" stroke="#333" stroke-width="1.9"/>
<line x1="941.2" y1="614" x2="941.2" y2="618.7" stroke="#333" stroke-width="1.9"/>
<line x1="967.6" y1="614" x2="967.6" y2="623.1" stroke="#333" stroke-width="1.9"/>
<line x1="994.0" y1="614" x2="994.0" y2="618.7" stroke="#333" stroke-width="1.9"/>
<line x1="1020.5" y1="614" x2="1020.5" y2="618.7" stroke="#333" stroke-width="1.9"/>
<line x1="1046.9" y1="614" x2="1046.9" y2="618.7" stroke="#333" stroke-width="1.9"/>
<line x1="1073.4" y1="614" x2="1073.4" y2="618.7" stroke="#333" stroke-width="1.9"/>
<line x1="1099.8" y1="614" x2="1099.8" y2="623.1" stroke="#333" stroke-width="1.9"/>
<line x1="1126.2" y1="614" x2="1126.2" y2="618.7" stroke="#333" stroke-width="1.9"/>
<line x1="1152.7" y1="614" x2="1152.7" y2="618.7" stroke="#333" stroke-width="1.9"/>
<line x1="1179.1" y1="614" x2="1179.1" y2="618.7" stroke="#333" stroke-width="1.9"/>
<line x1="1205.6" y1="614" x2="1205.6" y2="618.7" stroke="#333" stroke-width="1.9"/>
<line x1="1232.0" y1="614" x2="1232.0" y2="623.1" stroke="#333" stroke-width="1.9"/>
<line x1="1258.4" y1="614" x2="1258.4" y2="618.7" stroke="#333" stroke-width="1.9"/>
<line x1="1284.9" y1="614" x2="1284.9" y2="618.7" stroke="#333" stroke-width="1.9"/>
<line x1="1311.3" y1="614" x2="1311.3" y2="618.7" stroke="#333" stroke-width="1.9"/>
<line x1="1337.8" y1="614" x2="1337.8" y2="618.7" stroke="#333" stroke-width="1.9"/>
<text class="ax" x="703.2" y="641.5" text-anchor="middle" textLength="17.6" lengthAdjust="spacingAndGlyphs">20</text>
<text class="ax" x="835.4" y="641.5" text-anchor="middle" textLength="17.6" lengthAdjust="spacingAndGlyphs">30</text>
<text class="ax" x="967.6" y="641.5" text-anchor="middle" textLength="17.6" lengthAdjust="spacingAndGlyphs">40</text>
<text class="ax" x="1099.8" y="641.5" text-anchor="middle" textLength="17.6" lengthAdjust="spacingAndGlyphs">50</text>
<text class="ax" x="1232.0" y="641.5" text-anchor="middle" textLength="17.6" lengthAdjust="spacingAndGlyphs">60</text>
<text x="960.3" y="675.2" font-size="20" style="fill:#111">2</text>
<text x="972.8" y="675.2" font-size="15.2" style="fill:#111" textLength="12.4" lengthAdjust="spacingAndGlyphs">Θ</text>
<text x="992.3" y="675.2" font-size="20" style="fill:#111" textLength="88.8" lengthAdjust="spacingAndGlyphs">(degrees)</text>
</g>
<circle cx="143.1" cy="432.8" r="129.7" fill="#fac090"/>
<circle cx="427.4" cy="438.2" r="129.8" fill="#604a7b"/>
<circle cx="427.3" cy="437.3" r="112.2" fill="#fac090"/>
<circle cx="710" cy="438.2" r="129.7" fill="#604a7b"/>
<circle cx="710.7" cy="437.3" r="88.4" fill="#fac090"/>
<path d="M171.2,220.6 H495.3 V197.25 L681.2,244.3 L495.3,291.35 V268 H171.2 Z" fill="#d99694" stroke="#9b3937" stroke-width="4" stroke-miterlimit="10"/>
<text x="380" y="256.5" font-size="34" font-weight="bold" text-anchor="middle" textLength="71.5" lengthAdjust="spacingAndGlyphs">time</text>
<text class="big" x="237.1" y="139.2" textLength="198.8" lengthAdjust="spacingAndGlyphs">Fluorination</text>
<text class="big" x="444" y="139.2">via</text>
<text class="big" x="502.3" y="139.2">R-134a</text>
<text class="big" x="634.9" y="139.2" textLength="61" lengthAdjust="spacingAndGlyphs">gas</text>
<text class="bot" x="36.2" y="686.3" textLength="66.8" lengthAdjust="spacingAndGlyphs">CeO</text>
<text class="bot" x="126.4" y="686.3" textLength="192" lengthAdjust="spacingAndGlyphs">nanoparticles</text>
<text class="bot" x="385.5" y="686.3" textLength="66.8" lengthAdjust="spacingAndGlyphs">CeO</text>
<text class="bot" x="476.3" y="686.3" textLength="63" lengthAdjust="spacingAndGlyphs">core</text>
<text class="bot" x="550.9" y="686.3" textLength="17.8" lengthAdjust="spacingAndGlyphs">–</text>
<text class="bot" x="578" y="686.3" textLength="59.5" lengthAdjust="spacingAndGlyphs">CeF</text>
<text class="bot" x="662.6" y="686.3" textLength="65.8" lengthAdjust="spacingAndGlyphs">shell</text>
<text class="bot" x="740.8" y="686.3" textLength="127" lengthAdjust="spacingAndGlyphs">structure</text>
<text x="102.8" y="692.5" font-size="22" textLength="12.6" lengthAdjust="spacingAndGlyphs">2</text>
<text x="451.0" y="692.5" font-size="22" textLength="12.6" lengthAdjust="spacingAndGlyphs">2</text>
<text x="638.6" y="692.5" font-size="22" textLength="12.6" lengthAdjust="spacingAndGlyphs">3</text>
<text x="343.0" y="686.3" font-size="24" textLength="34" lengthAdjust="spacingAndGlyphs" style="font-family:'Noto Sans CJK SC','Liberation Sans',sans-serif">→</text>
<text class="ttl" x="703" y="67.6" textLength="486.4" lengthAdjust="spacingAndGlyphs">XRD demonstrates formation of CeO<tspan font-size="19.5" dy="6.5">2</tspan></text>
<text class="ttl" x="1197.8" y="67.6" textLength="184.6" lengthAdjust="spacingAndGlyphs">(cubic) – CeF<tspan font-size="19.5" dy="6.5">3</tspan></text>
<text class="ttl" x="914.8" y="102.4" textLength="254.5" lengthAdjust="spacingAndGlyphs">(hexagonal) phases</text>
<rect x="2" y="2" width="1464" height="798" rx="134" ry="134" fill="none" stroke="#3a5f8e" stroke-width="4.1"/>
</svg></body></html>
